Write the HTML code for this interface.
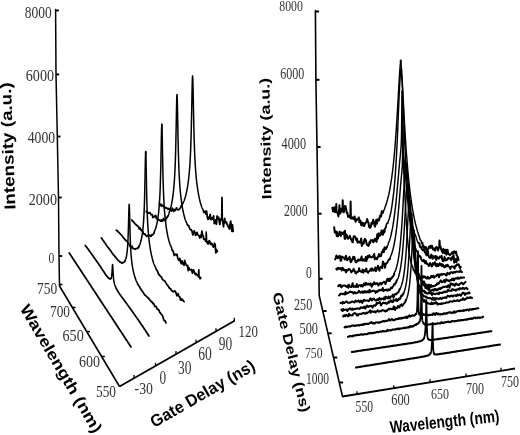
<!DOCTYPE html>
<html><head><meta charset="utf-8"><title>Gate delay spectra</title>
<style>html,body{margin:0;padding:0;background:#fff;} svg{display:block;}</style></head>
<body><svg width="520" height="435" viewBox="0 0 520 435">
<rect width="520" height="435" fill="#fff"/>
<polyline points="55.60,9.60 56.00,74.40 57.30,136.50 58.50,197.50 59.00,256.00 59.50,286.00" fill="none" stroke="#000" stroke-width="1.5" stroke-linejoin="round" stroke-linecap="round" />
<line x1="55.70" y1="10.50" x2="58.90" y2="10.50" stroke="#000" stroke-width="1.9" stroke-linecap="butt"/>
<line x1="56.00" y1="74.40" x2="59.20" y2="74.40" stroke="#000" stroke-width="1.9" stroke-linecap="butt"/>
<line x1="57.30" y1="136.50" x2="60.50" y2="136.50" stroke="#000" stroke-width="1.9" stroke-linecap="butt"/>
<line x1="58.50" y1="197.50" x2="61.70" y2="197.50" stroke="#000" stroke-width="1.9" stroke-linecap="butt"/>
<line x1="59.00" y1="256.00" x2="62.20" y2="256.00" stroke="#000" stroke-width="1.9" stroke-linecap="butt"/>
<line x1="59.50" y1="286.00" x2="119.50" y2="386.50" stroke="#000" stroke-width="1.6" stroke-linecap="butt"/>
<line x1="59.20" y1="284.50" x2="62.40" y2="284.50" stroke="#000" stroke-width="1.6" stroke-linecap="butt"/>
<line x1="72.34" y1="307.50" x2="75.54" y2="307.50" stroke="#000" stroke-width="1.6" stroke-linecap="butt"/>
<line x1="86.72" y1="331.60" x2="89.92" y2="331.60" stroke="#000" stroke-width="1.6" stroke-linecap="butt"/>
<line x1="101.59" y1="356.50" x2="104.79" y2="356.50" stroke="#000" stroke-width="1.6" stroke-linecap="butt"/>
<line x1="119.50" y1="386.50" x2="234.60" y2="320.80" stroke="#000" stroke-width="1.8" stroke-linecap="butt"/>
<line x1="134.00" y1="378.22" x2="134.00" y2="375.02" stroke="#000" stroke-width="1.3" stroke-linecap="butt"/>
<line x1="155.50" y1="365.95" x2="155.50" y2="362.75" stroke="#000" stroke-width="1.3" stroke-linecap="butt"/>
<line x1="176.00" y1="354.25" x2="176.00" y2="351.05" stroke="#000" stroke-width="1.3" stroke-linecap="butt"/>
<line x1="196.00" y1="342.83" x2="196.00" y2="339.63" stroke="#000" stroke-width="1.3" stroke-linecap="butt"/>
<line x1="216.00" y1="331.42" x2="216.00" y2="328.22" stroke="#000" stroke-width="1.3" stroke-linecap="butt"/>
<line x1="234.30" y1="320.97" x2="234.30" y2="317.77" stroke="#000" stroke-width="1.3" stroke-linecap="butt"/>
<text x="24.80" y="17.60" font-family="'Liberation Serif', serif" font-size="17.05" fill="#333" textLength="26.90" lengthAdjust="spacingAndGlyphs">8000</text>
<text x="25.80" y="80.50" font-family="'Liberation Serif', serif" font-size="17.21" fill="#333" textLength="28.30" lengthAdjust="spacingAndGlyphs">6000</text>
<text x="27.70" y="143.10" font-family="'Liberation Serif', serif" font-size="17.21" fill="#333" textLength="27.40" lengthAdjust="spacingAndGlyphs">4000</text>
<text x="28.70" y="204.90" font-family="'Liberation Serif', serif" font-size="17.52" fill="#333" textLength="28.30" lengthAdjust="spacingAndGlyphs">2000</text>
<text x="48.40" y="262.80" font-family="'Liberation Serif', serif" font-size="15.50" fill="#333" textLength="5.80" lengthAdjust="spacingAndGlyphs">0</text>
<text x="37.00" y="293.80" font-family="'Liberation Serif', serif" font-size="16.28" fill="#333" textLength="20.20" lengthAdjust="spacingAndGlyphs">750</text>
<text x="50.00" y="317.30" font-family="'Liberation Serif', serif" font-size="17.05" fill="#333" textLength="20.00" lengthAdjust="spacingAndGlyphs">700</text>
<text x="62.50" y="341.00" font-family="'Liberation Serif', serif" font-size="16.59" fill="#333" textLength="21.20" lengthAdjust="spacingAndGlyphs">650</text>
<text x="79.00" y="367.30" font-family="'Liberation Serif', serif" font-size="17.05" fill="#333" textLength="21.00" lengthAdjust="spacingAndGlyphs">600</text>
<text x="96.00" y="396.70" font-family="'Liberation Serif', serif" font-size="17.36" fill="#333" textLength="20.00" lengthAdjust="spacingAndGlyphs">550</text>
<text x="134.60" y="394.00" font-family="'Liberation Serif', serif" font-size="17.05" fill="#333" textLength="18.40" lengthAdjust="spacingAndGlyphs">-30</text>
<text x="159.60" y="383.60" font-family="'Liberation Serif', serif" font-size="17.98" fill="#333" textLength="6.60" lengthAdjust="spacingAndGlyphs">0</text>
<text x="178.00" y="374.00" font-family="'Liberation Serif', serif" font-size="17.83" fill="#333" textLength="13.50" lengthAdjust="spacingAndGlyphs">30</text>
<text x="198.20" y="360.30" font-family="'Liberation Serif', serif" font-size="18.76" fill="#333" textLength="13.60" lengthAdjust="spacingAndGlyphs">60</text>
<text x="218.80" y="350.10" font-family="'Liberation Serif', serif" font-size="18.29" fill="#333" textLength="13.40" lengthAdjust="spacingAndGlyphs">90</text>
<text x="238.60" y="337.40" font-family="'Liberation Serif', serif" font-size="16.74" fill="#333" textLength="19.40" lengthAdjust="spacingAndGlyphs">120</text>
<text x="15.40" y="209.60" font-family="'Liberation Sans', sans-serif" font-weight="bold" font-size="15.80" textLength="127.50" lengthAdjust="spacingAndGlyphs" transform="rotate(-92 15.40 209.60)">Intensity (a.u.)</text>
<text x="19.50" y="308.50" font-family="'Liberation Sans', sans-serif" font-weight="bold" font-size="15.80" textLength="146.00" lengthAdjust="spacingAndGlyphs" transform="rotate(59.5 19.50 308.50)">Wavelength (nm)</text>
<text x="154.30" y="428.00" font-family="'Liberation Sans', sans-serif" font-weight="bold" font-size="16.80" textLength="118.00" lengthAdjust="spacingAndGlyphs" transform="rotate(-30 154.30 428.00)">Gate Delay (ns)</text>
<polyline points="69.20,252.90 69.80,253.81 70.40,254.73 71.00,255.64 71.60,256.55 72.20,257.47 72.80,258.38 73.40,259.30 74.00,260.21 74.60,261.12 75.20,262.04 75.80,262.95 76.40,263.86 77.00,264.78 77.60,265.69 78.20,266.60 78.80,267.52 79.40,268.43 80.00,269.34 80.60,270.26 81.20,271.17 81.80,272.09 82.40,273.00 83.00,273.91 83.60,274.83 84.20,275.74 84.80,276.65 85.40,277.57 86.00,278.48 86.60,279.39 87.20,280.31 87.80,281.22 88.40,282.13 89.00,283.05 89.60,283.96 90.20,284.88 90.80,285.79 91.40,286.70 92.00,287.62 92.60,288.53 93.20,289.44 93.80,290.36 94.40,291.27 95.00,292.18 95.60,293.10 96.20,294.01 96.80,294.93 97.40,295.84 98.00,296.75 98.60,297.67 99.20,298.58 99.80,299.49 100.40,300.41 101.00,301.32 101.60,302.23 102.20,303.15 102.80,304.06 103.40,304.97 104.00,305.89 104.60,306.80 105.20,307.72 105.80,308.63 106.40,309.54 107.00,310.46 107.60,311.37 108.20,312.28 108.80,313.20 109.40,314.11 110.00,315.02 110.60,315.94 111.20,316.85 111.80,317.77 112.40,318.68 113.00,319.59 113.60,320.51 114.20,321.42 114.80,322.33 115.40,323.25 116.00,324.16 116.60,325.07 117.20,325.99 117.80,326.90 118.40,327.81 119.00,328.73 119.60,329.64 120.20,330.56 120.80,331.47 121.40,332.38 122.00,333.30 122.60,334.21 123.20,335.12 123.80,336.04 124.40,336.95 125.00,337.86 125.60,338.78 126.20,339.69 126.80,340.60 127.40,341.52 128.00,342.43 128.60,343.35 129.20,344.26 129.80,345.17 130.40,346.09 131.00,347.00" fill="none" stroke="#000" stroke-width="1.75" stroke-linejoin="round" stroke-linecap="round" />
<polyline points="85.30,245.50 85.90,246.28 86.50,247.07 87.10,247.86 87.60,248.53 87.70,248.66 87.72,248.69 87.84,248.85 87.96,249.01 88.08,249.17 88.20,249.33 88.30,249.47 88.32,249.49 88.44,249.66 88.56,249.82 88.68,249.98 88.80,250.14 88.90,250.28 88.92,250.30 89.04,250.47 89.16,250.63 89.28,250.79 89.40,250.96 89.50,251.09 89.52,251.12 89.64,251.28 89.76,251.45 89.88,251.61 90.00,251.78 90.10,251.91 90.12,251.94 90.24,252.10 90.36,252.27 90.48,252.43 90.60,252.60 90.70,252.74 90.72,252.76 90.84,252.93 90.96,253.10 91.08,253.26 91.20,253.43 91.30,253.57 91.32,253.59 91.44,253.76 91.56,253.93 91.68,254.09 91.80,254.26 91.90,254.40 91.92,254.43 92.04,254.60 92.16,254.76 92.28,254.93 92.40,255.10 92.50,255.24 92.52,255.27 92.64,255.43 92.76,255.60 92.88,255.77 93.00,255.94 93.10,256.08 93.12,256.11 93.24,256.28 93.36,256.45 93.48,256.62 93.60,256.79 93.70,256.93 93.72,256.96 93.84,257.13 93.96,257.30 94.08,257.47 94.20,257.64 94.30,257.78 94.32,257.81 94.44,257.98 94.56,258.15 94.68,258.32 94.80,258.49 94.90,258.63 94.92,258.66 95.04,258.83 95.16,259.00 95.28,259.17 95.40,259.35 95.50,259.49 95.52,259.52 95.64,259.69 95.76,259.86 95.88,260.03 96.00,260.21 96.10,260.35 96.12,260.38 96.24,260.55 96.36,260.72 96.48,260.90 96.60,261.07 96.70,261.21 96.72,261.24 96.84,261.41 96.96,261.59 97.08,261.76 97.20,261.93 97.30,262.08 97.32,262.11 97.44,262.28 97.56,262.45 97.68,262.63 97.80,262.80 97.90,262.95 97.92,262.98 98.04,263.15 98.16,263.32 98.28,263.50 98.40,263.67 98.50,263.82 98.52,263.85 98.64,264.02 98.76,264.19 98.88,264.37 99.00,264.54 99.10,264.69 99.12,264.72 99.24,264.89 99.36,265.07 99.48,265.24 99.60,265.42 99.70,265.56 99.72,265.59 99.84,265.77 99.96,265.94 100.08,266.12 100.20,266.29 100.30,266.44 100.32,266.47 100.44,266.65 100.56,266.82 100.68,267.00 100.80,267.18 100.90,267.33 100.92,267.36 101.04,267.54 101.16,267.72 101.28,267.90 101.40,268.09 101.50,268.24 101.52,268.27 101.64,268.45 101.76,268.63 101.88,268.82 102.00,269.00 102.10,269.15 102.12,269.18 102.24,269.37 102.36,269.55 102.48,269.74 102.60,269.92 102.70,270.08 102.72,270.11 102.84,270.29 102.96,270.47 103.08,270.66 103.20,270.84 103.30,271.00 103.32,271.03 103.44,271.21 103.56,271.40 103.68,271.58 103.80,271.76 103.90,271.91 103.92,271.94 104.04,272.13 104.16,272.31 104.28,272.49 104.40,272.67 104.50,272.82 104.52,272.85 104.64,273.03 104.76,273.21 104.88,273.39 105.00,273.56 105.10,273.71 105.12,273.74 105.24,273.92 105.36,274.09 105.48,274.26 105.60,274.44 105.70,274.58 105.72,274.61 105.84,274.78 105.96,274.95 106.08,275.11 106.20,275.28 106.30,275.41 106.32,275.44 106.44,275.60 106.56,275.76 106.68,275.92 106.80,276.08 106.90,276.21 106.92,276.23 107.04,276.38 107.16,276.53 107.28,276.68 107.40,276.82 107.50,276.94 107.52,276.97 107.64,277.10 107.76,277.24 107.88,277.37 108.00,277.50 108.10,277.60 108.12,277.63 108.24,277.75 108.36,277.86 108.48,277.98 108.60,278.09 108.70,278.18 108.72,278.19 108.84,278.30 108.96,278.39 109.08,278.48 109.20,278.57 109.30,278.63 109.32,278.64 109.44,278.71 109.56,278.78 109.68,278.83 109.80,278.88 109.90,278.91 109.92,278.91 110.04,278.93 110.16,278.94 110.28,278.94 110.40,278.91 110.50,278.88 110.52,278.87 110.64,278.80 110.76,278.71 110.88,278.57 111.00,278.40 111.10,278.21" fill="none" stroke="#000" stroke-width="1.75" stroke-linejoin="round" stroke-linecap="round" />
<polyline points="111.10,278.21 111.12,278.17 111.24,277.87 111.36,277.49 111.48,276.99 111.60,276.35 111.70,275.67 111.72,275.52 111.84,274.45 111.96,273.08 112.08,271.37 112.20,269.35 112.30,267.56 112.32,267.21 112.44,265.36 112.56,264.42 112.68,264.82 112.80,266.46 112.90,268.38 112.92,268.79 113.04,271.25 113.16,273.50 113.28,275.43 113.40,277.02 113.50,278.13 113.52,278.33 113.64,279.42 113.76,280.34 113.88,281.12 114.00,281.80 114.10,282.31 114.12,282.41 114.24,282.94 114.36,283.43 114.48,283.88 114.60,284.30 114.70,284.62 114.72,284.69 114.84,285.05 114.96,285.40 115.08,285.73 115.20,286.05 115.30,286.30 115.32,286.35 115.44,286.64 115.56,286.92 115.68,287.20 115.80,287.46 115.90,287.68 115.92,287.72 116.04,287.97 116.16,288.22 116.28,288.46" fill="none" stroke="#000" stroke-width="1.5" stroke-linejoin="round" stroke-linecap="round" />
<polyline points="116.28,288.46 116.40,288.70 116.50,288.89 116.52,288.93 116.64,289.15 116.76,289.37 116.88,289.59 117.00,289.81 117.10,289.99 117.12,290.02 117.24,290.23 117.36,290.44 117.48,290.64 117.60,290.84 117.70,291.01 117.72,291.04 117.84,291.24 117.96,291.44 118.08,291.63 118.20,291.82 118.30,291.98 118.32,292.01 118.44,292.20 118.56,292.38 118.68,292.57 118.80,292.75 118.90,292.90 118.92,292.93 119.04,293.11 119.16,293.29 119.28,293.46 119.40,293.64 119.50,293.78 119.52,293.81 119.64,293.99 119.76,294.16 119.88,294.33 120.00,294.50 120.10,294.64 120.12,294.67 120.24,294.84 120.36,295.00 120.48,295.17 120.60,295.34 120.70,295.48 120.72,295.50 120.84,295.67 120.96,295.83 121.08,296.00 121.20,296.16 121.30,296.30 121.32,296.32 121.44,296.49 121.56,296.65 121.68,296.81 121.80,296.97 121.90,297.11 121.92,297.13 122.04,297.30 122.16,297.46 122.28,297.62 122.40,297.78 122.50,297.91 122.52,297.94 122.64,298.10 122.76,298.26 122.88,298.42 123.00,298.58 123.10,298.72 123.12,298.75 123.24,298.91 123.36,299.07 123.48,299.23 123.60,299.39 123.70,299.53 123.72,299.55 123.84,299.72 123.96,299.88 124.08,300.04 124.20,300.20 124.30,300.34 124.32,300.37 124.44,300.53 124.56,300.69 124.68,300.86 124.80,301.02 124.90,301.16 124.92,301.19 125.04,301.36 125.16,301.52 125.28,301.69 125.40,301.85 125.50,301.99 125.52,302.02 125.64,302.18 125.76,302.35 125.88,302.52 126.00,302.68 126.10,302.82 126.12,302.85 126.24,303.01 126.36,303.18 126.48,303.35 126.60,303.51 126.70,303.65 126.72,303.68 126.84,303.84 126.96,304.01 127.08,304.17 127.20,304.34 127.30,304.48 127.32,304.51 127.44,304.67 127.56,304.84 127.68,305.00 127.80,305.17 127.90,305.31 127.92,305.34 128.04,305.50 128.16,305.67 128.28,305.84 128.40,306.00 128.50,306.14 128.52,306.17 128.64,306.33 128.76,306.50 128.88,306.67 129.00,306.83 129.10,306.97 129.12,307.00 129.24,307.17 129.36,307.33 129.48,307.50 129.60,307.67 129.70,307.81 129.72,307.83 129.84,308.00 129.96,308.17 130.08,308.34 130.20,308.50 130.30,308.64 130.32,308.67 130.44,308.84 130.56,309.00 130.68,309.17 130.80,309.34 130.90,309.48 130.92,309.51 131.04,309.67 131.16,309.84 131.28,310.01 131.40,310.18 131.50,310.32 131.52,310.35 131.64,310.51 131.76,310.68 131.88,310.85 132.00,311.02 132.10,311.16 132.12,311.19 132.24,311.36 132.36,311.52 132.48,311.69 132.60,311.86 132.70,312.00 132.72,312.03 132.84,312.20 132.96,312.37 133.08,312.54 133.20,312.71 133.30,312.85 133.32,312.88 133.44,313.05 133.56,313.21 133.68,313.38 133.80,313.55 133.90,313.70 133.92,313.72 134.04,313.89 134.16,314.06 134.28,314.23 134.40,314.40 134.50,314.55 134.52,314.57 134.64,314.74 134.76,314.91 134.88,315.08 135.00,315.26 135.10,315.40 135.12,315.43 135.24,315.60 135.36,315.77 135.48,315.94 135.60,316.11 135.70,316.25 135.72,316.28 135.84,316.45 135.96,316.62 136.08,316.80 136.20,316.97 136.30,317.11 136.32,317.14 136.44,317.31 136.56,317.48 136.68,317.65 136.80,317.83 136.90,317.97 136.92,318.00 137.04,318.17 137.16,318.34 137.28,318.52 137.40,318.69 137.50,318.83 137.52,318.86 138.10,319.70 138.70,320.57 139.30,321.44 139.90,322.32 140.50,323.19 141.10,324.07 141.70,324.96 142.30,325.85 142.90,326.74 143.50,327.63 144.10,328.53 144.70,329.43 145.30,330.34 145.90,331.25 146.50,332.16 147.10,333.07 147.70,333.99 148.30,334.92 148.90,335.85 149.00,336.00" fill="none" stroke="#000" stroke-width="1.75" stroke-linejoin="round" stroke-linecap="round" />
<polyline points="101.40,237.88 102.00,238.77 102.60,239.66 103.20,240.50 103.80,241.33 104.20,241.93 104.32,242.11 104.40,242.24 104.44,242.30 104.56,242.48 104.68,242.64 104.80,242.78 104.92,242.92 105.00,243.02 105.04,243.07 105.16,243.21 105.28,243.35 105.40,243.54 105.52,243.74 105.60,243.88 105.64,243.95 105.76,244.16 105.88,244.36 106.00,244.57 106.12,244.75 106.20,244.87 106.24,244.94 106.36,245.12 106.48,245.30 106.60,245.49 106.72,245.67 106.80,245.77 106.84,245.82 106.96,245.97 107.08,246.13 107.20,246.28 107.32,246.43 107.40,246.53 107.44,246.58 107.56,246.72 107.68,246.86 107.80,247.00 107.92,247.14 108.00,247.23 108.04,247.28 108.16,247.43 108.28,247.58 108.40,247.74 108.52,247.89 108.60,248.00 108.64,248.05 108.76,248.20 108.88,248.39 109.00,248.60 109.12,248.81 109.20,248.95 109.24,249.02 109.36,249.22 109.48,249.43 109.60,249.57 109.72,249.70 109.80,249.79 109.84,249.83 109.96,249.96 110.08,250.08 110.20,250.21 110.32,250.34 110.40,250.43 110.44,250.47 110.56,250.60 110.68,250.73 110.80,250.86 110.92,251.01 111.00,251.15 111.04,251.22 111.16,251.43 111.28,251.65 111.40,251.86 111.52,252.07 111.60,252.22 111.64,252.27 111.76,252.44 111.88,252.61 112.00,252.77 112.12,252.94 112.20,253.05 112.24,253.11 112.36,253.28 112.48,253.46 112.60,253.64 112.72,253.81 112.80,253.93 112.84,253.99 112.96,254.17 113.08,254.32 113.20,254.46 113.32,254.59 113.40,254.68 113.44,254.73 113.56,254.87 113.68,255.00 113.80,255.12 113.92,255.23 114.00,255.31 114.04,255.35 114.16,255.46 114.28,255.57 114.40,255.68 114.52,255.89 114.60,256.04 114.64,256.11 114.76,256.32 114.88,256.53 115.00,256.75 115.12,256.94 115.20,256.98 115.24,257.01 115.36,257.08 115.48,257.14 115.60,257.21 115.72,257.27 115.80,257.30 115.84,257.36 115.96,257.53 116.08,257.70 116.20,257.87 116.32,258.04 116.40,258.15 116.44,258.21 116.56,258.38 116.68,258.56 116.80,258.73 116.92,258.90 117.00,259.02 117.04,259.08 117.16,259.25 117.28,259.39 117.40,259.52 117.52,259.65 117.60,259.73 117.64,259.77 117.76,259.90 117.88,260.02 118.00,260.15 118.12,260.27 118.20,260.36 118.24,260.40 118.36,260.52 118.48,260.65 118.60,260.77 118.72,260.86 118.80,260.91 118.84,260.94 118.96,261.02 119.08,261.10 119.20,261.18 119.32,261.27 119.40,261.36 119.44,261.41 119.56,261.55 119.68,261.69 119.80,261.83 119.92,261.96 120.00,262.05 120.04,262.06 120.16,262.08 120.28,262.09 120.40,262.11 120.52,262.12 120.60,262.12 120.64,262.12 120.76,262.18 120.88,262.31 121.00,262.42 121.12,262.54 121.20,262.61 121.24,262.65 121.36,262.76 121.48,262.85 121.60,262.93 121.72,263.00 121.80,263.05 121.84,263.07 121.96,263.14 122.08,263.20 122.20,263.15 122.32,263.08 122.40,263.03 122.44,263.00 122.56,262.91 122.68,262.82 122.80,262.72 122.92,262.68 123.00,262.65 123.04,262.63 123.16,262.58 123.28,262.52 123.40,262.45 123.52,262.37 123.60,262.35 123.64,262.33 123.76,262.28 123.88,262.23 124.00,262.16 124.12,262.08 124.20,262.02 124.24,261.98 124.36,261.86 124.48,261.72 124.60,261.57 124.72,261.40 124.80,261.27 124.84,261.21 124.96,260.97 125.08,260.68" fill="none" stroke="#000" stroke-width="1.75" stroke-linejoin="round" stroke-linecap="round" />
<polyline points="125.08,260.68 125.20,260.39 125.32,260.08 125.40,259.88 125.44,259.77 125.56,259.46 125.68,259.15 125.80,258.79 125.92,258.40 126.00,258.12 126.04,257.97 126.16,257.51 126.28,257.01 126.40,256.44 126.52,255.82 126.60,255.38 126.64,255.15 126.76,254.41 126.88,253.60 127.00,252.70 127.12,251.71 127.20,250.99 127.24,250.60 127.36,249.37 127.48,247.98 127.60,246.40 127.72,244.61 127.80,243.28 127.84,242.57 127.96,240.22 128.08,237.51 128.20,234.40 128.32,230.84 128.40,228.21 128.44,226.81 128.56,222.37 128.68,217.68 128.80,213.02 128.92,208.87 129.00,206.67 129.04,205.80 129.16,204.35 129.28,204.83 129.40,207.17 129.52,210.96 129.60,214.02 129.64,215.64 129.76,220.64 129.88,225.58 130.00,230.20 130.12,234.38 130.20,236.92 130.24,238.11 130.36,241.40 130.48,244.30 130.60,246.85 130.72,249.11 130.80,250.48 130.84,251.12 130.96,252.93 131.08,254.56 131.20,256.05 131.32,257.41 131.40,258.26 131.44,258.67 131.56,259.83 131.68,260.92 131.80,261.94 131.92,262.90 132.00,263.51 132.04,263.80 132.16,264.67 132.28,265.48 132.40,266.26 132.52,267.01 132.60,267.48 132.64,267.71 132.76,268.38 132.88,269.02 133.00,269.64 133.12,270.23 133.20,270.61 133.24,270.80 133.36,271.35 133.48,271.89 133.60,272.41 133.72,272.91 133.80,273.24 133.84,273.40 133.96,273.87 134.08,274.32 134.20,274.75 134.32,275.17 134.40,275.44 134.44,275.58 134.56,275.97 134.68,276.35 134.80,276.74 134.92,277.12 135.00,277.37 135.04,277.48 135.16,277.83 135.28,278.18 135.40,278.52 135.52,278.88 135.60,279.12 135.64,279.23 135.76,279.59 135.88,279.95 136.00,280.30 136.12,280.64 136.20,280.79 136.24,280.87 136.36,281.09 136.48,281.29 136.60,281.48 136.72,281.66 136.80,281.78 136.84,281.88 136.96,282.20 137.08,282.52 137.20,282.83 137.32,283.15 137.40,283.36 137.44,283.47 137.56,283.74 137.68,283.98" fill="none" stroke="#000" stroke-width="1.5" stroke-linejoin="round" stroke-linecap="round" />
<polyline points="137.68,283.98 137.80,284.20 137.92,284.43 138.00,284.58 138.04,284.65 138.16,284.87 138.28,285.05 138.40,285.22 138.52,285.38 138.60,285.48 138.64,285.53 138.76,285.68 138.88,285.83 139.00,286.01 139.12,286.20 139.20,286.32 139.24,286.38 139.36,286.56 139.48,286.74 139.60,286.92 139.72,287.17 139.80,287.34 139.84,287.43 139.96,287.69 140.08,287.94 140.20,288.20 140.32,288.44 140.40,288.54 140.44,288.59 140.56,288.73 140.68,288.88 140.80,289.02 140.92,289.16 141.00,289.25 141.04,289.31 141.16,289.49 141.28,289.67 141.40,289.85 141.52,290.02 141.60,290.14 141.64,290.19 141.76,290.38 141.88,290.58 142.00,290.78 142.12,290.98 142.20,291.11 142.24,291.18 142.36,291.37 142.48,291.53 142.60,291.66 142.72,291.79 142.80,291.87 142.84,291.92 142.96,292.04 143.08,292.17 143.20,292.38 143.32,292.62 143.40,292.77 143.44,292.85 143.56,293.08 143.68,293.32 143.80,293.55 143.92,293.73 144.00,293.84 144.04,293.90 144.16,294.08 144.28,294.25 144.40,294.42 144.52,294.59 144.60,294.69 144.64,294.74 144.76,294.89 144.88,295.03 145.00,295.18 145.12,295.32 145.20,295.42 145.24,295.42 145.36,295.45 145.48,295.47 145.60,295.49 145.72,295.50 145.80,295.51 145.84,295.52 145.96,295.62 146.08,295.81 146.20,296.00 146.32,296.18 146.40,296.31 146.44,296.37 146.56,296.56 146.68,296.67 146.80,296.73 146.92,296.80 147.00,296.84 147.04,296.86 147.16,296.92 147.28,296.98 147.40,297.15 147.52,297.33 147.60,297.45 147.64,297.51 147.76,297.69 147.88,297.88 148.00,298.06 148.12,298.10 148.20,298.12 148.24,298.13 148.36,298.17 148.48,298.20 148.60,298.23 148.72,298.30 148.80,298.44 148.84,298.52 148.96,298.74 149.08,298.96 149.20,299.19 149.32,299.41 149.40,299.56 149.44,299.60 149.56,299.72 149.68,299.84 149.80,299.96 149.92,300.08 150.00,300.16 150.04,300.20 150.16,300.31 150.28,300.40 150.40,300.50 150.52,300.60 150.60,300.66 150.64,300.69 150.76,300.79 150.88,300.96 151.00,301.17 151.12,301.37 151.20,301.51 151.24,301.58 151.36,301.79 151.48,302.00 151.60,302.02 151.72,302.01 151.80,302.00 151.84,302.00 151.96,301.98 152.08,301.97 152.20,301.96 152.32,302.26 152.40,302.46 152.44,302.56 152.56,302.86 152.68,303.16 152.80,303.47 152.92,303.71 153.00,303.67 153.04,303.64 153.16,303.58 153.28,303.51 153.40,303.45 153.52,303.38 153.60,303.34 153.64,303.42 153.76,303.65 153.88,303.89 154.00,304.13 154.12,304.37 154.20,304.52 154.80,306.44 155.40,306.41 156.00,306.44 156.60,307.69 157.20,309.02 157.80,309.38 158.40,309.57 159.00,310.47 159.60,311.95 160.20,312.92 160.80,313.49 161.40,314.50 162.00,314.71 162.60,316.06 163.20,317.83 163.80,319.92 164.40,320.68 165.00,320.64 165.60,321.96 166.00,322.92" fill="none" stroke="#000" stroke-width="1.75" stroke-linejoin="round" stroke-linecap="round" />
<polyline points="116.30,230.13 116.90,230.77 117.50,230.82 118.10,231.78 118.70,232.32 119.30,232.70 119.90,233.50 120.50,234.26 120.70,234.42 120.82,234.52 120.94,234.63 121.06,234.77 121.10,234.81 121.18,234.90 121.30,235.03 121.42,235.16 121.54,235.30 121.66,235.42 121.70,235.46 121.78,235.54 121.90,235.66 122.02,235.79 122.14,235.91 122.26,236.03 122.30,236.07 122.38,236.18 122.50,236.35 122.62,236.52 122.74,236.69 122.86,236.87 122.90,236.92 122.98,237.04 123.10,237.21 123.22,237.39 123.34,237.57 123.46,237.75 123.50,237.81 123.58,237.93 123.70,238.11 123.82,238.20 123.94,238.29 124.06,238.38 124.10,238.41 124.18,238.47 124.30,238.56 124.42,238.66 124.54,238.85 124.66,239.05 124.70,239.11 124.78,239.24 124.90,239.43 125.02,239.62 125.14,239.79 125.26,239.93 125.30,239.97 125.38,240.06 125.50,240.19 125.62,240.32 125.74,240.45 125.86,240.51 125.90,240.51 125.98,240.51 126.10,240.52 126.22,240.53 126.34,240.54 126.46,240.56 126.50,240.57 126.58,240.70 126.70,240.90 126.82,241.10 126.94,241.30 127.06,241.50 127.10,241.57 127.18,241.71 127.30,241.87 127.42,242.03 127.54,242.18 127.66,242.34 127.70,242.39 127.78,242.50 127.90,242.66 128.02,242.80 128.14,242.94 128.26,243.08 128.30,243.13 128.38,243.22 128.50,243.36 128.62,243.52 128.74,243.76 128.86,244.00 128.90,244.08 128.98,244.24 129.10,244.49 129.22,244.73 129.34,244.97 129.46,245.22 129.50,245.30 129.58,245.47 129.70,245.71 129.82,245.96 129.94,246.21 130.06,246.38 130.10,246.42 130.18,246.48 130.30,246.56 130.42,246.64 130.54,246.71 130.66,246.78 130.70,246.80 130.78,246.90 130.90,247.04 131.02,247.18 131.14,247.31 131.26,247.44 131.30,247.48 131.38,247.57 131.50,247.39 131.62,247.15 131.74,246.91 131.86,246.66 131.90,246.57 131.98,246.41 132.10,246.15 132.22,246.55 132.34,246.94 132.46,247.34 132.50,247.47 132.58,247.73 132.70,248.12 132.82,248.44 132.94,248.42 133.06,248.39 133.10,248.38 133.18,248.36 133.30,248.33 133.42,248.29 133.54,248.31 133.66,248.43 133.70,248.47 133.78,248.54 133.90,248.66 134.02,248.77 134.14,248.88 134.26,248.97 134.30,248.99 134.38,249.04 134.50,249.11 134.62,249.17 134.74,249.23 134.86,249.28 134.90,249.30 134.98,249.25 135.10,249.17 135.22,249.09 135.34,249.00 135.46,248.90 135.50,248.87 135.58,248.81 135.70,248.76 135.82,248.73 135.94,248.69 136.06,248.64 136.10,248.62 136.18,248.59 136.30,248.53 136.42,248.58 136.54,248.62 136.66,248.66 136.70,248.67 136.78,248.69 136.90,248.72 137.02,248.71 137.14,248.54 137.26,248.36 137.30,248.30 137.38,248.17 137.50,247.99 137.62,247.80 137.74,247.70 137.86,247.79 137.90,247.82 137.98,247.86 138.10,247.92 138.22,247.94 138.34,247.95 138.46,247.79 138.50,247.69 138.58,247.48 138.70,247.16 138.82,246.85 138.94,246.53 139.06,246.22 139.10,246.11 139.18,245.97 139.30,245.75" fill="none" stroke="#000" stroke-width="1.75" stroke-linejoin="round" stroke-linecap="round" />
<polyline points="139.30,245.75 139.42,245.51 139.54,245.26 139.66,244.98 139.70,244.89 139.78,244.70 139.90,244.38 140.02,244.06 140.14,243.71 140.26,243.34 140.30,243.22 140.38,242.97 140.50,242.58 140.62,242.15 140.74,241.71 140.86,241.24 140.90,241.08 140.98,240.75 141.10,240.24 141.22,239.71 141.34,239.19 141.46,238.65 141.50,238.46 141.58,238.08 141.70,237.48 141.82,236.86 141.94,236.18 142.06,235.46 142.10,235.21 142.18,234.70 142.30,233.90 142.42,233.05 142.54,232.15 142.66,231.21 142.70,230.88 142.78,230.20 142.90,229.13 143.02,227.98 143.14,226.75 143.26,225.42 143.30,224.96 143.38,223.97 143.50,222.39 143.62,220.66 143.74,218.76 143.86,216.65 143.90,215.90 143.98,214.31 144.10,211.72 144.22,208.80 144.34,205.51 144.46,201.79 144.50,200.45 144.58,197.59 144.70,192.86 144.82,187.60 144.94,181.83 145.06,175.67 145.10,173.57 145.18,169.37 145.30,163.34 145.42,158.11 145.54,154.32 145.66,152.51 145.70,151.72" fill="none" stroke="#000" stroke-width="1.5" stroke-linejoin="round" stroke-linecap="round" />
<polyline points="145.70,151.72 145.78,153.00" fill="none" stroke="#000" stroke-width="1.75" stroke-linejoin="round" stroke-linecap="round" />
<polyline points="145.78,153.00 145.90,155.73 146.02,160.28 146.14,166.06 146.26,172.49 146.30,174.67 146.38,179.02 146.50,185.32 146.62,191.18 146.74,196.51 146.86,201.29 146.90,202.77 146.98,205.56 147.10,209.36 147.22,212.75 147.34,215.78 147.46,218.51 147.50,219.36 147.58,220.97 147.70,223.21 147.82,225.26 147.94,227.14 148.06,228.88 148.10,229.43 148.18,230.50 148.30,232.02 148.42,233.44 148.54,234.78 148.66,236.06 148.70,236.46 148.78,237.26 148.90,238.41 149.02,239.53 149.14,240.61 149.26,241.64 149.30,241.97 149.38,242.63 149.50,243.58 149.62,244.50 149.74,245.34 149.86,246.16 149.90,246.43 149.98,246.95 150.10,247.72 150.22,248.45 150.34,249.18 150.46,249.92 150.50,250.16 150.58,250.63 150.70,251.33 150.82,252.00 150.94,252.66 151.06,253.26 151.10,253.44 151.18,253.80 151.30,254.33 151.42,254.85 151.54,255.34 151.66,255.82 151.70,255.98 151.78,256.35 151.90,256.88 152.02,257.40 152.14,257.91 152.26,258.41 152.30,258.58 152.38,258.90 152.50,259.37 152.62,259.82 152.74,260.26 152.86,260.69 152.90,260.84 152.98,261.12 153.10,261.53 153.22,261.92 153.34,262.29 153.46,262.66 153.50,262.79 153.58,263.04 153.70,263.40 153.82,263.75 153.94,264.05 154.06,264.32 154.10,264.41 154.18,264.58 154.30,264.81 154.42,265.03 154.54,265.26 154.66,265.55 154.70,265.65 154.78,265.84 154.90,266.12 155.02,266.40 155.14,266.68 155.26,266.95 155.30,267.04 155.38,267.21 155.50,267.47 155.62,267.73 155.74,267.98 155.86,268.23 155.90,268.31 155.98,268.49 156.10,268.77 156.22,269.05" fill="none" stroke="#000" stroke-width="1.5" stroke-linejoin="round" stroke-linecap="round" />
<polyline points="156.22,269.05 156.34,269.32 156.46,269.59 156.50,269.69 156.58,269.87 156.70,270.03 156.82,270.16 156.94,270.29 157.06,270.41 157.10,270.44 157.18,270.52 157.30,270.63 157.42,270.97 157.54,271.32 157.66,271.67 157.70,271.79 157.78,272.02 157.90,272.37 158.02,272.73 158.14,273.07 158.26,273.41 158.30,273.53 158.38,273.76 158.50,274.10 158.62,274.45 158.74,274.69 158.86,274.69 158.90,274.70 158.98,274.70 159.10,274.69 159.22,274.68 159.34,274.66 159.46,274.77 159.50,274.84 159.58,275.00 159.70,275.23 159.82,275.46 159.94,275.69 160.06,275.91 160.10,275.99 160.18,276.08 160.30,276.22 160.42,276.35 160.54,276.48 160.66,276.62 160.70,276.66 160.78,276.75 160.90,276.80 161.02,276.84 161.14,276.87 161.26,276.91 161.30,276.92 161.38,276.94 161.50,276.97 161.62,277.34 161.74,277.72 161.86,278.09 161.90,278.22 161.98,278.47 162.10,278.85 162.22,279.19 162.34,279.27 162.46,279.35 162.50,279.37 162.58,279.43 162.70,279.50 162.82,279.58 162.94,279.68 163.06,279.82 163.10,279.86 163.18,279.96 163.30,280.10 163.42,280.24 163.54,280.38 163.66,280.47 163.70,280.48 163.78,280.51 163.90,280.54 164.02,280.58 164.14,280.61 164.26,280.65 164.30,280.66 164.38,280.73 164.50,280.83 164.62,280.92 164.74,281.02 164.86,281.12 164.90,281.15 164.98,281.22 165.10,281.43 165.22,281.67 165.34,281.90 165.46,282.14 165.50,282.22 165.58,282.37 165.70,282.61 165.82,282.78 165.94,282.96 166.06,283.13 166.10,283.19 166.18,283.31 166.30,283.48 166.42,283.66 166.54,283.86 166.66,284.06 166.70,284.12 166.78,284.26 166.90,284.45 167.02,284.65 167.14,284.84 167.26,285.02 167.30,285.08 167.38,285.19 167.50,285.37 167.62,285.54 167.74,285.72 167.86,285.85 167.90,285.89 167.98,285.96 168.10,286.06 168.22,286.16 168.34,286.26 168.46,286.37 168.50,286.40 168.58,286.57 168.70,286.82 168.82,287.07 168.94,287.32 169.06,287.57 169.10,287.66 169.18,287.83 169.30,287.97 169.42,288.09 169.54,288.20 169.66,288.32 169.70,288.36 169.78,288.44 169.90,288.55 170.02,288.59 170.14,288.62 170.26,288.66 170.30,288.67 170.38,288.69 170.50,288.72 170.62,288.80 170.90,289.51 171.50,290.57 172.10,290.77 172.70,291.27 173.30,291.76 173.90,291.50 174.50,290.97 175.10,291.08 175.70,292.10 176.30,293.69 176.90,295.87 177.50,294.67 178.10,293.75 178.70,295.69 179.30,296.69 179.90,297.03 180.50,300.06 181.10,298.75 181.70,300.02 182.30,299.17 182.90,300.12 183.50,301.24 184.10,301.55" fill="none" stroke="#000" stroke-width="1.75" stroke-linejoin="round" stroke-linecap="round" />
<polyline points="131.80,219.92 132.40,221.07 133.00,221.12 133.60,222.17 134.20,222.76 134.80,223.61 135.40,224.01 136.00,224.63 136.60,225.38 136.80,225.39 136.92,225.40 137.04,225.40 137.16,225.48 137.20,225.53 137.28,225.62 137.40,225.77 137.52,225.92 137.64,226.07 137.76,226.22 137.80,226.27 137.88,226.33 138.00,226.42 138.12,226.52 138.24,226.61 138.36,226.70 138.40,226.74 138.48,226.80 138.60,227.11 138.72,227.46 138.84,227.82 138.96,228.18 139.00,228.30 139.08,228.54 139.20,228.90 139.32,228.69 139.44,228.48 139.56,228.26 139.60,228.19 139.68,228.05 139.80,227.83 139.92,227.71 140.04,228.09 140.16,228.47 140.20,228.60 140.28,228.85 140.40,229.24 140.52,229.63 140.64,229.86 140.76,229.80 140.80,229.78 140.88,229.73 141.00,229.67 141.12,229.61 141.24,229.55 141.36,229.68 141.40,229.77 141.48,229.96 141.60,230.25 141.72,230.54 141.84,230.82 141.96,231.11 142.00,231.21 142.08,231.22 142.20,231.23 142.32,231.24 142.44,231.26 142.56,231.27 142.60,231.28 142.68,231.28 142.80,231.60 142.92,231.97 143.04,232.35 143.16,232.73 143.20,232.85 143.28,233.11 143.40,233.50 143.52,233.62 143.64,233.73 143.76,233.85 143.80,233.88 143.88,233.96 144.00,234.06 144.12,234.13 144.24,234.09 144.36,234.03 144.40,234.00 144.48,233.95 144.60,233.86 144.72,233.77 144.84,233.78 144.96,234.01 145.00,234.09 145.08,234.24 145.20,234.47 145.32,234.69 145.44,234.92 145.56,235.10 145.60,235.14 145.68,235.23 145.80,235.36 145.92,235.48 146.04,235.61 146.16,235.74 146.20,235.78 146.28,235.86 146.40,235.98 146.52,236.09 146.64,236.21 146.76,236.33 146.80,236.36 146.88,236.44 147.00,236.31 147.12,236.13 147.24,235.95 147.36,235.77 147.40,235.70 147.48,235.58 147.60,235.39 147.72,235.42 147.84,235.44 147.96,235.47 148.00,235.48 148.08,235.50 148.20,235.52 148.32,235.52 148.44,235.46 148.56,235.39 148.60,235.37 148.68,235.32 148.80,235.24 148.92,235.17 149.04,235.12 149.16,235.13 149.20,235.13 149.28,235.13 149.40,235.14 149.52,235.14 149.64,235.14 149.76,235.23 149.80,235.29 149.88,235.41 150.00,235.59 150.12,235.77 150.24,235.95 150.36,236.12 150.40,236.18 150.48,236.21 150.60,236.25 150.72,236.29 150.84,236.33 150.96,236.36 151.00,236.37 151.08,236.39 151.20,236.17 151.32,235.89 151.44,235.61 151.56,235.32 151.60,235.22 151.68,235.02 151.80,234.72 151.92,234.78 152.04,234.83 152.16,234.88 152.20,234.89 152.28,234.91 152.40,234.94 152.52,234.93 152.64,234.80 152.76,234.67 152.80,234.62 152.88,234.53 153.00,234.38 153.12,234.22 153.24,234.08 153.36,233.95 153.40,233.91 153.48,233.81 153.60,233.66 153.72,233.50 153.84,233.32 153.96,233.03 154.00,232.90 154.08,232.65 154.20,232.27 154.32,231.89" fill="none" stroke="#000" stroke-width="1.75" stroke-linejoin="round" stroke-linecap="round" />
<polyline points="154.32,231.89 154.44,231.53 154.56,231.16 154.60,231.04 154.68,230.85 154.80,230.56 154.92,230.26 155.04,229.96 155.16,229.65 155.20,229.55 155.28,229.34 155.40,229.03 155.52,228.72 155.64,228.34 155.76,227.95 155.80,227.82 155.88,227.54 156.00,227.12 156.12,226.71 156.24,226.29 156.36,225.85 156.40,225.70 156.48,225.39 156.60,224.92 156.72,224.41 156.84,223.87 156.96,223.31 157.00,223.12 157.08,222.73 157.20,222.12 157.32,221.48 157.44,220.82 157.56,220.11 157.60,219.86 157.68,219.37 157.80,218.60 157.92,217.79 158.04,216.95 158.16,216.07 158.20,215.77 158.28,215.16 158.40,214.20 158.52,213.19 158.64,212.12 158.76,210.99 158.80,210.60 158.88,209.77 159.00,208.46 159.12,207.05 159.24,205.55 159.36,203.93 159.40,203.36 159.48,202.18 159.60,200.31 159.72,198.28 159.84,196.04 159.96,193.58 160.00,192.70 160.08,190.84 160.20,187.80 160.32,184.35 160.44,180.50 160.56,176.21 160.60,174.67 160.68,171.43 160.80,166.16 160.92,160.42 161.04,154.31 161.16,147.96 161.20,145.83 161.28,141.63 161.40,135.73 161.52,130.75 161.64,127.20 161.76,125.50 161.80,124.49" fill="none" stroke="#000" stroke-width="1.5" stroke-linejoin="round" stroke-linecap="round" />
<polyline points="161.80,124.49 161.88,125.91" fill="none" stroke="#000" stroke-width="1.75" stroke-linejoin="round" stroke-linecap="round" />
<polyline points="161.88,125.91 162.00,128.38 162.12,132.61 162.24,138.10 162.36,144.36 162.40,146.55 162.48,150.94 162.60,157.44 162.72,163.64 162.84,169.40 162.96,174.67 163.00,176.31 163.08,179.41 163.20,183.67 163.32,187.50 163.44,190.95 163.56,194.05 163.60,195.02 163.68,196.87 163.80,199.42 163.92,201.76 164.04,203.90 164.16,205.88 164.20,206.50 164.28,207.71 164.40,209.41 164.52,211.03 164.64,212.55 164.76,213.98 164.80,214.44 164.88,215.34 165.00,216.62 165.12,217.84 165.24,218.99 165.36,220.08 165.40,220.43 165.48,221.12 165.60,222.12 165.72,223.09 165.84,224.04 165.96,225.00 166.00,225.31 166.08,225.93 166.20,226.83 166.32,227.70 166.44,228.55 166.56,229.33 166.60,229.56 166.68,230.03 166.80,230.70 166.92,231.36 167.04,231.99 167.16,232.61 167.20,232.81 167.28,233.27 167.40,233.95 167.52,234.61 167.64,235.25 167.76,235.88 167.80,236.08 167.88,236.49 168.00,237.03 168.12,237.54 168.24,238.04 168.36,238.52 168.40,238.68 168.48,238.99 168.60,239.45 168.72,239.90 168.84,240.35 168.96,240.78 169.00,240.92 169.08,241.20 169.20,241.61 169.32,242.02 169.44,242.45 169.56,242.86 169.60,243.00 169.68,243.27 169.80,243.67 169.92,244.09 170.04,244.49 170.16,244.79 170.20,244.87 170.28,245.04 170.40,245.25 170.52,245.42 170.64,245.56 170.76,245.77 170.80,245.87 170.88,246.07 171.00,246.37 171.12,246.67 171.24,246.97 171.36,247.26 171.40,247.36 171.48,247.66 171.60,248.12 171.72,248.59 171.84,249.07 171.96,249.56 172.00,249.73 172.08,250.07 172.20,250.22 172.32,250.29" fill="none" stroke="#000" stroke-width="1.5" stroke-linejoin="round" stroke-linecap="round" />
<polyline points="172.32,250.29 172.44,250.35 172.56,250.39 172.60,250.40 172.68,250.41 172.80,250.42 172.92,250.76 173.04,251.10 173.16,251.44 173.20,251.55 173.28,251.78 173.40,252.13 173.52,252.50 173.64,253.03 173.76,253.56 173.80,253.74 173.88,254.11 174.00,254.66 174.12,255.22 174.24,255.54 174.36,255.37 174.40,255.31 174.48,255.18 174.60,254.98 174.72,254.76 174.84,254.53 174.96,254.41 175.00,254.40 175.08,254.39 175.20,254.36 175.32,254.33 175.44,254.28 175.56,254.24 175.60,254.22 175.68,254.32 175.80,254.46 175.92,254.60 176.04,254.74 176.16,254.88 176.20,254.93 176.28,255.02 176.40,254.94 176.52,254.81 176.64,254.68 176.76,254.54 176.80,254.49 176.88,254.39 177.00,254.24 177.12,254.85 177.24,255.47 177.36,256.09 177.40,256.30 177.48,256.72 177.60,257.35 177.72,257.94 177.84,258.26 177.96,258.59 178.00,258.69 178.08,258.91 178.20,259.24 178.32,259.58 178.44,259.83 178.56,259.92 178.60,259.95 178.68,260.01 178.80,260.09 178.92,260.17 179.04,260.25 179.16,260.14 179.20,260.04 179.28,259.83 179.40,259.51 179.52,259.18 179.64,258.84 179.76,258.50 179.80,258.38 179.88,258.74 180.00,259.27 180.12,259.81 180.24,260.35 180.36,260.89 180.40,261.07 180.48,261.44 180.60,261.82 180.72,262.17 180.84,262.51 180.96,262.86 181.00,262.98 181.08,263.21 181.20,263.57 181.32,263.11 181.44,262.65 181.56,262.18 181.60,262.02 181.68,261.71 181.80,261.23 181.92,260.91 182.04,261.45 182.16,261.98 182.20,262.16 182.28,262.52 182.40,263.06 182.52,263.60 182.64,263.89 182.76,263.67 182.80,263.59 182.88,263.44 183.00,263.21 183.12,262.99 183.24,262.76 183.36,262.87 183.40,263.02 183.48,263.31 183.60,263.76 183.72,264.22 183.84,264.67 183.96,265.12 184.00,265.28 184.08,264.71 184.20,263.87 184.32,263.02 184.44,262.17 184.56,261.31 184.60,261.02 184.68,260.45 184.80,260.65 184.92,261.07 185.04,261.49 185.16,261.91 185.20,262.05 185.28,262.33 185.40,262.75 185.52,263.12 185.64,263.48 185.76,263.84 185.80,263.96 185.88,264.21 186.00,264.57 186.12,264.90 186.24,265.06 186.36,265.21 186.40,265.27 186.48,265.37 186.60,265.53 186.72,265.68 187.00,265.42 187.60,265.35 188.20,270.61 188.80,267.52 189.40,268.93 190.00,269.93 190.60,269.70 191.20,269.49 191.80,270.73 192.40,273.08 193.00,269.90 193.60,269.93 194.20,271.48 194.80,273.59 195.40,274.56 196.00,273.46 196.60,274.78 197.20,275.22 197.80,274.59 198.40,275.89 198.50,276.98 198.80,269.98 199.00,276.98 199.10,276.98 199.60,277.49 200.20,278.81 200.70,277.47" fill="none" stroke="#000" stroke-width="1.75" stroke-linejoin="round" stroke-linecap="round" />
<polyline points="146.20,211.21 146.80,212.17 147.40,212.02 148.00,213.00 148.60,213.15 149.20,212.91 149.80,212.54 150.40,213.36 151.00,214.70 151.60,214.63 152.00,214.66 152.12,214.67 152.20,214.68 152.24,214.84 152.36,215.32 152.48,215.80 152.60,216.29 152.72,216.77 152.80,217.10 152.84,217.26 152.96,217.47 153.08,217.39 153.20,217.31 153.32,217.23 153.40,217.18 153.44,217.15 153.56,217.07 153.68,216.96 153.80,216.82 153.92,216.68 154.00,216.59 154.04,216.54 154.16,216.40 154.28,216.26 154.40,216.31 154.52,216.39 154.60,216.45 154.64,216.48 154.76,216.57 154.88,216.65 155.00,216.74 155.12,216.48 155.20,216.31 155.24,216.23 155.36,215.98 155.48,215.73 155.60,215.48 155.72,215.38 155.80,215.75 155.84,215.93 155.96,216.49 156.08,217.03 156.20,217.58 156.32,218.13 156.40,218.49 156.44,218.51 156.56,218.57 156.68,218.63 156.80,218.69 156.92,218.75 157.00,218.79 157.04,218.81 157.16,218.87 157.28,218.93 157.40,218.99 157.52,219.05 157.60,219.09 157.64,219.11 157.76,219.16 157.88,219.25 158.00,219.36 158.12,219.46 158.20,219.53 158.24,219.56 158.36,219.66 158.48,219.76 158.60,219.80 158.72,219.83 158.80,219.84 158.84,219.85 158.96,219.86 159.08,219.87 159.20,219.88 159.32,220.04 159.40,220.14 159.44,220.19 159.56,220.33 159.68,220.48 159.80,220.61 159.92,220.73 160.00,220.79 160.04,220.81 160.16,220.89 160.28,220.97 160.40,221.04 160.52,221.12 160.60,221.17 160.64,221.08 160.76,220.83 160.88,220.57 161.00,220.30 161.12,220.04 161.20,219.86 161.24,219.77 161.36,219.78 161.48,220.06 161.60,220.35 161.72,220.63 161.80,220.82 161.84,220.91 161.96,221.19 162.08,221.22 162.20,221.13 162.32,221.03 162.40,220.97 162.44,220.93 162.56,220.83 162.68,220.72 162.80,220.40 162.92,220.03 163.00,219.78 163.04,219.65 163.16,219.27 163.28,218.89 163.40,218.50 163.52,218.82 163.60,219.02 163.64,219.13 163.76,219.44 163.88,219.74 164.00,220.05 164.12,220.29 164.20,220.25 164.24,220.23 164.36,220.16 164.48,220.09 164.60,220.01 164.72,219.93 164.80,219.87 164.84,219.94 164.96,220.12 165.08,220.30 165.20,220.47 165.32,220.62 165.40,220.72 165.44,220.76 165.56,220.53 165.68,219.94 165.80,219.36 165.92,218.79 166.00,218.41 166.04,218.22 166.16,217.67 166.28,217.55 166.40,217.64 166.52,217.72 166.60,217.76 166.64,217.78 166.76,217.83 166.88,217.87 167.00,217.61 167.12,217.30 167.20,217.09 167.24,216.99 167.36,216.68 167.48,216.36 167.60,216.05 167.72,216.05 167.80,216.03 167.84,216.02 167.96,215.97 168.08,215.90 168.20,215.81 168.32,215.63" fill="none" stroke="#000" stroke-width="1.75" stroke-linejoin="round" stroke-linecap="round" />
<polyline points="168.32,215.63 168.40,215.34 168.44,215.20 168.56,214.78 168.68,214.36 168.80,213.95 168.92,213.54 169.00,213.28 169.04,213.12 169.16,212.68 169.28,212.26 169.40,211.87 169.52,211.50 169.60,211.26 169.64,211.15 169.76,210.88 169.88,210.54 170.00,210.19 170.12,209.83 170.20,209.58 170.24,209.45 170.36,209.06 170.48,208.65 170.60,208.21 170.72,207.77 170.80,207.46 170.84,207.31 170.96,206.83 171.08,206.34 171.20,205.80 171.32,205.23 171.40,204.85 171.44,204.65 171.56,204.05 171.68,203.43 171.80,202.78 171.92,202.15 172.00,201.71 172.04,201.49 172.16,200.80 172.28,200.09 172.40,199.36 172.52,198.59 172.60,198.05 172.64,197.77 172.76,196.92 172.88,196.04 173.00,195.12 173.12,194.16 173.20,193.50 173.24,193.15 173.36,192.06 173.48,190.92 173.60,189.73 173.72,188.47 173.80,187.60 173.84,187.15 173.96,185.79 174.08,184.40 174.20,182.90 174.32,181.31 174.40,180.18 174.44,179.59 174.56,177.74 174.68,175.74 174.80,173.56 174.92,171.19 175.00,169.48 175.04,168.58 175.16,165.72 175.28,162.56 175.40,159.04 175.52,155.14 175.60,152.32 175.64,150.83 175.76,146.08 175.88,140.88 176.00,135.22 176.12,129.14 176.20,124.92 176.24,122.78 176.36,116.30 176.48,110.00 176.60,104.25 176.72,99.47 176.80,97.07 176.84,96.14 176.96,94.58 177.08,94.96 177.20,97.25 177.32,101.21 177.40,104.58 177.44,106.43 177.56,112.45 177.68,118.89 177.80,125.40 177.92,131.73 178.00,135.77 178.04,137.72 178.16,143.30 178.28,148.44 178.40,153.12 178.52,157.38 178.60,159.99 178.64,161.23 178.76,164.73 178.88,167.91 179.00,170.80 179.12,173.46 179.20,175.10 179.24,175.89 179.36,178.13 179.48,180.20 179.60,182.14 179.72,183.95 179.80,185.10 179.84,185.65 179.96,187.25 180.08,188.76 180.20,190.19 180.32,191.50 180.40,192.34 180.44,192.74 180.56,193.93 180.68,195.07 180.80,196.15 180.92,197.19 181.00,197.86 181.04,198.19 181.16,199.15 181.28,200.08 181.40,200.97 181.52,201.83 181.60,202.39 181.64,202.67 181.76,203.51 181.88,204.33 182.00,205.12 182.12,205.88 182.20,206.38 182.24,206.63 182.36,207.34 182.48,208.03 182.60,208.70 182.72,209.35 182.80,209.78 182.84,209.99 182.96,210.60 183.08,211.20 183.20,211.77 183.32,212.32 183.40,212.68 183.44,212.86 183.56,213.39 183.68,213.90 183.80,214.40 183.92,214.88 184.00,215.19 184.04,215.35 184.16,215.80 184.28,216.25 184.40,216.68 184.52,217.13 184.60,217.43 184.64,217.57 184.76,218.00 184.88,218.42 185.00,218.83 185.12,219.22 185.20,219.45 185.24,219.56 185.36,219.90 185.48,220.21 185.60,220.49 185.72,220.75 185.80,220.91 185.84,221.01 185.96,221.30 186.08,221.59 186.20,221.87 186.32,222.15 186.40,222.33 186.44,222.42 186.56,222.71 186.68,223.03 186.80,223.36 186.92,223.68 187.00,223.90 187.04,224.01 187.16,224.34 187.28,224.56 187.40,224.72 187.52,224.88" fill="none" stroke="#000" stroke-width="1.5" stroke-linejoin="round" stroke-linecap="round" />
<polyline points="187.52,224.88 187.60,224.97 187.64,225.02 187.76,225.15 187.88,225.27 188.00,225.36 188.12,225.43 188.20,225.48 188.24,225.50 188.36,225.55 188.48,225.59 188.60,225.63 188.72,225.93 188.80,226.14 188.84,226.24 188.96,226.56 189.08,226.87 189.20,227.19 189.32,227.51 189.40,227.72 189.44,227.82 189.56,228.13 189.68,228.44 189.80,228.76 189.92,229.07 190.00,229.29 190.04,229.32 190.16,229.44 190.28,229.55 190.40,229.66 190.52,229.76 190.60,229.83 190.64,229.86 190.76,229.90 190.88,229.87 191.00,229.84 191.12,229.80 191.20,229.77 191.24,229.75 191.36,229.70 191.48,229.90 191.60,230.22 191.72,230.55 191.80,230.77 191.84,230.88 191.96,231.21 192.08,231.54 192.20,232.07 192.32,232.64 192.40,233.02 192.44,233.21 192.56,233.80 192.68,234.39 192.80,234.98 192.92,234.59 193.00,234.33 193.04,234.20 193.16,233.79 193.28,233.37 193.40,232.95 193.52,232.54 193.60,232.35 193.64,232.26 193.76,231.96 193.88,231.67 194.00,231.36 194.12,231.05 194.20,230.84 194.24,230.95 194.36,231.27 194.48,231.60 194.60,231.93 194.72,232.26 194.80,232.47 194.84,232.58 194.96,232.99 195.08,233.48 195.20,233.98 195.32,234.47 195.40,234.80 195.44,234.96 195.56,235.46 195.68,235.38 195.80,235.03 195.92,234.67 196.00,234.43 196.04,234.30 196.16,233.94 196.28,233.57 196.40,233.34 196.52,233.15 196.60,233.02 196.64,232.95 196.76,232.75 196.88,232.55 197.00,232.34 197.12,232.74 197.20,233.00 197.24,233.13 197.36,233.53 197.48,233.93 197.60,234.33 197.72,234.68 197.80,234.76 197.84,234.80 197.96,234.92 198.08,235.04 198.20,235.15 198.32,235.27 198.40,235.35 198.44,235.37 198.56,235.45 198.68,235.53 198.80,235.61 198.92,235.69 199.00,235.74 199.04,235.77 199.16,236.01 199.28,236.41 199.40,236.81 199.52,237.21 199.60,237.48 199.64,237.61 199.76,238.02 199.88,237.82 200.00,237.32 200.12,236.81 200.20,236.47 200.24,236.30 200.36,235.79 200.48,235.27 200.60,235.50 200.72,235.88 200.80,236.13 200.84,236.26 200.96,236.64 201.08,237.02 201.20,237.40 201.32,236.30 201.40,235.57 201.44,235.20 201.56,234.09 201.68,232.97 201.80,231.85 201.92,231.04 202.00,231.56 202.60,235.48 203.20,235.75 203.80,239.28 204.40,238.89 205.00,239.29 205.60,241.14 205.90,240.16 206.20,240.16 206.20,232.16 206.50,240.16 206.80,242.56 207.40,241.64 208.00,244.17 208.60,242.62 209.20,240.59 209.80,241.50 210.40,244.03 211.00,244.54 211.60,243.23 212.20,244.03 212.80,246.10 213.40,247.19 214.00,245.81 214.60,243.26 215.20,245.33 215.80,252.87 216.40,249.70 217.00,250.72 217.40,251.69" fill="none" stroke="#000" stroke-width="1.75" stroke-linejoin="round" stroke-linecap="round" />
<polyline points="159.30,203.37 159.90,204.68 160.50,205.50 161.10,204.27 161.70,206.23 162.30,205.43 162.90,205.21 163.50,206.16 164.10,207.45 164.70,208.04 165.30,207.65 165.90,207.45 166.50,208.07 167.10,208.27 167.60,208.58 167.70,208.76 167.72,208.80 167.84,209.01 167.96,209.23 168.08,209.44 168.20,209.33 168.30,209.18 168.32,209.15 168.44,208.96 168.56,208.78 168.68,208.59 168.80,208.40 168.90,208.53 168.92,208.56 169.04,208.72 169.16,208.88 169.28,209.04 169.40,209.19 169.50,209.33 169.52,209.32 169.64,209.32 169.76,209.31 169.88,209.30 170.00,209.30 170.10,209.29 170.12,209.29 170.24,209.34 170.36,209.54 170.48,209.73 170.60,209.92 170.70,210.08 170.72,210.11 170.84,210.30 170.96,210.45 171.08,210.57 171.20,210.68 171.30,210.78 171.32,210.80 171.44,210.91 171.56,211.02 171.68,210.72 171.80,210.22 171.90,209.79 171.92,209.71 172.04,209.20 172.16,208.68 172.28,208.16 172.40,208.30 172.50,208.54 172.52,208.58 172.64,208.86 172.76,209.14 172.88,209.42 173.00,209.69 173.10,209.96 173.12,210.01 173.24,210.32 173.36,210.63 173.48,210.95 173.60,211.26 173.70,211.51 173.72,211.45 173.84,211.10 173.96,210.75 174.08,210.39 174.20,210.02 174.30,209.72 174.32,209.66 174.44,209.48 174.56,209.69 174.68,209.90 174.80,210.10 174.90,210.27 174.92,210.31 175.04,210.51 175.16,210.53 175.28,210.37 175.40,210.20 175.50,210.07 175.52,210.04 175.64,209.87 175.76,209.70 175.88,209.43 176.00,209.11 176.10,208.84 176.12,208.79 176.24,208.46 176.36,208.14 176.48,207.81 176.60,207.97 176.70,208.19 176.72,208.24 176.84,208.50 176.96,208.77 177.08,209.03 177.20,209.30 177.30,209.37 177.32,209.38 177.44,209.46 177.56,209.55 177.68,209.63 177.80,209.71 177.90,209.77 177.92,209.78 178.04,209.80 178.16,209.82 178.28,209.84 178.40,209.86 178.50,209.87 178.52,209.88 178.64,209.85 178.76,209.73 178.88,209.61 179.00,209.48 179.10,209.38 179.12,209.36 179.24,209.22 179.36,209.08 179.48,208.94 179.60,208.80 179.70,208.68 179.72,208.66 179.84,208.51 179.96,208.36 180.08,208.22 180.20,208.08 180.30,207.97 180.32,207.94 180.44,207.80 180.56,207.65 180.68,207.50 180.80,207.17 180.90,206.87 180.92,206.81 181.04,206.44 181.16,206.08 181.28,205.73 181.40,205.38 181.50,205.23 181.52,205.20 181.64,205.03 181.76,204.85 181.88,204.66 182.00,204.48 182.10,204.32 182.12,204.29 182.24,204.16 182.36,204.02 182.48,203.87 182.60,203.72 182.70,203.58 182.72,203.55 182.84,203.33 182.96,203.02" fill="none" stroke="#000" stroke-width="1.75" stroke-linejoin="round" stroke-linecap="round" />
<polyline points="182.96,203.02 183.08,202.71 183.20,202.40 183.30,202.14 183.32,202.09 183.44,201.79 183.56,201.56 183.68,201.41 183.80,201.23 183.90,201.07 183.92,201.04 184.04,200.82 184.16,200.58 184.28,200.23 184.40,199.84 184.50,199.53 184.52,199.47 184.64,199.11 184.76,198.75 184.88,198.34 185.00,197.98 185.10,197.68 185.12,197.62 185.24,197.25 185.36,196.87 185.48,196.47 185.60,196.07 185.70,195.67 185.72,195.59 185.84,195.10 185.96,194.60 186.08,194.08 186.20,193.55 186.30,193.10 186.32,193.01 186.44,192.49 186.56,191.96 186.68,191.41 186.80,190.84 186.90,190.35 186.92,190.25 187.04,189.63 187.16,188.99 187.28,188.33 187.40,187.65 187.50,187.06 187.52,186.94 187.64,186.21 187.76,185.45 187.88,184.65 188.00,183.82 188.10,183.11 188.12,182.97 188.24,182.08 188.36,181.15 188.48,180.19 188.60,179.19 188.70,178.32 188.72,178.14 188.84,177.04 188.96,175.90 189.08,174.70 189.20,173.42 189.30,172.30 189.32,172.07 189.44,170.65 189.56,169.14 189.68,167.54 189.80,165.83 189.90,164.38 189.92,164.07 190.04,162.18 190.16,160.14 190.28,157.93 190.40,155.53 190.50,153.37 190.52,152.91 190.64,149.97 190.76,146.76 190.88,143.25 191.00,139.40 191.10,135.91 191.12,135.18 191.24,130.57 191.36,125.56 191.48,120.15 191.60,114.36 191.70,109.30 191.72,108.27 191.84,101.99 191.96,95.77 192.08,89.87 192.20,84.58 192.30,80.90 192.32,80.27 192.44,77.29 192.56,75.92 192.68,76.28 192.80,78.34 192.90,81.24 192.92,81.93 193.04,86.74 193.16,92.41 193.28,98.57 193.40,104.86 193.50,110.06 193.52,111.09 193.64,117.08 193.76,122.74 193.88,128.02 194.00,132.88 194.10,136.65 194.12,137.37 194.24,141.47 194.36,145.22 194.48,148.64 194.60,151.76 194.70,154.16 194.72,154.62 194.84,157.19 194.96,159.56 195.08,161.75 195.20,163.77 195.30,165.35 195.32,165.65 195.44,167.46 195.56,169.26 195.68,170.95 195.80,172.56 195.90,173.84 195.92,174.09 196.04,175.54 196.16,176.88 196.28,178.12 196.40,179.29 196.50,180.24 196.52,180.42 196.64,181.50 196.76,182.54 196.88,183.53 197.00,184.46 197.10,185.22 197.12,185.37 197.24,186.24 197.36,187.08 197.48,187.89 197.60,188.70 197.70,189.37 197.72,189.50 197.84,190.26 197.96,191.01 198.08,191.73 198.20,192.44 198.30,193.03 198.32,193.15 198.44,193.84 198.56,194.51 198.68,195.16 198.80,195.80 198.90,196.32 198.92,196.42 199.04,197.00 199.16,197.56 199.28,198.11 199.40,198.64 199.50,199.08 199.52,199.16 199.64,199.68 199.76,200.22 199.88,200.74 200.00,201.25 200.10,201.67 200.12,201.75 200.24,202.23 200.36,202.67 200.48,203.07 200.60,203.45 200.70,203.76 200.72,203.82 200.84,204.19 200.96,204.54 201.08,204.91 201.20,205.29 201.30,205.60 201.32,205.66 201.44,206.02 201.56,206.38 201.68,206.74 201.80,207.05 201.90,207.29 201.92,207.34 202.04,207.62 202.16,207.88 202.28,208.13 202.40,208.36 202.50,208.56 202.52,208.59 202.64,208.81 202.76,209.02 202.88,209.22 203.00,209.41 203.10,209.56 203.12,209.63 203.24,210.09 203.36,210.55 203.48,211.03" fill="none" stroke="#000" stroke-width="1.5" stroke-linejoin="round" stroke-linecap="round" />
<polyline points="203.48,211.03 203.60,211.52 203.70,211.94 203.72,212.02 203.84,212.36 203.96,212.37 204.08,212.35 204.20,212.32 204.30,212.27 204.32,212.26 204.44,212.20 204.56,212.08 204.68,211.92 204.80,211.74 204.90,211.58 204.92,211.55 205.04,211.34 205.16,211.11 205.28,211.37 205.40,211.88 205.50,212.33 205.52,212.41 205.64,212.96 205.76,213.51 205.88,214.07 206.00,213.77 206.10,213.37 206.12,213.28 206.24,212.77 206.36,212.25 206.48,211.70 206.60,211.13 206.70,211.95 206.72,212.12 206.84,213.12 206.96,214.15 207.08,215.19 207.20,216.25 207.30,217.15 207.32,217.22 207.44,217.61 207.56,218.01 207.68,218.42 207.80,218.82 207.90,219.16 207.92,219.23 208.04,219.37 208.16,218.98 208.28,218.57 208.40,218.15 208.50,217.79 208.52,217.72 208.64,217.28 208.76,217.19 208.88,217.46 209.00,217.73 209.10,217.96 209.12,218.01 209.24,218.28 209.36,218.55 209.48,218.14 209.60,217.37 209.70,216.74 209.72,216.61 209.84,215.83 209.96,215.06 210.08,214.27 210.20,214.90 210.30,215.67 210.32,215.82 210.44,216.74 210.56,217.66 210.68,218.58 210.80,219.50 210.90,219.52 210.92,219.52 211.04,219.53 211.16,219.55 211.28,219.56 211.40,219.57 211.50,219.58 211.52,219.52 211.64,219.18 211.76,218.84 211.88,218.50 212.00,218.15 212.10,217.86 212.12,217.80 212.24,217.67 212.36,217.98 212.48,218.29 212.60,218.60 212.70,218.86 212.72,218.91 212.84,219.22 212.96,219.07 213.08,218.45 213.20,217.83 213.30,217.31 213.32,217.21 213.44,216.58 213.56,215.95 213.68,216.66 213.80,218.05 213.90,219.21 213.92,219.45 214.04,220.84 214.16,222.25 214.28,223.65 214.40,223.58 214.50,223.27 214.52,223.21 214.64,222.84 214.76,222.47 214.88,222.09 215.00,221.71 215.10,221.45 215.12,221.40 215.24,221.08 215.36,220.76 215.48,220.44 215.60,220.11 215.70,219.84 215.72,219.97 215.84,220.78 215.96,221.59 216.08,222.41 216.20,223.24 216.30,223.93 216.32,224.07 216.44,224.12 216.56,222.58 216.68,221.03 216.80,219.46 216.90,218.15 216.92,217.89 217.04,216.30 217.16,216.00 217.28,217.01 217.40,218.03 217.50,218.88 217.52,219.05 218.10,219.03 218.70,217.26 219.30,221.73 219.90,224.48 220.50,219.14 221.10,219.77 221.70,219.39 221.70,219.39 222.00,197.39 222.30,219.56 222.30,219.39 222.90,222.80 223.50,226.91 224.10,221.31 224.70,218.44 225.30,222.72 225.90,222.02 226.50,222.03 227.10,224.77 227.70,225.08 228.30,226.89 228.90,227.66 229.50,229.08 230.10,223.67 230.70,221.03 231.30,226.11 231.90,231.44 232.50,224.80 233.10,231.45 233.40,231.07" fill="none" stroke="#000" stroke-width="1.75" stroke-linejoin="round" stroke-linecap="round" />
<polyline points="315.40,10.60 315.90,79.80 317.00,147.00 318.00,213.70 319.00,278.80 319.20,295.50 342.50,396.50" fill="none" stroke="#000" stroke-width="1.6" stroke-linejoin="round" stroke-linecap="round" />
<line x1="315.50" y1="11.50" x2="319.10" y2="11.50" stroke="#000" stroke-width="2.0" stroke-linecap="butt"/>
<line x1="315.90" y1="79.80" x2="319.50" y2="79.80" stroke="#000" stroke-width="2.0" stroke-linecap="butt"/>
<line x1="317.00" y1="147.00" x2="320.60" y2="147.00" stroke="#000" stroke-width="2.0" stroke-linecap="butt"/>
<line x1="318.00" y1="213.70" x2="321.60" y2="213.70" stroke="#000" stroke-width="2.0" stroke-linecap="butt"/>
<line x1="319.00" y1="278.80" x2="322.60" y2="278.80" stroke="#000" stroke-width="2.0" stroke-linecap="butt"/>
<line x1="323.20" y1="311.00" x2="326.60" y2="311.00" stroke="#000" stroke-width="2.0" stroke-linecap="butt"/>
<line x1="328.30" y1="333.30" x2="331.70" y2="333.30" stroke="#000" stroke-width="2.0" stroke-linecap="butt"/>
<line x1="333.90" y1="357.50" x2="337.30" y2="357.50" stroke="#000" stroke-width="2.0" stroke-linecap="butt"/>
<line x1="339.70" y1="382.50" x2="343.10" y2="382.50" stroke="#000" stroke-width="2.0" stroke-linecap="butt"/>
<line x1="342.50" y1="396.50" x2="515.00" y2="368.50" stroke="#000" stroke-width="1.8" stroke-linecap="butt"/>
<line x1="357.00" y1="394.15" x2="357.00" y2="391.15" stroke="#000" stroke-width="1.3" stroke-linecap="butt"/>
<line x1="393.75" y1="388.18" x2="393.75" y2="385.18" stroke="#000" stroke-width="1.3" stroke-linecap="butt"/>
<line x1="430.00" y1="382.30" x2="430.00" y2="379.30" stroke="#000" stroke-width="1.3" stroke-linecap="butt"/>
<line x1="466.00" y1="376.45" x2="466.00" y2="373.45" stroke="#000" stroke-width="1.3" stroke-linecap="butt"/>
<line x1="501.00" y1="370.77" x2="501.00" y2="367.77" stroke="#000" stroke-width="1.3" stroke-linecap="butt"/>
<text x="279.30" y="11.00" font-family="'Liberation Serif', serif" font-size="15.50" fill="#333" textLength="23.60" lengthAdjust="spacingAndGlyphs">8000</text>
<text x="280.30" y="79.20" font-family="'Liberation Serif', serif" font-size="17.05" fill="#333" textLength="24.00" lengthAdjust="spacingAndGlyphs">6000</text>
<text x="281.50" y="148.80" font-family="'Liberation Serif', serif" font-size="17.05" fill="#333" textLength="24.50" lengthAdjust="spacingAndGlyphs">4000</text>
<text x="284.00" y="216.30" font-family="'Liberation Serif', serif" font-size="17.05" fill="#333" textLength="23.50" lengthAdjust="spacingAndGlyphs">2000</text>
<text x="305.90" y="278.20" font-family="'Liberation Serif', serif" font-size="15.81" fill="#333" textLength="5.80" lengthAdjust="spacingAndGlyphs">0</text>
<text x="294.00" y="309.80" font-family="'Liberation Serif', serif" font-size="15.97" fill="#333" textLength="18.20" lengthAdjust="spacingAndGlyphs">250</text>
<text x="299.50" y="333.70" font-family="'Liberation Serif', serif" font-size="16.12" fill="#333" textLength="18.50" lengthAdjust="spacingAndGlyphs">500</text>
<text x="305.00" y="357.50" font-family="'Liberation Serif', serif" font-size="15.50" fill="#333" textLength="17.50" lengthAdjust="spacingAndGlyphs">750</text>
<text x="306.00" y="383.60" font-family="'Liberation Serif', serif" font-size="16.74" fill="#333" textLength="23.00" lengthAdjust="spacingAndGlyphs">1000</text>
<text x="355.60" y="411.50" font-family="'Liberation Serif', serif" font-size="15.97" fill="#333" textLength="17.40" lengthAdjust="spacingAndGlyphs">550</text>
<text x="391.20" y="405.40" font-family="'Liberation Serif', serif" font-size="16.74" fill="#333" textLength="18.60" lengthAdjust="spacingAndGlyphs">600</text>
<text x="431.00" y="398.50" font-family="'Liberation Serif', serif" font-size="15.50" fill="#333" textLength="18.00" lengthAdjust="spacingAndGlyphs">650</text>
<text x="466.00" y="393.50" font-family="'Liberation Serif', serif" font-size="15.97" fill="#333" textLength="18.00" lengthAdjust="spacingAndGlyphs">700</text>
<text x="501.00" y="387.00" font-family="'Liberation Serif', serif" font-size="16.28" fill="#333" textLength="18.00" lengthAdjust="spacingAndGlyphs">750</text>
<text x="271.40" y="199.20" font-family="'Liberation Sans', sans-serif" font-weight="bold" font-size="13.70" textLength="121.50" lengthAdjust="spacingAndGlyphs" transform="rotate(-91 271.40 199.20)">Intensity (a.u.)</text>
<text x="272.50" y="293.50" font-family="'Liberation Sans', sans-serif" font-weight="bold" font-size="13.70" textLength="123.00" lengthAdjust="spacingAndGlyphs" transform="rotate(76.5 272.50 293.50)">Gate Delay (ns)</text>
<text x="390.50" y="433.00" font-family="'Liberation Sans', sans-serif" font-weight="bold" font-size="17.00" textLength="110.00" lengthAdjust="spacingAndGlyphs" transform="rotate(-6 390.50 433.00)">Wavelength (nm)</text>
<polyline points="332.40,207.76 333.00,211.46 333.60,210.57 334.20,207.32 334.80,211.96 335.40,212.14 336.00,211.98 336.00,211.98 336.30,203.98 336.60,212.13 336.60,211.98 337.20,212.56 337.80,213.76 338.40,216.40 339.00,210.11 339.20,210.34 339.50,205.34 339.60,210.34 339.80,210.34 340.20,213.43 340.80,211.95 341.40,208.66 342.00,211.46 342.40,209.31 342.60,209.31 342.70,200.31 343.00,209.31 343.20,210.95 343.80,212.30 344.40,209.33 345.00,205.96 345.60,206.10 346.20,209.84 346.80,212.94 347.40,212.63 348.00,216.80 348.60,216.09 349.20,215.85 349.80,217.45 350.30,216.46 350.40,216.46 350.60,201.46 350.90,216.46 351.00,218.45 351.60,218.42 352.20,218.67 352.80,217.31 353.40,217.98 354.00,219.05 354.60,216.49 355.20,220.67 355.80,221.74 356.40,219.40 357.00,219.29 357.60,219.63 358.20,218.47 358.80,217.46 359.40,222.23 360.00,220.15 360.60,220.98 361.20,225.02 361.80,225.54 362.40,222.64 363.00,223.01 363.60,225.43 364.20,226.11 364.80,224.06 365.40,222.71 366.00,222.76 366.60,221.92 367.20,218.93 367.80,221.68 368.40,222.41 369.00,226.45 369.60,227.57 370.20,227.82 370.80,226.94 371.40,222.97 372.00,224.08 372.60,221.89 373.20,219.74 373.80,221.66 374.40,225.17 375.00,226.69 375.60,224.56 375.75,223.41 375.87,222.49 375.99,221.57 376.11,220.67 376.20,219.99 376.23,220.17 376.35,220.88 376.47,221.58 376.59,222.26 376.71,222.94 376.80,223.44 376.83,223.60 376.95,223.63 377.07,222.79 377.19,221.95 377.31,221.12 377.40,220.51 377.43,220.30 377.55,219.49 377.67,219.28 377.79,219.50 377.91,219.71 378.00,219.87 378.03,219.92 378.15,220.12 378.27,220.31 378.39,220.39 378.51,220.43 378.60,220.45 378.63,220.46 378.75,220.49 378.87,220.51 378.99,220.53 379.11,219.97 379.20,219.52 379.23,219.37 379.35,218.77 379.47,218.18 379.59,217.59 379.71,217.03 379.80,216.79 379.83,216.71 379.95,216.39 380.07,216.07 380.19,215.75 380.31,215.44 380.40,215.20 380.43,215.28 380.55,215.60 380.67,215.90 380.79,216.19 380.91,216.47 381.00,216.66 381.03,216.72 381.15,216.42 381.27,215.36 381.39,214.32 381.51,213.30 381.60,212.55 381.63,212.30 381.75,211.33 381.87,211.12 381.99,211.42 382.11,211.69 382.20,211.89 382.23,211.95 382.35,212.19 382.47,212.42 382.59,212.52 382.71,212.57 382.80,212.60" fill="none" stroke="#000" stroke-width="2.0" stroke-linejoin="round" stroke-linecap="round" />
<polyline points="382.80,212.60 382.83,212.61 382.95,212.63 383.07,212.63 383.19,212.62 383.31,212.21 383.40,211.87 383.43,211.76 383.55,211.32 383.67,210.89 383.79,210.46 383.91,210.06 384.00,209.93 384.03,209.89 384.15,209.71 384.27,209.51 384.39,209.31 384.51,209.09 384.60,208.92 384.63,208.79 384.75,208.30 384.87,207.82 384.99,207.35 385.11,206.90 385.20,206.57 385.23,206.46 385.35,206.16 385.47,206.01 385.59,205.83 385.71,205.61 385.80,205.43 385.83,205.36 385.95,205.08 386.07,204.67 386.19,204.23 386.31,203.78 386.40,203.44 386.43,203.32 386.55,202.86 386.67,202.39 386.79,201.99 386.91,201.60 387.00,201.31 387.03,201.21 387.15,200.82 387.27,200.41 387.39,200.00 387.51,199.50 387.60,199.11 387.63,198.98 387.75,198.45 387.87,197.92 387.99,197.38 388.11,196.84 388.20,196.57 388.23,196.48 388.35,196.12 388.47,195.74 388.59,195.36 388.71,194.96 388.80,194.66 388.83,194.51 388.95,193.92 389.07,193.31 389.19,192.69 389.31,192.07 389.40,191.59 389.43,191.43 389.55,190.81 389.67,190.21 389.79,189.60 389.91,188.98 390.00,188.51 390.03,188.35 390.15,187.71 390.27,186.99 390.39,186.21 390.51,185.41 390.60,184.81 390.63,184.60 390.75,183.78 390.87,182.95 390.99,182.23 391.11,181.54 391.20,181.02 391.23,180.84 391.35,180.13 391.47,179.40 391.59,178.65 391.71,177.79 391.80,177.12 391.83,176.90 391.95,175.99 392.07,175.07 392.19,174.13 392.31,173.18 392.40,172.52 392.43,172.29 392.55,171.39 392.67,170.47 392.79,169.53 392.91,168.56 393.00,167.83 393.03,167.53 393.15,166.33 393.27,165.11 393.39,163.87 393.51,162.61 393.60,161.65 393.63,161.32 393.75,160.10 393.87,158.97 393.99,157.82 394.11,156.64 394.20,155.74 394.23,155.44 394.35,154.21 394.47,152.89 394.59,151.49 394.71,150.06 394.80,148.98 394.83,148.61 394.95,147.13 395.07,145.63 395.19,144.09 395.31,142.52 395.40,141.32 395.43,140.92 395.55,139.30 395.67,137.64 395.79,135.95 395.91,134.32 396.00,133.09 396.03,132.67 396.15,130.99 396.27,129.27 396.39,127.53 396.51,125.75 396.60,124.33 396.63,123.85 396.75,121.92 396.87,119.96 396.99,117.97 397.11,115.96 397.20,114.43 397.23,113.95 397.35,111.98 397.47,110.00 397.59,107.99 397.71,105.97 397.80,104.44 397.83,103.93 397.95,101.86 398.07,99.76 398.19,97.66 398.31,95.54 398.40,93.96 398.43,93.43 398.55,91.32 398.67,89.23 398.79,87.17 398.91,85.12 399.00,83.60 399.03,83.10 399.15,81.11 399.27,79.15 399.39,77.12 399.51,75.11 399.60,73.65 399.63,73.17 399.75,71.30 399.87,69.51 399.99,67.83 400.11,66.39 400.20,65.41 400.23,65.10 400.35,63.97 400.47,63.02 400.59,62.30 400.71,60.62" fill="none" stroke="#000" stroke-width="1.45" stroke-linejoin="round" stroke-linecap="round" />
<polyline points="400.71,60.62 400.80,62.01" fill="none" stroke="#000" stroke-width="2.0" stroke-linejoin="round" stroke-linecap="round" />
<polyline points="400.80,62.01 400.83,62.15 400.95,62.93 401.07,63.98 401.19,65.24 401.31,66.67 401.40,67.84 401.43,68.23 401.55,69.86 401.67,71.61 401.79,73.45 401.91,75.37 402.00,76.85 402.03,77.36 402.15,79.44 402.27,81.61 402.39,83.82 402.51,86.06 402.60,87.77 402.63,88.34 402.75,90.63 402.87,92.88 402.99,95.10 403.11,97.32 403.20,98.98 403.23,99.54 403.35,101.76 403.47,103.97 403.59,106.28 403.71,108.61 403.80,110.35 403.83,110.93 403.95,113.23 404.07,115.51 404.19,117.77 404.31,119.89 404.40,121.46 404.43,121.98 404.55,124.05 404.67,126.10 404.79,128.11 404.91,130.10 405.00,131.61 405.03,132.11 405.15,134.09 405.27,136.04 405.39,137.96 405.51,139.85 405.60,141.25 405.63,141.72 405.75,143.57 405.87,145.40 405.99,147.20 406.11,148.97 406.20,150.27 406.23,150.70 406.35,152.35 406.47,153.87 406.59,155.36 406.71,156.82 406.80,157.90 406.83,158.26 406.95,159.67 407.07,161.17 407.19,162.74 407.31,164.28 407.40,165.41 407.43,165.79 407.55,167.28 407.67,168.74 407.79,170.15 407.91,171.52 408.00,172.53 408.03,172.87 408.15,174.20 408.27,175.50 408.39,176.78 408.51,177.99 408.60,178.88 408.63,179.17 408.75,180.33 408.87,181.47 408.99,182.59 409.11,183.69 409.20,184.53 409.23,184.80 409.35,185.89 409.47,186.96 409.59,188.01 409.71,189.04 409.80,189.81 409.83,190.05 409.95,191.03 410.07,191.99 410.19,192.94 410.31,193.87 410.40,194.56 410.43,194.78 410.55,195.67 410.67,196.53 410.79,197.37 410.91,198.20 411.00,198.81 411.03,199.02 411.15,199.82 411.27,200.68 411.39,201.59 411.51,202.49 411.60,203.15 411.63,203.37 411.75,204.24 411.87,205.10 411.99,205.91 412.11,206.69 412.20,207.27 412.23,207.47 412.35,208.23 412.47,208.98 412.59,209.73 412.71,210.31 412.80,210.74 412.83,210.88 412.95,211.43 413.07,211.97 413.19,212.51 413.31,213.05 413.40,213.61 413.43,213.79 413.55,214.52 413.67,215.25 413.79,215.96 413.91,216.67 414.00,217.19 414.03,217.33 414.15,217.89 414.27,218.44 414.39,218.98 414.51,219.52 414.60,219.92 414.63,220.05 414.75,220.59 414.87,221.15 414.99,221.70 415.11,222.24 415.20,222.65 415.23,222.78 415.35,223.31 415.47,223.81 415.59,224.27 415.71,224.73 415.80,225.07 415.83,225.18 415.95,225.63 416.07,226.07 416.19,226.51 416.31,226.95 416.40,227.27 416.43,227.37 416.55,227.80 416.67,228.22 416.79,228.63 416.91,229.08 417.00,229.42 417.03,229.54 417.15,229.99 417.27,230.43 417.39,230.87 417.51,231.30 417.60,231.59 417.63,231.69 417.75,232.07 417.87,232.45 417.99,232.82 418.11,233.19 418.20,233.46 418.23,233.55 418.35,233.91 418.47,234.26 418.59,234.61 418.71,234.96 418.80,235.22 418.83,235.30 418.95,235.65 419.07,236.04 419.19,236.44 419.31,236.85 419.40,237.17 419.43,237.27 419.55,237.70 419.67,238.10 419.79,238.46 419.91,238.82 420.00,239.09 420.03,239.18 420.15,239.54 420.27,239.90 420.39,240.07 420.51,240.16 420.60,240.21 420.63,240.23 420.75,240.27 420.87,240.30 420.99,240.30 421.11,240.78 421.20,241.19 421.23,241.32 421.35,241.87 421.47,242.42 421.59,243.00 421.71,243.58 421.80,243.56 421.83,243.55 421.95,243.47 422.07,243.33" fill="none" stroke="#000" stroke-width="1.45" stroke-linejoin="round" stroke-linecap="round" />
<polyline points="422.07,243.33 422.19,243.14 422.31,242.89 422.40,242.67 422.43,242.85 422.55,243.58 422.67,244.38 422.79,245.22 422.91,246.11 423.00,246.81 423.03,247.05 423.15,247.55 423.27,247.37 423.39,247.15 423.51,246.90 423.60,246.70 423.63,246.62 423.75,246.31 423.87,246.27 423.99,246.43 424.11,246.59 424.20,246.70 424.23,246.74 424.35,246.88 424.47,247.02 424.59,247.28 424.71,247.58 424.80,247.80 424.83,247.87 424.95,248.15 425.07,248.43 425.19,248.71 425.31,248.34 425.40,248.01 425.43,247.90 425.55,247.46 425.67,247.01 426.00,247.10 426.60,252.77 427.20,250.29 427.80,249.77 428.40,248.39 429.00,246.59 429.60,246.30 430.20,247.85 430.80,245.81 431.40,247.68 432.00,245.73 432.60,247.96 433.20,249.64 433.80,248.57 434.40,248.56 435.00,250.84 435.60,248.19 436.20,247.18 436.80,247.03 437.40,248.90 438.00,250.51 438.60,248.32 439.20,247.39 439.20,247.39 439.50,240.39 439.80,245.08 439.80,247.39 440.40,246.26 441.00,248.69 441.60,250.43 442.20,251.69 442.80,252.90 443.40,248.96 444.00,251.42 444.60,253.28 445.20,249.76 445.80,250.96 446.40,254.68 447.00,249.76 447.60,249.98 448.20,253.90 448.80,253.92 449.40,254.74 450.00,255.10 450.60,254.36 451.20,253.84 451.80,253.18 452.40,252.12 453.00,254.07 453.60,251.95 454.20,251.33 454.80,253.23 455.40,252.50 456.00,251.53 456.60,255.15 457.20,255.98" fill="none" stroke="#000" stroke-width="2.0" stroke-linejoin="round" stroke-linecap="round" />
<polyline points="334.20,227.29 334.80,232.42 335.40,232.90 336.00,231.48 336.60,233.22 336.70,235.96 337.00,231.96 337.20,235.96 337.30,235.96 337.80,236.34 338.40,235.69 339.00,234.28 339.60,231.60 340.20,232.37 340.80,235.96 341.40,232.56 342.00,232.73 342.60,234.04 343.20,233.30 343.80,232.00 344.40,235.30 344.70,238.86 345.00,238.86 345.00,230.86 345.30,238.86 345.60,236.56 346.20,234.49 346.80,235.00 347.40,237.27 348.00,238.82 348.60,237.84 349.20,237.73 349.80,235.70 350.40,237.46 351.00,239.47 351.60,240.21 352.20,241.81 352.80,242.29 353.40,237.52 354.00,236.11 354.60,236.24 355.20,236.94 355.80,238.42 356.40,240.45 357.00,238.59 357.60,242.72 358.20,241.88 358.80,241.54 359.40,242.19 360.00,242.59 360.60,241.59 361.20,238.50 361.80,246.01 362.40,242.56 363.00,243.57 363.60,243.70 364.20,240.34 364.80,238.87 365.40,239.62 366.00,240.54 366.60,243.75 367.20,245.00 367.80,245.53 368.40,245.93 369.00,244.72 369.60,241.68 370.20,243.12 370.80,240.23 371.40,240.26 372.00,240.32 372.60,240.03 373.20,242.27 373.80,241.57 374.40,239.85 375.00,238.61 375.60,239.55 376.00,240.73 376.12,240.97 376.20,241.13 376.24,241.20 376.36,241.44 376.48,241.67 376.60,241.90 376.72,240.55 376.80,239.66 376.84,239.21 376.96,237.86 377.08,236.51 377.20,235.16 377.32,234.16 377.40,234.68 377.44,234.94 377.56,235.72 377.68,236.50 377.80,237.27 377.92,238.02 378.00,238.53 378.04,238.20 378.16,237.23 378.28,236.27 378.40,235.31 378.52,234.36 378.60,233.72 378.64,233.41 378.76,233.22 378.88,233.78 379.00,234.34 379.12,234.89 379.20,235.25 379.24,235.43 379.36,235.96 379.48,236.05 379.60,235.91 379.72,235.77 379.80,235.67 379.84,235.63 379.96,235.48 380.08,235.34 380.20,235.23 380.32,235.11 380.40,235.04 380.44,235.00 380.56,234.89 380.68,234.77 380.80,234.65 380.92,233.92 381.00,233.44 381.04,233.19 381.16,232.48 381.28,231.76 381.40,231.06 381.52,230.59 381.60,231.04 381.64,231.26 381.76,231.93 381.88,232.57 382.00,233.21 382.12,233.83 382.20,234.24 382.24,234.27 382.36,234.38 382.48,234.49 382.60,234.58 382.72,234.67 382.80,234.73 382.84,234.75 382.96,234.37 383.08,233.55 383.20,232.73 383.32,231.93 383.40,231.39 383.44,231.13 383.56,230.35 383.68,230.40 383.80,230.86 383.92,231.29 384.00,231.57 384.04,231.71 384.16,232.11 384.28,232.48 384.40,231.98 384.52,231.31 384.60,230.88 384.64,230.66 384.76,230.01 384.88,229.38 385.00,228.76 385.12,228.56 385.20,228.43 385.24,228.36 385.36,228.15 385.48,227.95 385.60,227.73 385.72,227.46 385.80,227.07 385.84,226.88" fill="none" stroke="#000" stroke-width="2.0" stroke-linejoin="round" stroke-linecap="round" />
<polyline points="385.84,226.88 385.96,226.32 386.08,225.77 386.20,225.24 386.32,224.73 386.40,224.40 386.44,224.32 386.56,224.09 386.68,223.85 386.80,223.62 386.92,223.39 387.00,223.24 387.04,223.16 387.16,223.16 387.28,223.34 387.40,223.47 387.52,223.55 387.60,223.58 387.64,223.58 387.76,223.56 387.88,223.12 388.00,222.52 388.12,221.98 388.20,221.64 388.24,221.49 388.36,221.04 388.48,220.65 388.60,220.40 388.72,220.15 388.80,219.98 388.84,219.89 388.96,219.62 389.08,219.34 389.20,219.05 389.32,218.60 389.40,218.30 389.44,218.15 389.56,217.68 389.68,217.20 389.80,216.71 389.92,216.22 390.00,215.91 390.04,215.75 390.16,215.26 390.28,214.77 390.40,214.26 390.52,213.73 390.60,213.38 390.64,213.21 390.76,212.69 390.88,212.16 391.00,211.62 391.12,211.06 391.20,210.67 391.24,210.48 391.36,209.82 391.48,209.07 391.60,208.30 391.72,207.51 391.80,206.98 391.84,206.71 391.96,205.89 392.08,205.03 392.20,204.15 392.32,203.24 392.40,202.63 392.44,202.32 392.56,201.36 392.68,200.39 392.80,199.51 392.92,198.63 393.00,198.03 393.04,197.73 393.16,196.79 393.28,195.83 393.40,194.84 393.52,193.92 393.60,193.29 393.64,192.97 393.76,191.99 393.88,190.97 394.00,189.91 394.12,188.80 394.20,187.97 394.24,187.55 394.36,186.25 394.48,184.92 394.60,183.54 394.72,182.12 394.80,181.15 394.84,180.65 394.96,179.12 395.08,177.55 395.20,175.93 395.32,174.26 395.40,173.12 395.44,172.54 395.56,170.76 395.68,168.92 395.80,167.03 395.92,165.08 396.00,163.75 396.04,163.07 396.16,161.01 396.28,158.89 396.40,156.70 396.52,154.46 396.60,152.94 396.64,152.16 396.76,149.81 396.88,147.39 397.00,145.00 397.12,142.56 397.20,140.91 397.24,140.07 397.36,137.53 397.48,134.93 397.60,132.29 397.72,129.46 397.80,127.55 397.84,126.59 397.96,123.69 398.08,120.76 398.20,117.81 398.32,114.87 398.40,112.96 398.44,112.00 398.56,109.14 398.68,106.29 398.80,103.47 398.92,100.68 399.00,98.85 399.04,97.96 399.16,95.31 399.28,92.74 399.40,90.26 399.52,87.88 399.60,86.36 399.64,85.62 399.76,83.48 399.88,81.46 400.00,79.60 400.12,77.92 400.20,76.90 400.24,76.43 400.36,75.14 400.48,74.02 400.60,73.09 400.72,72.40 400.80,72.00 400.84,71.30 400.96,69.21" fill="none" stroke="#000" stroke-width="1.45" stroke-linejoin="round" stroke-linecap="round" />
<polyline points="400.96,69.21 401.08,69.85 401.20,72.09" fill="none" stroke="#000" stroke-width="2.0" stroke-linejoin="round" stroke-linecap="round" />
<polyline points="401.20,72.09 401.32,72.71 401.40,73.24 401.44,73.55 401.56,74.62 401.68,75.90 401.80,77.40 401.92,79.00 402.00,80.17 402.04,80.79 402.16,82.75 402.28,84.87 402.40,87.13 402.52,89.53 402.60,91.21 402.64,92.07 402.76,94.72 402.88,97.45 403.00,100.25 403.12,103.10 403.20,105.04 403.24,106.02 403.36,108.97 403.48,111.95 403.60,114.94 403.72,117.94 403.80,119.93 403.84,120.92 403.96,123.86 404.08,126.76 404.20,129.63 404.32,132.46 404.40,134.33 404.44,135.26 404.56,138.01 404.68,140.74 404.80,143.45 404.92,146.10 405.00,147.83 405.04,148.69 405.16,151.23 405.28,153.71 405.40,156.17 405.52,158.57 405.60,160.14 405.64,160.92 405.76,163.21 405.88,165.44 406.00,167.61 406.12,169.58 406.20,170.86 406.24,171.49 406.36,173.35 406.48,175.16 406.60,176.91 406.72,178.63 406.80,179.79 406.84,180.36 406.96,182.04 407.08,183.67 407.20,185.26 407.32,186.80 407.40,187.81 407.44,188.30 407.56,189.74 407.68,191.15 407.80,192.51 407.92,193.84 408.00,194.70 408.04,195.12 408.16,196.39 408.28,197.64 408.40,198.85 408.52,200.03 408.60,200.79 408.64,201.17 408.76,202.29 408.88,203.35 409.00,204.36 409.12,205.34 409.20,205.98 409.24,206.30 409.36,207.23 409.48,208.14 409.60,209.04 409.72,209.92 409.80,210.50 409.84,210.78 409.96,211.62 410.08,212.44 410.20,213.24 410.32,214.07 410.40,214.62 410.44,214.89 410.56,215.68 410.68,216.46 410.80,217.22 410.92,217.95 411.00,218.36 411.04,218.57 411.16,219.17 411.28,219.76 411.40,220.34 411.52,220.90 411.60,221.27 411.64,221.49 411.76,222.13 411.88,222.77 412.00,223.39 412.12,224.00 412.20,224.40 412.24,224.60 412.36,225.12 412.48,225.58 412.60,226.02 412.72,226.45 412.80,226.74 412.84,226.88 412.96,227.29 413.08,227.75 413.20,228.22 413.32,228.68 413.40,228.99 413.44,229.14 413.56,229.59 413.68,230.03 413.80,230.49 413.92,230.95 414.00,231.25 414.04,231.40 414.16,231.85 414.28,232.29 414.40,232.73 414.52,233.01 414.60,233.20 414.64,233.29 414.76,233.57 414.88,233.82 415.00,234.02 415.12,234.20 415.20,234.42 415.24,234.52 415.36,234.84 415.48,235.17 415.60,235.50 415.72,235.83 415.80,236.06 415.84,236.19 415.96,236.59 416.08,237.00 416.20,237.43 416.32,237.86 416.40,238.15 416.44,238.30 416.56,238.69 416.68,239.03 416.80,239.37 416.92,239.71 417.00,239.93 417.04,240.05 417.16,240.38 417.28,240.70 417.40,240.99 417.52,241.28 417.60,241.47 417.64,241.57 417.76,241.86 417.88,242.14 418.00,242.32 418.12,242.46 418.20,242.56 418.24,242.60 418.36,242.74 418.48,242.86 418.60,242.98 418.72,243.06 418.80,243.11" fill="none" stroke="#000" stroke-width="1.45" stroke-linejoin="round" stroke-linecap="round" />
<polyline points="418.80,243.11 418.84,243.13 418.96,243.20 419.08,243.25 419.20,243.30 419.32,243.43 419.40,243.81 419.44,244.00 419.56,244.57 419.68,245.14 419.80,245.73 419.92,246.32 420.00,246.72 420.04,246.78 420.16,246.93 420.28,247.09 420.40,247.24 420.52,247.39 420.60,247.49 420.64,247.53 420.76,247.57 420.88,247.49 421.00,247.41 421.12,247.31 421.20,247.25 421.24,247.22 421.36,247.11 421.48,247.35 421.60,247.76 421.72,248.17 421.80,248.45 421.84,248.59 421.96,249.01 422.08,249.43 422.20,249.61 422.32,249.74 422.40,249.82 422.44,249.86 422.56,249.98 422.68,250.10 422.80,250.22 422.92,250.10 423.00,250.01 423.04,249.96 423.16,249.81 423.28,249.65 423.40,249.49 423.52,249.37 423.60,249.51 423.64,249.58 423.76,249.80 423.88,250.01 424.00,250.22 424.12,250.43 424.20,250.57 424.24,250.67 424.36,250.98 424.48,251.28 424.60,251.58 424.72,251.89 424.80,252.09 424.84,252.20 424.96,252.42 425.08,252.54 425.20,252.67 425.32,252.79 425.40,252.87 425.44,252.91 425.56,253.03 425.68,253.26 425.80,253.56 425.92,253.85 426.00,254.05 426.60,255.40 427.20,254.62 427.80,251.21 428.40,254.51 429.00,257.13 429.60,257.46 430.20,258.13 430.80,256.82 431.40,254.63 432.00,255.85 432.60,258.76 433.20,256.20 433.80,257.39 434.40,257.80 435.00,256.10 435.60,255.92 436.20,259.95 436.80,256.56 437.40,257.48 438.00,258.13 438.60,258.77 439.20,257.87 439.80,256.59 440.40,257.39 441.00,256.87 441.60,255.78 442.20,259.22 442.80,261.13 443.40,261.32 444.00,259.76 444.60,256.87 445.20,259.95 445.80,260.40 446.40,259.08 447.00,259.86 447.60,259.55 448.20,257.84 448.80,258.01 449.40,258.41 450.00,258.63 450.60,258.38 451.20,260.13 451.80,258.88 452.40,256.48 453.00,258.84 453.60,255.83 454.20,262.67 454.80,258.76 455.40,259.25 456.00,262.11 456.60,262.02 457.20,258.35 457.80,256.90 458.40,259.68 458.60,259.93" fill="none" stroke="#000" stroke-width="2.0" stroke-linejoin="round" stroke-linecap="round" />
<polyline points="335.20,259.37 335.80,257.55 336.40,255.57 337.00,256.28 337.60,258.25 338.20,257.68 338.80,256.82 339.40,255.68 340.00,256.45 340.60,260.83 341.20,260.63 341.80,256.43 342.40,257.04 343.00,257.35 343.60,257.39 344.20,258.26 344.80,259.49 345.40,257.67 346.00,255.79 346.60,258.51 347.20,260.33 347.80,259.68 348.40,258.54 349.00,259.04 349.60,256.87 350.20,260.11 350.80,262.13 351.40,261.31 352.00,259.86 352.60,258.50 353.20,256.80 353.80,259.14 354.40,256.93 355.00,259.73 355.60,261.92 356.20,262.40 356.80,261.57 357.40,260.34 358.00,260.82 358.60,259.30 359.20,260.06 359.80,260.47 360.40,260.30 361.00,258.90 361.60,256.59 362.20,260.44 362.80,260.65 363.40,259.31 364.00,259.76 364.60,260.74 365.20,259.69 365.80,257.01 366.40,260.98 367.00,259.00 367.60,256.03 368.20,257.52 368.80,257.36 369.40,255.12 370.00,256.51 370.60,257.17 371.20,257.47 371.80,256.81 372.40,256.97 373.00,256.90 373.60,255.43 374.20,254.02 374.80,259.27 375.40,257.68 376.00,257.67 376.60,258.77 377.00,259.23 377.12,258.89 377.20,258.67 377.24,258.56 377.36,258.22 377.48,257.89 377.60,257.55 377.72,257.32 377.80,257.16 377.84,257.08 377.96,256.85 378.08,256.62 378.20,256.38 378.32,256.12 378.40,255.89 378.44,255.77 378.56,255.40 378.68,255.04 378.80,254.68 378.92,254.32 379.00,254.07 379.04,254.22 379.16,254.65 379.28,255.08 379.40,255.51 379.52,255.94 379.60,256.22 379.64,256.37 379.76,256.50 379.88,256.33 380.00,256.17 380.12,256.00 380.20,255.89 380.24,255.84 380.36,255.67 380.48,255.65 380.60,255.71 380.72,255.77 380.80,255.81 380.84,255.83 380.96,255.89 381.08,255.94 381.20,255.38 381.32,254.69 381.40,254.24 381.44,254.01 381.56,253.34 381.68,252.66 381.80,252.00 381.92,252.11 382.00,252.18 382.04,252.22 382.16,252.32 382.28,252.42 382.40,252.51 382.52,252.50 382.60,252.14 382.64,251.96 382.76,251.43 382.88,250.90 383.00,250.38 383.12,249.87 383.20,249.53 383.24,249.70 383.36,250.21 383.48,250.70 383.60,251.18 383.72,251.64 383.80,251.94 383.84,252.09 383.96,251.84 384.08,250.91 384.20,250.00 384.32,249.10 384.40,248.51 384.44,248.22 384.56,247.36 384.68,247.34 384.80,247.72 384.92,248.09 385.00,248.32 385.04,248.44 385.16,248.77 385.28,249.08 385.40,249.14 385.52,249.14 385.60,249.14 385.64,249.13 385.76,249.11 385.88,249.08 386.00,249.04 386.12,248.75 386.20,248.56 386.24,248.47 386.36,248.18 386.48,247.89 386.60,247.59 386.72,247.31 386.80,247.14 386.84,247.05 386.96,246.79" fill="none" stroke="#000" stroke-width="2.0" stroke-linejoin="round" stroke-linecap="round" />
<polyline points="386.96,246.79 387.08,246.53 387.20,246.26 387.32,245.99 387.40,245.81 387.44,245.74 387.56,245.54 387.68,245.34 387.80,245.12 387.92,244.88 388.00,244.72 388.04,244.64 388.16,244.26 388.28,243.77 388.40,243.30 388.52,242.85 388.60,242.56 388.64,242.41 388.76,242.00 388.88,241.76 389.00,241.57 389.12,241.35 389.20,241.18 389.24,241.10 389.36,240.81 389.48,240.50 389.60,240.15 389.72,239.80 389.80,239.56 389.84,239.44 389.96,239.07 390.08,238.69 390.20,238.31 390.32,237.87 390.40,237.58 390.44,237.43 390.56,236.98 390.68,236.52 390.80,236.05 390.92,235.56 391.00,235.19 391.04,235.00 391.16,234.43 391.28,233.85 391.40,233.26 391.52,232.65 391.60,232.24 391.64,232.08 391.76,231.59 391.88,231.08 392.00,230.57 392.12,230.04 392.20,229.68 392.24,229.49 392.36,228.90 392.48,228.25 392.60,227.58 392.72,226.90 392.80,226.44 392.84,226.21 392.96,225.50 393.08,224.76 393.20,224.00 393.32,223.22 393.40,222.70 393.44,222.43 393.56,221.62 393.68,220.79 393.80,219.97 393.92,219.13 394.00,218.57 394.04,218.28 394.16,217.41 394.28,216.53 394.40,215.62 394.52,214.69 394.60,214.06 394.64,213.74 394.76,212.78 394.88,211.79 395.00,210.79 395.12,209.78 395.20,209.16 395.24,208.84 395.36,207.88 395.48,206.90 395.60,205.91 395.72,204.89 395.80,204.20 395.84,203.82 395.96,202.65 396.08,201.47 396.20,200.26 396.32,199.04 396.40,198.22 396.44,197.80 396.56,196.54 396.68,195.25 396.80,193.95 396.92,192.63 397.00,191.75 397.04,191.30 397.16,189.95 397.28,188.64 397.40,187.33 397.52,186.01 397.60,185.13 397.64,184.68 397.76,183.35 397.88,182.00 398.00,180.65 398.12,179.29 398.20,178.39 398.24,177.93 398.36,176.58 398.48,175.22 398.60,173.86 398.72,172.46 398.80,171.53 398.84,171.07 398.96,169.69 399.08,168.31 399.20,166.95 399.32,165.61 399.40,164.74 399.44,164.31 399.56,163.02 399.68,161.74 399.80,160.49 399.92,159.26 400.00,158.45 400.04,158.05 400.16,156.89 400.28,155.73 400.40,154.57 400.52,153.40 400.60,152.61 400.64,152.20 400.76,150.90 400.88,149.45 401.00,147.83 401.12,145.91 401.20,144.38 401.24,143.51 401.36,140.29 401.48,135.76 401.60,128.88 401.72,118.19 401.80,108.59 401.84,103.36 401.96,91.04 402.08,94.09 402.20,108.78 402.32,122.52 402.40,129.18 402.44,131.84 402.56,137.84 402.68,141.85 402.80,144.68 402.92,146.87 403.00,148.09 403.04,148.65 403.16,150.19 403.28,151.57 403.40,152.87 403.52,154.12 403.60,154.94 403.64,155.35 403.76,156.57 403.88,157.80 404.00,159.04 404.12,160.29 404.20,161.14 404.24,161.58 404.36,162.91 404.48,164.26 404.60,165.62 404.72,167.01 404.80,167.94 404.84,168.41 404.96,169.80 405.08,171.18 405.20,172.57 405.32,173.97 405.40,174.90 405.44,175.37 405.56,176.78 405.68,178.21 405.80,179.65 405.92,181.08 406.00,182.03 406.04,182.51 406.16,183.94 406.28,185.36 406.40,186.79 406.52,188.21 406.60,189.16 406.64,189.63 406.76,191.03 406.88,192.42 407.00,193.79 407.12,195.08 407.20,195.93 407.24,196.35 407.36,197.61 407.48,198.85 407.60,200.07 407.72,201.28 407.80,202.12 407.84,202.53 407.96,203.76 408.08,204.97 408.20,206.16 408.32,207.33 408.40,208.10 408.44,208.48 408.56,209.63 408.68,210.76 408.80,211.87 408.92,212.96 409.00,213.68 409.04,214.03 409.16,215.07 409.28,216.09 409.40,217.09 409.52,218.07 409.60,218.71 409.64,219.03 409.76,219.97 409.88,220.87 410.00,221.75 410.12,222.61 410.20,223.18 410.24,223.45 410.36,224.28 410.48,225.09 410.60,225.89 410.72,226.67 410.80,227.18 410.84,227.43 410.96,228.18 411.08,228.92 411.20,229.64 411.32,230.38 411.40,230.87 411.44,231.11 411.56,231.82 411.68,232.52 411.80,233.20 411.92,233.86 412.00,234.27 412.04,234.47 412.16,235.07 412.28,235.65 412.40,236.22 412.52,236.78 412.60,237.14 412.64,237.35 412.76,237.96 412.88,238.56 413.00,239.14 413.12,239.72 413.20,240.10 413.24,240.29 413.36,240.81 413.48,241.29 413.60,241.75 413.72,242.21 413.80,242.51 413.84,242.66 413.96,243.10 414.08,243.55 414.20,244.00 414.32,244.44 414.40,244.73 414.44,244.87 414.56,245.29 414.68,245.71 414.80,246.06 414.92,246.38 415.00,246.60 415.04,246.70 415.16,247.01 415.28,247.31 415.40,247.57 415.52,247.91 415.60,248.14 415.64,248.25 415.76,248.59 415.88,248.92 416.00,249.25 416.12,249.58 416.20,249.79 416.24,249.90 416.36,250.21 416.48,250.51 416.60,250.81 416.72,251.11 416.80,251.31 416.84,251.37 416.96,251.56 417.08,251.74 417.20,251.91 417.32,252.07 417.40,252.16 417.44,252.21 417.56,252.43 417.68,252.73 417.80,253.04 417.92,253.34 418.00,253.54" fill="none" stroke="#000" stroke-width="1.45" stroke-linejoin="round" stroke-linecap="round" />
<polyline points="418.00,253.54 418.04,253.65 418.16,253.95 418.28,254.32 418.40,254.72 418.52,255.12 418.60,255.39 418.64,255.53 418.76,255.94 418.88,256.36 419.00,256.39 419.12,256.33 419.20,256.28 419.24,256.26 419.36,256.17 419.48,256.08 419.60,255.97 419.72,256.05 419.80,256.10 419.84,256.12 419.96,256.19 420.08,256.25 420.20,256.31 420.32,256.41 420.40,256.64 420.44,256.76 420.56,257.11 420.68,257.46 420.80,257.82 420.92,258.18 421.00,258.42 421.04,258.51 421.16,258.78 421.28,259.05 421.40,259.33 421.52,259.60 421.60,259.78 421.64,259.87 421.76,260.10 421.88,260.27 422.00,260.45 422.12,260.62 422.20,260.74 422.24,260.80 422.36,260.97 422.48,261.05 422.60,261.08 422.72,261.11 422.80,261.13 422.84,261.14 422.96,261.17 423.08,261.19 423.20,261.01 423.32,260.79 423.40,260.64 423.44,260.57 423.56,260.34 423.68,260.10 423.80,259.86 423.92,260.21 424.00,260.45 424.04,260.57 424.16,260.93 424.28,261.29 424.40,261.65 424.52,261.99 424.60,262.14 424.64,262.22 424.76,262.45 424.88,262.67 425.00,262.90 425.12,263.12 425.20,263.27 425.24,263.14 425.36,262.74 425.48,262.35 425.60,261.94 425.72,261.54 425.80,261.27 425.84,261.13 425.96,261.18 426.08,261.67 426.20,262.17 426.32,262.66 426.40,262.99 426.44,263.15 426.56,263.64 426.68,263.76 426.80,263.70 426.92,263.64 427.00,263.60 427.60,263.70 428.20,264.67 428.80,266.04 429.40,265.07 430.00,263.04 430.60,263.68 431.20,265.50 431.80,266.55 432.40,265.46 433.00,263.10 433.60,264.83 434.20,264.41 434.80,262.18 435.40,263.40 436.00,265.92 436.60,266.28 437.20,264.06 437.80,264.60 438.40,266.04 439.00,265.12 439.60,263.29 440.20,263.77 440.80,265.18 441.40,264.08 442.00,266.22 442.60,264.37 443.20,265.34 443.80,266.44 444.40,267.36 445.00,267.15 445.60,265.23 446.20,266.37 446.80,266.43 447.40,264.67 448.00,265.20 448.60,266.33 449.20,266.72 449.80,267.30 450.40,268.87 451.00,266.93 451.60,266.49 452.20,266.45 452.80,266.50 453.40,266.76 454.00,267.43 454.60,268.62 455.20,265.87 455.80,266.38 456.40,265.09 457.00,264.21 457.60,264.76 458.20,264.72 458.80,264.25 459.40,266.87 460.00,268.18 460.60,267.02 460.70,266.65" fill="none" stroke="#000" stroke-width="2.0" stroke-linejoin="round" stroke-linecap="round" />
<polyline points="336.30,268.91 336.90,269.69 337.50,268.12 338.10,268.88 338.70,267.80 339.30,268.43 339.90,268.86 340.50,268.13 341.10,268.15 341.70,270.50 342.30,267.86 342.90,268.18 343.50,268.96 344.10,270.25 344.70,270.16 345.30,270.09 345.90,272.37 346.50,270.18 347.10,269.93 347.70,270.62 348.30,269.72 348.90,268.93 349.50,269.27 350.10,269.93 350.70,270.78 351.30,272.42 351.90,271.54 352.50,271.29 353.10,269.98 353.70,268.78 354.30,270.74 354.90,271.09 355.50,273.16 356.10,273.42 356.70,272.33 357.30,271.79 357.90,271.92 358.50,270.94 359.10,268.18 359.70,271.05 360.30,271.15 360.90,271.50 361.50,272.06 362.10,271.37 362.70,269.58 363.30,272.77 363.90,270.22 364.50,270.82 365.10,271.32 365.70,269.61 366.30,268.53 366.90,271.80 367.50,271.83 368.10,272.87 368.70,271.33 369.30,271.07 369.90,270.76 370.50,269.43 371.10,268.57 371.70,270.62 372.30,268.56 372.90,269.72 373.50,270.56 374.10,270.42 374.70,269.07 375.30,267.41 375.90,271.17 376.50,269.71 377.10,268.70 377.70,266.93 378.00,265.83 378.12,266.18 378.24,266.53 378.30,266.71 378.36,266.89 378.48,267.24 378.60,267.59 378.72,267.96 378.84,268.47 378.90,268.72 378.96,268.98 379.08,269.48 379.20,269.99 379.32,270.50 379.44,270.65 379.50,270.37 379.56,270.09 379.68,269.53 379.80,268.97 379.92,268.41 380.04,267.85 380.10,267.57 380.16,267.52 380.28,267.42 380.40,267.31 380.52,267.21 380.64,267.10 380.70,267.05 380.76,266.99 380.88,266.93 381.00,266.88 381.12,266.84 381.24,266.79 381.30,266.76 381.36,266.74 381.48,266.69 381.60,266.89 381.72,267.13 381.84,267.37 381.90,267.49 381.96,267.61 382.08,267.85 382.20,268.09 382.32,266.97 382.44,265.84 382.50,265.28 382.56,264.72 382.68,263.59 382.80,262.46 382.92,261.56 383.04,261.81 383.10,261.93 383.16,262.06 383.28,262.30 383.40,262.54 383.52,262.79 383.64,263.02 383.70,263.13 383.76,263.24 383.88,263.46 384.00,263.68 384.12,263.90 384.24,264.11 384.30,264.22 384.36,264.55 384.48,265.21 384.60,265.86 384.72,266.50 384.84,267.13 384.90,267.44 384.96,267.75 385.08,267.43 385.20,266.66 385.32,265.89 385.44,265.13 385.50,264.76 385.56,264.38 385.68,263.64 385.80,263.53 385.92,263.54 386.04,263.54 386.10,263.54 386.16,263.54 386.28,263.54 386.40,263.53 386.52,263.42 386.64,263.31 386.70,263.25 386.76,263.19 386.88,263.07 387.00,262.95 387.12,262.80 387.24,262.56 387.30,262.44 387.36,262.32 387.48,262.08 387.60,261.84 387.72,261.60 387.84,261.37 387.90,261.27 387.96,261.17 388.08,260.96 388.20,260.75 388.32,260.54 388.44,260.33 388.50,260.22 388.56,260.15 388.68,260.00 388.80,259.84 388.92,259.68 389.04,259.52 389.10,259.43 389.16,259.34 389.28,259.31 389.40,259.33 389.52,259.32 389.64,259.30 389.70,259.28" fill="none" stroke="#000" stroke-width="2.0" stroke-linejoin="round" stroke-linecap="round" />
<polyline points="389.70,259.28 389.76,259.26 389.88,259.19 390.00,258.75 390.12,258.24 390.24,257.75 390.30,257.51 390.36,257.27 390.48,256.80 390.60,256.35 390.72,256.07 390.84,255.79 390.90,255.64 390.96,255.49 391.08,255.19 391.20,254.89 391.32,254.58 391.44,254.28 391.50,254.12 391.56,253.96 391.68,253.63 391.80,253.29 391.92,252.93 392.04,252.57 392.10,252.39 392.16,252.21 392.28,251.84 392.40,251.46 392.52,251.08 392.64,250.68 392.70,250.47 392.76,250.24 392.88,249.77 393.00,249.29 393.12,248.80 393.24,248.30 393.30,248.04 393.36,247.78 393.48,247.24 393.60,246.69 393.72,246.12 393.84,245.54 393.90,245.25 393.96,244.95 394.08,244.34 394.20,243.76 394.32,243.19 394.44,242.59 394.50,242.29 394.56,241.98 394.68,241.36 394.80,240.71 394.92,240.03 395.04,239.32 395.10,238.96 395.16,238.60 395.28,237.86 395.40,237.10 395.52,236.32 395.64,235.49 395.70,235.07 395.76,234.65 395.88,233.78 396.00,232.90 396.12,231.99 396.24,231.08 396.30,230.63 396.36,230.17 396.48,229.24 396.60,228.29 396.72,227.31 396.84,226.32 396.90,225.81 396.96,225.30 397.08,224.27 397.20,223.21 397.32,222.14 397.44,221.03 397.50,220.47 397.56,219.91 397.68,218.73 397.80,217.52 397.92,216.29 398.04,215.03 398.10,214.40 398.16,213.75 398.28,212.46 398.40,211.19 398.52,209.91 398.64,208.61 398.70,207.96 398.76,207.30 398.88,205.97 399.00,204.62 399.12,203.19 399.24,201.75 399.30,201.02 399.36,200.30 399.48,198.83 399.60,197.37 399.72,195.90 399.84,194.44 399.90,193.70 399.96,192.97 400.08,191.52 400.20,190.07 400.32,188.63 400.44,187.20 400.50,186.51 400.56,185.81 400.68,184.44 400.80,183.09 400.92,181.75 401.04,180.44 401.10,179.79 401.16,179.13 401.28,177.83 401.40,176.55 401.52,175.28 401.64,174.00 401.70,173.35 401.76,172.69 401.88,171.35 402.00,169.90 402.12,168.25 402.24,166.27 402.30,165.08 402.36,163.70 402.48,160.10 402.60,154.74 402.72,146.53 402.84,135.22 402.90,129.62 402.96,125.83 403.08,129.72 403.20,144.27 403.32,155.38 403.44,162.17 403.50,164.58 403.56,166.59 403.68,169.86 403.80,172.60 403.92,175.08 404.04,177.46 404.10,178.63 404.16,179.81 404.28,182.17 404.40,184.56 404.52,186.98 404.64,189.43 404.70,190.69 404.76,191.94 404.88,194.45 405.00,196.96 405.12,199.46 405.24,201.94 405.30,203.17 405.36,204.38 405.48,206.78 405.60,209.13 405.72,211.43 405.84,213.68 405.90,214.78 405.96,215.87 406.08,218.00 406.20,220.06 406.32,222.06 406.44,224.00 406.50,224.95 406.56,225.87 406.68,227.68 406.80,229.43 406.92,231.12 407.04,232.75 407.10,233.54 407.16,234.32 407.28,235.83 407.40,237.28 407.52,238.69 407.64,240.04 407.70,240.70 407.76,241.34 407.88,242.59 408.00,243.79 408.12,244.94 408.24,246.00 408.30,246.51 408.36,247.02 408.48,247.99 408.60,248.93 408.72,249.83 408.84,250.71 408.90,251.14 408.96,251.56 409.08,252.38 409.20,253.17 409.32,253.93 409.44,254.66 409.50,255.01 409.56,255.36 409.68,256.04 409.80,256.69 409.92,257.31 410.04,257.92 410.10,258.21 410.16,258.50 410.28,259.08 410.40,259.65 410.52,260.20 410.64,260.73 410.70,260.98 410.76,261.24 410.88,261.73 411.00,262.17 411.12,262.58 411.24,262.97 411.30,263.16 411.36,263.35 411.48,263.72 411.60,264.07 411.72,264.44 411.84,264.75 411.90,264.90 411.96,265.05 412.08,265.34 412.20,265.61 412.32,265.87 412.44,266.21 412.50,266.39 412.56,266.56 412.68,266.91 412.80,267.27 412.92,267.63 413.04,268.00 413.10,268.19 413.16,268.39 413.28,268.78 413.40,269.18" fill="none" stroke="#000" stroke-width="1.45" stroke-linejoin="round" stroke-linecap="round" />
<polyline points="413.40,269.18 413.52,269.59 413.64,269.99 413.70,270.20 413.76,270.26 413.88,270.38 414.00,270.48 414.12,270.56 414.24,270.63 414.30,270.66 414.36,270.69 414.48,270.93 414.60,271.27 414.72,271.61 414.84,271.95 414.90,272.12 414.96,272.29 415.08,272.64 415.20,272.81 415.32,272.94 415.44,273.07 415.50,273.13 415.56,273.19 415.68,273.31 415.80,273.42 415.92,273.23 416.04,273.02 416.10,272.91 416.16,272.80 416.28,272.57 416.40,272.33 416.52,272.13 416.64,272.17 416.70,272.19 416.76,272.21 416.88,272.24 417.00,272.26 417.12,272.29 417.24,272.41 417.30,272.58 417.36,272.75 417.48,273.10 417.60,273.44 417.72,273.79 417.84,274.14 417.90,274.31 417.96,274.24 418.08,274.10 418.20,273.95 418.32,273.81 418.44,273.66 418.50,273.59 418.56,273.51 418.68,273.82 418.80,274.37 418.92,274.91 419.04,275.46 419.10,275.73 419.16,276.00 419.28,276.54 419.40,276.71 419.52,276.82 419.64,276.92 419.70,276.97 419.76,277.02 419.88,277.12 420.00,277.22 420.12,277.17 420.24,277.12 420.30,277.09 420.36,277.06 420.48,277.01 420.60,276.96 420.72,276.93 420.84,277.07 420.90,277.14 420.96,277.21 421.08,277.35 421.20,277.48 421.32,277.62 421.44,277.62 421.50,277.49 421.56,277.36 421.68,277.10 421.80,276.84 421.92,276.57 422.04,276.31 422.10,276.18 422.16,276.32 422.28,276.61 422.40,276.90 422.52,277.19 422.64,277.48 422.70,277.62 422.76,277.76 422.88,277.67 423.00,277.39 423.12,277.11 423.24,276.82 423.30,276.68 423.36,276.54 423.48,276.25 423.60,276.34 423.72,276.49 423.84,276.65 423.90,276.73 423.96,276.81 424.08,276.96 424.20,277.12 424.32,276.99 424.44,276.87 424.50,276.81 424.56,276.75 424.68,276.62 424.80,276.50 424.92,276.44 425.04,276.68 425.10,276.80 425.16,276.92 425.28,277.16 425.40,277.40 425.52,277.64 425.64,277.78 425.70,277.75 425.76,277.73 425.88,277.67 426.00,277.61 426.12,277.55 426.24,277.49 426.30,277.46 426.36,277.56 426.48,277.78 426.60,278.00 426.72,278.21 426.84,278.42 426.90,278.53 426.96,278.64 427.08,278.47 427.20,278.12 427.32,277.77 427.44,277.41 427.50,277.23 427.56,277.06 427.68,276.70 427.80,276.86 427.92,277.12 428.10,277.51 428.70,278.39 429.30,278.46 429.90,277.87 430.50,277.86 431.10,275.91 431.70,276.82 432.30,277.04 432.90,276.01 433.50,275.75 434.10,277.69 434.70,276.64 435.30,276.53 435.90,276.55 436.50,275.55 437.10,274.66 437.70,274.45 438.30,274.76 438.90,277.32 439.50,274.52 440.10,275.42 440.70,274.44 441.30,273.86 441.90,274.72 442.50,274.86 443.10,274.18 443.70,273.81 444.30,274.04 444.90,274.24 445.50,274.76 446.10,275.49 446.70,275.33 447.30,272.81 447.90,273.34 448.50,273.47 449.10,274.26 449.70,273.82 450.30,272.42 450.90,272.37 451.50,272.31 452.10,272.35 452.70,273.14 453.30,272.63 453.90,272.02 454.50,272.22 455.10,272.57 455.70,272.03 456.30,271.48 456.90,271.46 457.50,271.79 458.10,271.80 458.70,271.64 459.30,271.92 459.90,271.55 460.50,270.22 461.10,271.54 461.70,272.13 462.00,272.10" fill="none" stroke="#000" stroke-width="2.0" stroke-linejoin="round" stroke-linecap="round" />
<polyline points="338.20,286.16 338.80,285.26 339.40,285.05 340.00,286.07 340.60,284.91 341.20,287.38 341.80,286.89 342.40,285.71 343.00,285.65 343.60,285.55 344.20,285.83 344.80,285.57 345.40,285.77 346.00,286.47 346.60,286.86 347.20,286.22 347.80,285.28 348.40,287.90 349.00,284.82 349.60,286.17 350.20,286.51 350.80,286.86 351.40,287.06 352.00,285.12 352.60,283.30 353.20,285.80 353.80,286.97 354.40,286.38 355.00,286.13 355.60,286.90 356.20,286.93 356.80,284.10 357.40,286.71 358.00,286.94 358.60,285.81 359.20,285.22 359.80,285.34 360.40,285.19 361.00,286.38 361.60,284.98 362.20,285.71 362.80,286.54 363.40,285.36 364.00,283.53 364.60,284.13 365.20,285.09 365.80,282.72 366.40,283.74 367.00,284.61 367.60,284.13 368.20,283.47 368.80,284.24 369.40,284.72 370.00,283.97 370.60,283.31 371.20,285.46 371.80,286.70 372.40,285.30 373.00,283.66 373.60,284.34 374.20,282.19 374.80,283.17 375.40,284.15 376.00,283.98 376.60,283.23 377.20,283.18 377.80,283.97 378.40,285.56 379.00,284.32 379.60,283.53 380.20,282.94 380.80,283.01 381.00,283.68 381.12,284.09 381.24,284.49 381.36,284.57 381.40,284.49 381.48,284.32 381.60,284.08 381.72,283.83 381.84,283.59 381.96,283.34 382.00,283.26 382.08,283.19 382.20,283.10 382.32,283.00 382.44,282.90 382.56,282.81 382.60,282.77 382.68,282.71 382.80,282.63 382.92,282.55 383.04,282.47 383.16,282.39 383.20,282.37 383.28,282.32 383.40,282.24 383.52,282.16 383.64,282.07 383.76,281.99 383.80,281.96 383.88,281.91 384.00,281.82 384.12,281.77 384.24,281.89 384.36,282.01 384.40,282.05 384.48,282.13 384.60,282.25 384.72,282.37 384.84,282.55 384.96,282.86 385.00,282.96 385.08,283.17 385.20,283.47 385.32,283.78 385.44,284.08 385.56,284.03 385.60,283.89 385.68,283.61 385.80,283.19 385.92,282.77 386.04,282.35 386.16,281.92 386.20,281.78 386.28,281.58 386.40,281.27 386.52,280.96 386.64,280.64 386.76,280.33 386.80,280.23 386.88,280.02 387.00,279.79 387.12,279.57 387.24,279.35 387.36,279.14 387.40,279.06 387.48,278.92 387.60,278.70 387.72,279.10 387.84,279.50 387.96,279.90 388.00,280.03 388.08,280.30 388.20,280.70 388.32,280.96 388.44,280.56 388.56,280.15 388.60,280.02 388.68,279.75 388.80,279.34 388.92,278.93 389.04,278.81 389.16,279.27 389.20,279.43 389.28,279.73 389.40,280.19 389.52,280.65 389.64,281.10 389.76,281.10 389.80,280.94 389.88,280.62 390.00,280.15 390.12,279.68 390.24,279.21 390.36,278.74 390.40,278.59 390.48,278.64 390.60,278.72 390.72,278.79 390.84,278.86 390.96,278.91 391.00,278.93 391.08,278.96 391.20,278.81 391.32,278.61 391.44,278.41 391.56,278.21 391.60,278.14 391.68,278.01 391.80,277.80 391.92,277.64 392.04,277.47 392.16,277.30 392.20,277.25 392.28,277.13 392.40,276.95 392.52,276.79 392.64,276.69 392.76,276.59 392.80,276.55 392.88,276.48 393.00,276.36 393.12,276.23 393.24,276.07 393.36,275.86 393.40,275.79 393.48,275.64 393.60,275.42 393.72,275.19 393.84,274.96 393.96,274.60 394.00,274.44 394.08,274.12 394.20,273.66" fill="none" stroke="#000" stroke-width="2.0" stroke-linejoin="round" stroke-linecap="round" />
<polyline points="394.20,273.66 394.32,273.21 394.44,272.77 394.56,272.35 394.60,272.21 394.68,272.09 394.80,271.88 394.92,271.67 395.04,271.45 395.16,271.21 395.20,271.12 395.28,270.96 395.40,270.67 395.52,270.37 395.64,270.06 395.76,269.75 395.80,269.64 395.88,269.43 396.00,269.06 396.12,268.68 396.24,268.29 396.36,267.88 396.40,267.74 396.48,267.46 396.60,267.03 396.72,266.59 396.84,266.13 396.96,265.66 397.00,265.50 397.08,265.18 397.20,264.67 397.32,264.16 397.44,263.63 397.56,263.11 397.60,262.93 397.68,262.57 397.80,262.01 397.92,261.43 398.04,260.83 398.16,260.19 398.20,259.96 398.28,259.50 398.40,258.78 398.52,258.04 398.64,257.28 398.76,256.49 398.80,256.23 398.88,255.69 399.00,254.87 399.12,254.02 399.24,253.15 399.36,252.24 399.40,251.93 399.48,251.30 399.60,250.31 399.72,249.29 399.84,248.23 399.96,247.14 400.00,246.77 400.08,246.01 400.20,244.84 400.32,243.65 400.44,242.42 400.56,241.15 400.60,240.72 400.68,239.84 400.80,238.48 400.92,237.08 401.04,235.63 401.16,234.13 401.20,233.62 401.28,232.58 401.40,230.99 401.52,229.35 401.64,227.68 401.76,225.99 401.80,225.41 401.88,224.25 402.00,222.47 402.12,220.63 402.24,218.75 402.36,216.79 402.40,216.12 402.48,214.76 402.60,212.69 402.72,210.58 402.84,208.43 402.96,206.25 403.00,205.51 403.08,204.05 403.20,201.85 403.32,199.62 403.44,197.39 403.56,195.14 403.60,194.40 403.68,192.91 403.80,190.66 403.92,188.44 404.04,186.25 404.16,184.10 404.20,183.39 404.28,182.00 404.40,179.97 404.52,178.00 404.64,176.13 404.76,174.36 404.80,173.79 404.88,172.70 405.00,171.17 405.12,169.78 405.24,168.55 405.36,167.48 405.40,167.16 405.48,166.58 405.60,165.86 405.72,165.33 405.84,164.30" fill="none" stroke="#000" stroke-width="1.45" stroke-linejoin="round" stroke-linecap="round" />
<polyline points="405.84,164.30 405.96,163.32 406.00,163.29 406.08,163.40 406.20,164.38" fill="none" stroke="#000" stroke-width="2.0" stroke-linejoin="round" stroke-linecap="round" />
<polyline points="406.20,164.38 406.32,165.37 406.44,165.83 406.56,166.45 406.60,166.69 406.68,167.23 406.80,168.14 406.92,169.17 407.04,170.31 407.16,171.56 407.20,172.00 407.28,172.88 407.40,174.27 407.52,175.75 407.64,177.30 407.76,178.93 407.80,179.48 407.88,180.61 408.00,182.37 408.12,184.17 408.24,186.01 408.36,187.89 408.40,188.52 408.48,189.79 408.60,191.71 408.72,193.64 408.84,195.58 408.96,197.52 409.00,198.16 409.08,199.45 409.20,201.38 409.32,203.30 409.44,205.22 409.56,207.11 409.60,207.74 409.68,208.99 409.80,210.84 409.92,212.66 410.04,214.45 410.16,216.17 410.20,216.74 410.28,217.87 410.40,219.53 410.52,221.16 410.64,222.76 410.76,224.36 410.80,224.89 410.88,225.95 411.00,227.50 411.12,229.02 411.24,230.51 411.36,231.96 411.40,232.44 411.48,233.36 411.60,234.70 411.72,236.02 411.84,237.30 411.96,238.54 412.00,238.95 412.08,239.76 412.20,240.96 412.32,242.13 412.44,243.26 412.56,244.37 412.60,244.74 412.68,245.45 412.80,246.51 412.92,247.53 413.04,248.53 413.16,249.50 413.20,249.82 413.28,250.45 413.40,251.37 413.52,252.27 413.64,253.14 413.76,253.99 413.80,254.27 413.88,254.82 414.00,255.62 414.12,256.41 414.24,257.16 414.36,257.88 414.40,258.12 414.48,258.58 414.60,259.26 414.72,259.92 414.84,260.56 414.96,261.17 415.00,261.37 415.08,261.76 415.20,262.34 415.32,262.90 415.44,263.44 415.56,263.97 415.60,264.14 415.68,264.51 415.80,265.07 415.92,265.60 416.04,266.13 416.16,266.64 416.20,266.81 416.28,267.14 416.40,267.64 416.52,268.12 416.64,268.59 416.76,269.06 416.80,269.21 416.88,269.51 417.00,269.95 417.12,270.35 417.24,270.74 417.36,271.12 417.40,271.25 417.48,271.49 417.60,271.86 417.72,272.20 417.84,272.57 417.96,272.94 418.00,273.06 418.08,273.31 418.20,273.68 418.32,274.06 418.44,274.43 418.56,274.80 418.60,274.92 418.68,275.17 418.80,275.53 418.92,275.90 419.04,276.26 419.16,276.52 419.20,276.57 419.28,276.66 419.40,276.78 419.52,276.88 419.64,276.96 419.76,277.02 419.80,277.04 419.88,277.30" fill="none" stroke="#000" stroke-width="1.45" stroke-linejoin="round" stroke-linecap="round" />
<polyline points="419.88,277.30 420.00,277.69 420.12,278.09 420.24,278.50 420.36,278.91 420.40,279.04 420.48,279.32 420.60,279.57 420.72,279.79 420.84,280.00 420.96,280.20 421.00,280.27 421.08,280.40 421.20,280.60 421.32,280.57 421.44,280.54 421.56,280.49 421.60,280.47 421.68,280.43 421.80,280.36 421.92,280.32 422.04,280.54 422.16,280.75 422.20,280.82 422.28,280.96 422.40,281.17 422.52,281.38 422.64,281.62 422.76,281.90 422.80,282.00 422.88,282.19 423.00,282.48 423.12,282.77 423.24,283.06 423.36,283.06 423.40,282.97 423.48,282.78 423.60,282.48 423.72,282.18 423.84,281.86 423.96,281.54 424.00,281.42 424.08,281.63 424.20,281.93 424.32,282.24 424.44,282.55 424.56,282.85 424.60,282.96 424.68,283.16 424.80,283.51 424.92,283.87 425.04,284.22 425.16,284.58 425.20,284.70 425.28,284.94 425.40,285.29 425.52,285.18 425.64,285.07 425.76,284.95 425.80,284.91 425.88,284.83 426.00,284.70 426.12,284.61 426.24,284.67 426.36,284.73 426.40,284.75 426.48,284.79 426.60,284.84 426.72,284.89 426.84,285.01 426.96,285.25 427.00,285.33 427.08,285.50 427.20,285.74 427.32,285.98 427.44,286.21 427.56,286.31 427.60,286.30 427.68,286.27 427.80,286.23 427.92,286.19 428.04,286.14 428.16,286.09 428.20,286.08 428.28,285.91 428.40,285.65 428.52,285.39 428.64,285.12 428.76,284.86 428.80,284.77 428.88,284.59 429.00,284.96 429.12,285.46 429.24,285.96 429.36,286.45 429.40,286.62 429.48,286.95 429.60,287.44 429.72,287.42 429.84,287.41 429.96,287.39 430.00,287.39 430.08,287.37 430.20,287.35 430.32,287.26 430.44,286.82 430.56,286.37 430.60,286.22 430.68,285.92 430.80,285.47 430.92,285.02 431.20,285.34 431.80,286.76 432.40,285.96 433.00,286.05 433.60,286.22 434.20,286.08 434.80,285.86 435.40,285.46 436.00,284.73 436.60,284.88 437.20,283.18 437.80,283.93 438.40,284.00 439.00,283.10 439.60,282.09 440.20,281.54 440.80,280.40 441.40,281.46 442.00,282.29 442.60,282.05 443.20,281.39 443.80,280.62 444.40,280.00 445.00,282.32 445.60,281.06 446.20,279.23 446.80,279.85 447.40,280.44 448.00,280.24 448.60,280.96 449.20,281.13 449.80,280.48 450.40,280.04 451.00,280.55 451.60,279.80 452.20,278.74 452.80,279.98 453.40,278.55 454.00,280.49 454.60,279.18 455.20,278.29 455.80,278.20 456.40,278.46 457.00,278.62 457.60,277.44 458.20,278.62 458.80,278.27 459.40,278.54 460.00,278.19 460.60,277.25 461.20,277.39 461.80,278.02 462.40,277.65 463.00,277.47 463.60,277.50 464.10,277.51" fill="none" stroke="#000" stroke-width="2.0" stroke-linejoin="round" stroke-linecap="round" />
<polyline points="339.00,295.51 339.60,295.31 340.20,293.91 340.80,293.71 341.40,293.63 342.00,293.78 342.60,294.20 343.20,294.00 343.80,293.59 344.40,294.17 345.00,294.53 345.60,291.84 346.20,293.52 346.80,293.72 347.40,292.90 348.00,292.66 348.60,292.98 349.20,292.13 349.80,292.10 350.40,291.49 351.00,291.95 351.60,292.16 352.20,291.89 352.80,292.42 353.40,293.62 354.00,293.00 354.60,292.00 355.20,292.51 355.80,293.35 356.40,293.34 357.00,292.68 357.60,292.64 358.20,292.51 358.80,290.89 359.40,291.10 360.00,292.23 360.60,292.74 361.20,292.35 361.80,292.35 362.40,291.29 363.00,292.93 363.60,292.72 364.20,291.44 364.80,291.15 365.40,292.20 366.00,291.53 366.60,292.54 367.20,291.99 367.80,291.04 368.40,291.95 369.00,292.56 369.60,289.72 370.20,291.98 370.80,291.70 371.40,291.30 372.00,291.23 372.60,291.00 373.20,290.65 373.80,290.77 374.40,291.02 375.00,291.26 375.60,292.91 376.20,291.73 376.80,291.16 377.40,291.92 378.00,291.11 378.60,290.68 379.20,289.81 379.80,290.48 380.40,290.24 381.00,289.76 381.60,290.02 382.20,290.47 382.50,289.26 382.62,288.78 382.74,288.29 382.80,288.05 382.86,288.33 382.98,288.90 383.10,289.47 383.22,290.03 383.34,290.60 383.40,290.88 383.46,291.17 383.58,291.20 383.70,290.98 383.82,290.75 383.94,290.53 384.00,290.41 384.06,290.30 384.18,290.07 384.30,290.04 384.42,290.05 384.54,290.06 384.60,290.06 384.66,290.06 384.78,290.07 384.90,290.07 385.02,290.09 385.14,290.10 385.20,290.11 385.26,290.11 385.38,290.13 385.50,290.14 385.62,290.13 385.74,289.99 385.80,289.93 385.86,289.86 385.98,289.73 386.10,289.59 386.22,289.46 386.34,289.43 386.40,289.53 386.46,289.62 386.58,289.81 386.70,290.00 386.82,290.18 386.94,290.37 387.00,290.46 387.06,290.49 387.18,290.54 387.30,290.60 387.42,290.65 387.54,290.70 387.60,290.73 387.66,290.75 387.78,290.60 387.90,290.33 388.02,290.07 388.14,289.80 388.20,289.67 388.26,289.54 388.38,289.27 388.50,289.29 388.62,289.36 388.74,289.43 388.80,289.46 388.86,289.50 388.98,289.56 389.10,289.63 389.22,289.73 389.34,289.83 389.40,289.88 389.46,289.93 389.58,290.03 389.70,290.12 389.82,290.16 389.94,289.92 390.00,289.79 390.06,289.67 390.18,289.42 390.30,289.18 390.42,288.93 390.54,288.69 390.60,288.59 390.66,288.48 390.78,288.27 390.90,288.06 391.02,287.85 391.14,287.64 391.20,287.53 391.26,287.60 391.38,287.75 391.50,287.89 391.62,288.03 391.74,288.17 391.80,288.24 391.86,288.31 391.98,288.19 392.10,287.94 392.22,287.68 392.34,287.42 392.40,287.29 392.46,287.16 392.58,286.90 392.70,286.73 392.82,286.58 392.94,286.43 393.00,286.35 393.06,286.27 393.18,286.12 393.30,285.96 393.42,285.66 393.54,285.37 393.60,285.22 393.66,285.07 393.78,284.78 393.90,284.49 394.02,284.26 394.14,284.36 394.20,284.40 394.26,284.44 394.38,284.52 394.50,284.59 394.62,284.64 394.74,284.58 394.80,284.44 394.86,284.30 394.98,284.02 395.10,283.74 395.22,283.46 395.34,283.18 395.40,283.04 395.46,283.02 395.58,282.96 395.70,282.90 395.82,282.83 395.94,282.74 396.00,282.69 396.06,282.64 396.18,282.31 396.30,281.88 396.42,281.45 396.54,281.04 396.60,280.84 396.66,280.64" fill="none" stroke="#000" stroke-width="2.0" stroke-linejoin="round" stroke-linecap="round" />
<polyline points="396.66,280.64 396.78,280.25 396.90,280.07 397.02,279.92 397.14,279.75 397.20,279.67 397.26,279.58 397.38,279.38 397.50,279.18 397.62,279.03 397.74,278.86 397.80,278.75 397.86,278.64 397.98,278.39 398.10,278.10 398.22,277.76 398.34,277.36 398.40,277.17 398.46,276.99 398.58,276.61 398.70,276.21 398.82,275.80 398.94,275.37 399.00,275.14 399.06,274.91 399.18,274.43 399.30,273.94 399.42,273.43 399.54,272.91 399.60,272.64 399.66,272.37 399.78,271.83 399.90,271.27 400.02,270.69 400.14,270.09 400.20,269.78 400.26,269.47 400.38,268.80 400.50,268.09 400.62,267.37 400.74,266.61 400.80,266.22 400.86,265.83 400.98,265.02 401.10,264.26 401.22,263.47 401.34,262.66 401.40,262.24 401.46,261.82 401.58,260.94 401.70,260.03 401.82,259.02 401.94,257.98 402.00,257.44 402.06,256.89 402.18,255.77 402.30,254.61 402.42,253.40 402.54,252.13 402.60,251.48 402.66,250.81 402.78,249.45 402.90,248.04 403.02,246.59 403.14,245.10 403.20,244.35 403.26,243.59 403.38,242.04 403.50,240.44 403.62,238.78 403.74,237.08 403.80,236.20 403.86,235.33 403.98,233.53 404.10,231.69 404.22,229.80 404.34,227.86 404.40,226.88 404.46,225.88 404.58,223.84 404.70,221.76 404.82,219.64 404.94,217.50 405.00,216.42 405.06,215.33 405.18,213.16 405.30,211.00 405.42,208.86 405.54,206.73 405.60,205.67 405.66,204.62 405.78,202.56 405.90,200.55 406.02,198.58 406.14,196.69 406.20,195.78 406.26,194.90 406.38,193.22 406.50,191.65 406.62,190.23 406.74,188.97 406.80,188.39 406.86,187.86 406.98,186.94 407.10,186.19 407.22,185.64 407.34,185.66 407.40,185.85" fill="none" stroke="#000" stroke-width="1.45" stroke-linejoin="round" stroke-linecap="round" />
<polyline points="407.40,185.85 407.46,185.91 407.58,185.73 407.70,185.51 407.82,185.51" fill="none" stroke="#000" stroke-width="2.0" stroke-linejoin="round" stroke-linecap="round" />
<polyline points="407.82,185.51 407.94,185.79 408.00,186.01 408.06,186.26 408.18,186.84 408.30,187.52 408.42,188.30 408.54,189.17 408.60,189.64 408.66,190.13 408.78,191.15 408.90,192.24 409.02,193.40 409.14,194.63 409.20,195.26 409.26,195.91 409.38,197.25 409.50,198.69 409.62,200.17 409.74,201.70 409.80,202.47 409.86,203.25 409.98,204.83 410.10,206.43 410.22,208.00 410.34,209.58 410.40,210.38 410.46,211.17 410.58,212.76 410.70,214.36 410.82,215.94 410.94,217.52 411.00,218.30 411.06,219.09 411.18,220.64 411.30,222.18 411.42,223.70 411.54,225.22 411.60,225.99 411.66,226.75 411.78,228.26 411.90,229.75 412.02,231.22 412.14,232.65 412.20,233.36 412.26,234.05 412.38,235.40 412.50,236.73 412.62,238.03 412.74,239.30 412.80,239.92 412.86,240.54 412.98,241.75 413.10,242.94 413.22,244.10 413.34,245.23 413.40,245.79 413.46,246.34 413.58,247.41 413.70,248.48 413.82,249.53 413.94,250.55 414.00,251.06 414.06,251.55 414.18,252.52 414.30,253.47 414.42,254.38 414.54,255.27 414.60,255.70 414.66,256.13 414.78,256.98 414.90,257.80 415.02,258.59 415.14,259.32 415.20,259.68 415.26,260.04 415.38,260.74 415.50,261.41 415.62,262.07 415.74,262.74 415.80,263.08 415.86,263.43 415.98,264.10 416.10,264.76 416.22,265.40 416.34,266.02 416.40,266.33 416.46,266.62 416.58,267.20 416.70,267.76 416.82,268.31 416.94,268.84 417.00,269.10 417.06,269.36 417.18,269.86 417.30,270.35 417.42,270.82 417.54,271.28 417.60,271.50 417.66,271.73 417.78,272.17 417.90,272.61 418.02,273.04 418.14,273.46 418.20,273.66 418.26,273.87 418.38,274.27 418.50,274.66 418.62,275.05 418.74,275.43 418.80,275.61 418.86,275.80 418.98,276.18 419.10,276.55 419.22,276.91 419.34,277.23 419.40,277.38 419.46,277.53 419.58,277.82 419.70,278.10 419.82,278.37 419.94,278.64 420.00,278.77 420.06,278.91 420.18,279.17 420.30,279.42 420.42,279.67 420.54,279.91 420.60,280.02 420.66,280.12 420.78,280.31 420.90,280.48" fill="none" stroke="#000" stroke-width="1.45" stroke-linejoin="round" stroke-linecap="round" />
<polyline points="420.90,280.48 421.02,280.65 421.14,280.81 421.20,280.89 421.26,280.96 421.38,281.22 421.50,281.54 421.62,281.86 421.74,282.18 421.80,282.35 421.86,282.51 421.98,282.83 422.10,283.05 422.22,283.24 422.34,283.42 422.40,283.51 422.46,283.60 422.58,283.78 422.70,283.96 422.82,284.16 422.94,284.37 423.00,284.47 423.06,284.57 423.18,284.77 423.30,284.97 423.42,285.14 423.54,285.19 423.60,285.21 423.66,285.23 423.78,285.27 423.90,285.30 424.02,285.33 424.14,285.37 424.20,285.40 424.26,285.44 424.38,285.51 424.50,285.57 424.62,285.63 424.74,285.69 424.80,285.72 424.86,285.92 424.98,286.32 425.10,286.72 425.22,287.12 425.34,287.53 425.40,287.73 425.46,287.94 425.58,287.98 425.70,287.84 425.82,287.69 425.94,287.53 426.00,287.45 426.06,287.37 426.18,287.21 426.30,287.36 426.42,287.58 426.54,287.80 426.60,287.91 426.66,288.02 426.78,288.23 426.90,288.45 427.02,288.27 427.14,288.08 427.20,287.99 427.26,287.90 427.38,287.71 427.50,287.52 427.62,287.44 427.74,287.90 427.80,288.12 427.86,288.35 427.98,288.80 428.10,289.25 428.22,289.70 428.34,289.83 428.40,289.59 428.46,289.35 428.58,288.86 428.70,288.37 428.82,287.87 428.94,287.38 429.00,287.13 429.06,287.40 429.18,287.93 429.30,288.46 429.42,288.99 429.54,289.51 429.60,289.77 429.66,290.03 429.78,290.38 429.90,290.64 430.02,290.89 430.14,291.15 430.20,291.27 430.26,291.40 430.38,291.65 430.50,291.55 430.62,291.38 430.74,291.21 430.80,291.13 430.86,291.04 430.98,290.87 431.10,290.69 431.22,290.63 431.34,290.57 431.40,290.54 431.46,290.51 431.58,290.45 431.70,290.39 431.82,290.31 431.94,290.18 432.00,290.12 432.06,290.05 432.18,289.92 432.30,289.79 432.42,289.65 432.60,289.64 433.20,290.07 433.80,290.79 434.40,289.08 435.00,288.80 435.60,289.83 436.20,290.32 436.80,289.38 437.40,290.23 438.00,289.71 438.60,288.60 439.20,288.37 439.80,288.90 440.40,288.97 441.00,287.82 441.60,287.78 442.20,287.93 442.80,287.17 443.40,286.84 444.00,286.98 444.60,286.98 445.20,286.43 445.80,286.39 446.40,286.68 447.00,287.28 447.60,286.09 448.20,285.19 448.80,286.13 449.40,287.75 450.00,286.34 450.60,283.37 451.20,284.36 451.80,283.63 452.40,283.93 453.00,285.18 453.60,284.08 454.20,284.42 454.80,285.72 455.40,284.57 456.00,283.46 456.60,283.68 457.20,284.66 457.80,284.92 458.40,284.85 459.00,285.04 459.60,283.81 460.20,283.72 460.80,283.27 461.40,282.59 462.00,283.43 462.60,283.21 463.20,284.42 463.80,283.76 464.40,283.07 465.00,282.41 465.50,281.93" fill="none" stroke="#000" stroke-width="2.0" stroke-linejoin="round" stroke-linecap="round" />
<polyline points="340.60,302.92 341.20,302.54 341.80,302.91 342.40,303.64 343.00,301.89 343.60,303.08 344.20,302.99 344.80,302.50 345.40,302.30 346.00,301.69 346.60,301.25 347.20,302.01 347.80,302.76 348.40,302.79 349.00,302.80 349.60,302.76 350.20,302.14 350.80,302.39 351.40,302.10 352.00,301.48 352.60,301.67 353.20,301.83 353.80,301.90 354.40,302.45 355.00,301.71 355.60,300.49 356.20,301.65 356.80,301.53 357.40,301.25 358.00,301.17 358.60,300.43 359.20,301.66 359.80,302.18 360.40,301.12 361.00,300.54 361.60,301.80 362.20,302.87 362.80,301.11 363.40,301.22 364.00,299.68 364.60,300.30 365.20,300.75 365.80,300.64 366.40,300.41 367.00,300.47 367.60,300.58 368.20,300.85 368.80,301.19 369.40,300.28 370.00,298.84 370.60,298.33 371.20,299.47 371.80,300.39 372.40,299.62 373.00,299.13 373.60,298.46 374.20,298.86 374.80,300.03 375.40,300.34 376.00,300.54 376.60,300.27 377.20,299.18 377.80,299.95 378.40,300.06 379.00,298.65 379.60,297.93 380.20,299.04 380.80,299.68 381.40,298.96 382.00,298.60 382.60,298.68 383.20,299.08 383.80,299.40 384.40,297.35 384.50,297.60 384.62,297.91 384.74,298.22 384.86,298.52 384.98,298.83 385.00,298.88 385.10,299.13 385.22,298.69 385.34,298.25 385.46,297.81 385.58,297.37 385.60,297.29 385.70,296.93 385.82,296.58 385.94,296.71 386.06,296.85 386.18,296.98 386.20,297.00 386.30,297.11 386.42,297.24 386.54,297.37 386.66,297.49 386.78,297.61 386.80,297.63 386.90,297.73 387.02,297.85 387.14,297.96 387.26,298.06 387.38,298.15 387.40,298.16 387.50,298.23 387.62,298.31 387.74,298.39 387.86,298.47 387.98,298.27 388.00,298.22 388.10,297.93 388.22,297.59 388.34,297.25 388.46,296.91 388.58,296.57 388.60,296.51 388.70,296.74 388.82,297.02 388.94,297.29 389.06,297.57 389.18,297.84 389.20,297.89 389.30,298.11 389.42,298.11 389.54,298.10 389.66,298.10 389.78,298.09 389.80,298.09 389.90,298.09 390.02,298.04 390.14,297.77 390.26,297.51 390.38,297.25 390.40,297.21 390.50,296.99 390.62,296.72 390.74,296.54 390.86,296.52 390.98,296.50 391.00,296.49 391.10,296.48 391.22,296.45 391.34,296.43 391.46,296.40 391.58,296.37 391.60,296.37 391.70,296.34 391.82,296.31 391.94,296.27 392.06,296.24 392.18,296.04 392.20,295.99 392.30,295.75 392.42,295.47 392.54,295.18 392.66,294.89 392.78,294.61 392.80,294.56 392.90,295.01 393.02,295.54 393.14,296.08 393.26,296.61 393.38,297.14 393.40,297.23 393.50,297.68 393.62,297.35 393.74,297.03 393.86,296.70 393.98,296.37 394.00,296.31 394.10,296.04 394.22,295.71 394.34,295.39 394.46,295.07 394.58,294.75 394.60,294.70 394.70,294.43 394.82,294.10 394.94,293.90 395.06,293.93 395.18,293.97 395.20,293.97 395.30,294.00 395.42,294.03 395.54,294.05 395.66,294.09 395.78,294.13 395.80,294.13 395.90,294.16 396.02,294.19 396.14,294.23 396.26,294.25 396.38,294.13 396.40,294.10 396.50,293.94 396.62,293.75 396.74,293.56 396.86,293.36 396.98,293.17 397.00,293.13 397.10,293.07 397.22,292.99 397.34,292.90 397.46,292.82 397.58,292.72 397.60,292.71 397.70,292.63 397.82,292.58 397.94,292.53 398.06,292.47 398.18,292.40 398.20,292.39 398.30,292.33 398.42,292.21 398.54,291.89 398.66,291.56 398.78,291.24 398.80,291.19 398.90,290.92 399.02,290.60 399.14,290.32 399.26,290.09 399.38,289.86 399.40,289.82 399.50,289.62 399.62,289.39 399.74,289.15 399.86,288.96 399.98,288.82 400.00,288.79 400.10,288.66" fill="none" stroke="#000" stroke-width="2.0" stroke-linejoin="round" stroke-linecap="round" />
<polyline points="400.10,288.66 400.22,288.50 400.34,288.31 400.46,288.11 400.58,287.80 400.60,287.74 400.70,287.44 400.82,287.09 400.94,286.74 401.06,286.40 401.18,286.06 401.20,286.01 401.30,285.79 401.42,285.50 401.54,285.19 401.66,284.83 401.78,284.46 401.80,284.40 401.90,284.07 402.02,283.68 402.14,283.27 402.26,282.85 402.38,282.41 402.40,282.33 402.50,281.95 402.62,281.46 402.74,280.88 402.86,280.28 402.98,279.66 403.00,279.55 403.10,279.01 403.22,278.34 403.34,277.67 403.46,277.02 403.58,276.33 403.60,276.21 403.70,275.62 403.82,274.87 403.94,274.09 404.06,273.28 404.18,272.44 404.20,272.30 404.30,271.56 404.42,270.64 404.54,269.68 404.66,268.68 404.78,267.61 404.80,267.42 404.90,266.48 405.02,265.30 405.14,264.08 405.26,262.79 405.38,261.45 405.40,261.22 405.50,260.06 405.62,258.61 405.74,257.10 405.86,255.52 405.98,253.88 406.00,253.60 406.10,252.17 406.22,250.38 406.34,248.52 406.46,246.59 406.58,244.60 406.60,244.26 406.70,242.54 406.82,240.42 406.94,238.25 407.06,236.02 407.18,233.74 407.20,233.36 407.30,231.42 407.42,229.06 407.54,226.68 407.66,224.30 407.78,221.91 407.80,221.51 407.90,219.54 408.02,217.21 408.14,214.94 408.26,212.74 408.38,210.65 408.40,210.31 408.50,208.68 408.62,206.86 408.74,205.21 408.86,203.75 408.98,202.51 409.00,202.33 409.10,201.51 409.22,200.76 409.34,200.27 409.46,200.33" fill="none" stroke="#000" stroke-width="1.45" stroke-linejoin="round" stroke-linecap="round" />
<polyline points="409.46,200.33 409.58,200.44 409.60,200.44 409.70,200.39" fill="none" stroke="#000" stroke-width="2.0" stroke-linejoin="round" stroke-linecap="round" />
<polyline points="409.70,200.39 409.82,200.73 409.94,201.34 410.06,202.14 410.18,203.10 410.20,203.28 410.30,204.23 410.42,205.48 410.54,206.86 410.66,208.37 410.78,209.98 410.80,210.26 410.90,211.69 411.02,213.49 411.14,215.39 411.26,217.33 411.38,219.32 411.40,219.66 411.50,221.33 411.62,223.36 411.74,225.37 411.86,227.34 411.98,229.29 412.00,229.62 412.10,231.23 412.22,233.14 412.34,235.02 412.46,236.88 412.58,238.72 412.60,239.03 412.70,240.53 412.82,242.29 412.94,244.00 413.06,245.67 413.18,247.28 413.20,247.55 413.30,248.86 413.42,250.38 413.54,251.86 413.66,253.28 413.78,254.66 413.80,254.89 413.90,256.02 414.02,257.34 414.14,258.61 414.26,259.83 414.38,261.02 414.40,261.21 414.50,262.16 414.62,263.21 414.74,264.21 414.86,265.18 414.98,266.12 415.00,266.27 415.10,267.02 415.22,267.89 415.34,268.76 415.46,269.59 415.58,270.40 415.60,270.53 415.70,271.17 415.82,271.92 415.94,272.64 416.06,273.32 416.18,273.98 416.20,274.08 416.30,274.61 416.42,275.22 416.54,275.81 416.66,276.37 416.78,276.91 416.80,277.00 416.90,277.44 417.02,277.94 417.14,278.43 417.26,278.89 417.38,279.35 417.40,279.43 417.50,279.80 417.62,280.23 417.74,280.65 417.86,281.05 417.98,281.44 418.00,281.50 418.10,281.83 418.22,282.20 418.34,282.57 418.46,282.93 418.58,283.30 418.60,283.36 418.70,283.67 418.82,284.00 418.94,284.32 419.06,284.63 419.18,284.93 419.20,284.98 419.30,285.23 419.42,285.51 419.54,285.71 419.66,285.90 419.78,286.07" fill="none" stroke="#000" stroke-width="1.45" stroke-linejoin="round" stroke-linecap="round" />
<polyline points="419.78,286.07 419.80,286.10 419.90,286.23 420.02,286.38 420.14,286.59 420.26,286.95 420.38,287.32 420.40,287.38 420.50,287.69 420.62,288.06 420.74,288.44 420.86,288.66 420.98,288.72 421.00,288.73 421.10,288.77 421.22,288.81 421.34,288.83 421.46,288.84 421.58,289.00 421.60,289.03 421.70,289.22 421.82,289.44 421.94,289.66 422.06,289.88 422.18,290.10 422.20,290.13 422.30,290.21 422.42,290.29 422.54,290.37 422.66,290.44 422.78,290.51 422.80,290.52 422.90,290.58 423.02,290.76 423.14,290.94 423.26,291.11 423.38,291.29 423.40,291.31 423.50,291.46 423.62,291.57 423.74,291.39 423.86,291.21 423.98,291.02 424.00,290.99 424.10,290.84 424.22,290.65 424.34,290.66 424.46,291.07 424.58,291.48 424.60,291.55 424.70,291.89 424.82,292.30 424.94,292.71 425.06,292.84 425.18,292.71 425.20,292.68 425.30,292.57 425.42,292.42 425.54,292.28 425.66,292.14 425.78,292.22 425.80,292.25 425.90,292.41 426.02,292.60 426.14,292.79 426.26,292.98 426.38,293.17 426.40,293.20 426.50,293.29 426.62,293.39 426.74,293.49 426.86,293.59 426.98,293.69 427.00,293.71 427.10,293.79 427.22,293.76 427.34,293.74 427.46,293.71 427.58,293.68 427.60,293.68 427.70,293.65 427.82,293.60 427.94,293.40 428.06,293.21 428.18,293.01 428.20,292.98 428.30,292.82 428.42,292.62 428.54,292.53 428.66,292.67 428.78,292.80 428.80,292.82 428.90,292.93 429.02,293.06 429.14,293.18 429.26,293.23 429.38,293.19 429.40,293.19 429.50,293.15 429.62,293.11 429.74,293.07 429.86,293.03 429.98,293.08 430.00,293.10 430.10,293.17 430.22,293.26 430.34,293.35 430.46,293.43 430.58,293.52 430.60,293.53 430.70,293.48 430.82,293.41 430.94,293.33 431.06,293.26 431.18,293.19 431.20,293.18 431.30,293.12 431.42,293.44 431.54,293.76 431.66,294.08 431.78,294.40 431.80,294.45 431.90,294.71 432.02,294.92 432.14,294.60 432.26,294.28 432.38,293.96 432.40,293.91 432.50,293.64 432.62,293.32 432.74,293.11 432.86,293.14 432.98,293.17 433.00,293.18 433.10,293.20 433.22,293.23 433.34,293.26 433.46,293.34 433.58,293.47 433.60,293.49 433.70,293.59 433.82,293.72 433.94,293.84 434.06,293.97 434.18,294.04 434.20,294.05 434.30,294.09 434.42,294.14 434.80,294.29 435.40,294.08 436.00,293.60 436.60,293.72 437.20,293.88 437.80,293.55 438.40,293.11 439.00,294.10 439.60,292.46 440.20,292.76 440.80,292.89 441.40,292.85 442.00,292.96 442.60,292.95 443.20,291.98 443.80,292.05 444.40,291.51 445.00,292.18 445.60,292.14 446.20,291.39 446.80,291.82 447.40,291.42 448.00,289.71 448.60,290.79 449.20,290.71 449.80,290.45 450.40,290.74 451.00,290.75 451.60,290.89 452.20,289.10 452.80,289.18 453.40,289.90 454.00,290.16 454.60,289.87 455.20,289.83 455.80,290.71 456.40,289.49 457.00,289.85 457.60,289.64 458.20,288.95 458.80,288.83 459.40,289.51 460.00,288.11 460.60,288.34 461.20,288.70 461.80,288.83 462.40,288.38 463.00,287.82 463.60,288.11 464.20,289.08 464.80,288.43 465.40,288.35 466.00,287.80 466.60,287.98 467.20,288.90 467.60,289.12" fill="none" stroke="#000" stroke-width="2.0" stroke-linejoin="round" stroke-linecap="round" />
<polyline points="341.40,309.43 342.00,310.51 342.60,311.06 343.20,309.06 343.80,310.29 344.40,309.86 345.00,309.68 345.60,309.68 346.20,309.57 346.80,309.67 347.40,311.01 348.00,309.54 348.60,309.41 349.20,308.75 349.80,308.29 350.40,308.79 351.00,309.80 351.60,309.74 352.20,308.51 352.80,309.61 353.40,309.80 354.00,309.18 354.60,308.75 355.20,308.90 355.80,309.02 356.40,308.47 357.00,308.45 357.60,308.48 358.20,308.44 358.80,308.58 359.40,308.99 360.00,308.62 360.60,307.34 361.20,307.81 361.80,307.59 362.40,307.54 363.00,308.01 363.60,307.87 364.20,306.66 364.80,308.00 365.40,308.56 366.00,307.34 366.60,305.82 367.20,305.63 367.80,306.87 368.40,307.00 369.00,306.13 369.60,306.57 370.20,306.18 370.80,305.68 371.40,305.85 372.00,306.54 372.60,307.72 373.20,305.91 373.80,305.32 374.40,305.35 375.00,305.71 375.60,305.66 376.20,304.41 376.80,302.66 377.40,303.74 378.00,303.13 378.60,303.06 379.20,302.49 379.80,301.93 380.40,303.41 381.00,305.45 381.60,304.27 382.20,303.74 382.80,302.93 383.40,302.63 384.00,303.06 384.60,303.31 385.20,302.88 385.80,302.79 386.40,303.62 386.50,303.79 386.62,303.95 386.74,303.90 386.86,303.85 386.98,303.80 387.00,303.79 387.10,303.75 387.22,303.69 387.34,303.62 387.46,303.49 387.58,303.37 387.60,303.35 387.70,303.25 387.82,303.12 387.94,303.00 388.06,302.79 388.18,302.51 388.20,302.47 388.30,302.23 388.42,301.95 388.54,301.67 388.66,301.39 388.78,301.42 388.80,301.45 388.90,301.60 389.02,301.79 389.14,301.97 389.26,302.15 389.38,302.34 389.40,302.37 389.50,302.22 389.62,302.05 389.74,301.88 389.86,301.70 389.98,301.53 390.00,301.50 390.10,301.35 390.22,301.16 390.34,300.97 390.46,300.78 390.58,300.59 390.60,300.56 390.70,300.40 390.82,300.29 390.94,300.54 391.06,300.80 391.18,301.05 391.20,301.10 391.30,301.31 391.42,301.56 391.54,301.74 391.66,301.78 391.78,301.81 391.80,301.81 391.90,301.84 392.02,301.87 392.14,301.91 392.26,301.95 392.38,302.00 392.40,302.01 392.50,302.05 392.62,302.10 392.74,302.15 392.86,302.20 392.98,301.92 393.00,301.85 393.10,301.48 393.22,301.04 393.34,300.59 393.46,300.15 393.58,299.70 393.60,299.63 393.70,299.75 393.82,299.89 393.94,300.04 394.06,300.18 394.18,300.33 394.20,300.35 394.30,300.47 394.42,300.47 394.54,300.47 394.66,300.47 394.78,300.46 394.80,300.46 394.90,300.46 395.02,300.46 395.14,300.49 395.26,300.51 395.38,300.54 395.40,300.54 395.50,300.56 395.62,300.58 395.74,300.50 395.86,300.18 395.98,299.86 396.00,299.81 396.10,299.54 396.22,299.22 396.34,298.91 396.46,298.95 396.58,299.37 396.60,299.44 396.70,299.78 396.82,300.20 396.94,300.61 397.06,301.02 397.18,300.99 397.20,300.95 397.30,300.74 397.42,300.49 397.54,300.23 397.66,299.98 397.78,299.72 397.80,299.68 397.90,299.71 398.02,299.75 398.14,299.78 398.26,299.81 398.38,299.85 398.40,299.85 398.50,299.88 398.62,299.60 398.74,299.32 398.86,299.04 398.98,298.76 399.00,298.71 399.10,298.48 399.22,298.26 399.34,298.40 399.46,298.53 399.58,298.66 399.60,298.68 399.70,298.79 399.82,298.91 399.94,298.93 400.06,298.72 400.18,298.52 400.20,298.48 400.30,298.31 400.42,298.10 400.54,297.89 400.66,297.58 400.78,297.17 400.80,297.11 400.90,296.77 401.02,296.37 401.14,295.98 401.26,295.59 401.38,295.53 401.40,295.55 401.50,295.63 401.62,295.72 401.74,295.80 401.86,295.86 401.98,295.91 402.00,295.91 402.10,295.74 402.22,295.54 402.34,295.32 402.46,295.11 402.58,294.89 402.60,294.85 402.70,294.66 402.82,294.45 402.94,294.23 403.06,294.01 403.18,293.78 403.20,293.74 403.30,293.54" fill="none" stroke="#000" stroke-width="2.0" stroke-linejoin="round" stroke-linecap="round" />
<polyline points="403.30,293.54 403.42,293.32 403.54,293.20 403.66,293.05 403.78,292.87 403.80,292.84 403.90,292.66 404.02,292.41 404.14,292.10 404.26,291.71 404.38,291.31 404.40,291.24 404.50,290.91 404.62,290.52 404.74,290.12 404.86,289.71 404.98,289.28 405.00,289.21 405.10,288.83 405.22,288.36 405.34,287.88 405.46,287.37 405.58,286.83 405.60,286.74 405.70,286.27 405.82,285.68 405.94,285.06 406.06,284.42 406.18,283.74 406.20,283.63 406.30,283.07 406.42,282.37 406.54,281.64 406.66,280.87 406.78,280.05 406.80,279.91 406.90,279.20 407.02,278.23 407.14,277.21 407.26,276.15 407.38,275.03 407.40,274.84 407.50,273.85 407.62,272.63 407.74,271.39 407.86,270.09 407.98,268.72 408.00,268.48 408.10,267.28 408.22,265.77 408.34,264.17 408.46,262.48 408.58,260.71 408.60,260.41 408.70,258.86 408.82,256.93 408.94,254.92 409.06,252.85 409.18,250.72 409.20,250.36 409.30,248.52 409.42,246.25 409.54,243.93 409.66,241.57 409.78,239.15 409.80,238.74 409.90,236.70 410.02,234.26 410.14,231.84 410.26,229.48 410.38,227.19 410.40,226.82 410.50,224.98 410.62,222.90 410.74,221.00 410.86,219.29 410.98,217.82 411.00,217.60 411.10,216.61 411.22,215.73 411.34,215.15 411.46,213.82" fill="none" stroke="#000" stroke-width="1.45" stroke-linejoin="round" stroke-linecap="round" />
<polyline points="411.46,213.82 411.58,214.04 411.60,214.24 411.70,215.20" fill="none" stroke="#000" stroke-width="2.0" stroke-linejoin="round" stroke-linecap="round" />
<polyline points="411.70,215.20 411.82,215.71 411.94,216.43 412.06,217.37 412.18,218.50 412.20,218.71 412.30,219.82 412.42,221.29 412.54,222.89 412.66,224.59 412.78,226.39 412.80,226.70 412.90,228.28 413.02,230.22 413.14,232.21 413.26,234.25 413.38,236.33 413.40,236.67 413.50,238.40 413.62,240.46 413.74,242.50 413.86,244.52 413.98,246.47 414.00,246.79 414.10,248.37 414.22,250.21 414.34,252.01 414.46,253.76 414.58,255.45 414.60,255.73 414.70,257.10 414.82,258.71 414.94,260.25 415.06,261.74 415.18,263.17 415.20,263.40 415.30,264.54 415.42,265.87 415.54,267.14 415.66,268.35 415.78,269.52 415.80,269.71 415.90,270.64 416.02,271.72 416.14,272.73 416.26,273.70 416.38,274.63 416.40,274.78 416.50,275.53 416.62,276.38 416.74,277.21 416.86,278.01 416.98,278.79 417.00,278.92 417.10,279.54 417.22,280.25 417.34,280.94 417.46,281.58 417.58,282.18 417.60,282.28 417.70,282.76 417.82,283.31 417.94,283.84 418.06,284.35 418.18,284.85 418.20,284.93 418.30,285.33 418.42,285.80 418.54,286.25 418.66,286.68 418.78,287.09 418.80,287.16 418.90,287.49 419.02,287.86 419.14,288.21 419.26,288.52 419.38,288.81 419.40,288.85 419.50,289.08 419.62,289.42 419.74,289.78 419.86,290.15 419.98,290.52 420.00,290.58 420.10,290.90 420.22,291.27 420.34,291.55 420.46,291.81 420.58,292.07" fill="none" stroke="#000" stroke-width="1.45" stroke-linejoin="round" stroke-linecap="round" />
<polyline points="420.58,292.07 420.60,292.11 420.70,292.32 420.82,292.57 420.94,292.81 421.06,293.05 421.18,293.29 421.20,293.33 421.30,293.53 421.42,293.76 421.54,293.98 421.66,294.12 421.78,294.18 421.80,294.19 421.90,294.22 422.02,294.26 422.14,294.28 422.26,294.29 422.38,294.37 422.40,294.39 422.50,294.48 422.62,294.59 422.74,294.69 422.86,294.79 422.98,294.88 423.00,294.90 423.10,295.13 423.22,295.41 423.34,295.68 423.46,295.96 423.58,296.24 423.60,296.29 423.70,296.52 423.82,296.47 423.94,296.41 424.06,296.35 424.18,296.29 424.20,296.27 424.30,296.22 424.42,296.16 424.54,296.20 424.66,296.24 424.78,296.27 424.80,296.28 424.90,296.31 425.02,296.34 425.14,296.41 425.26,296.58 425.38,296.75 425.40,296.78 425.50,296.92 425.62,297.09 425.74,297.25 425.86,297.29 425.98,297.19 426.00,297.17 426.10,297.08 426.22,296.98 426.34,296.88 426.46,296.77 426.58,296.88 426.60,296.91 426.70,297.09 426.82,297.30 426.94,297.50 427.06,297.71 427.18,297.91 427.20,297.95 427.30,297.97 427.42,297.98 427.54,298.00 427.66,298.02 427.78,298.03 427.80,298.04 427.90,298.05 428.02,298.07 428.14,298.09 428.26,298.12 428.38,298.14 428.40,298.14 428.50,298.16 428.62,298.18 428.74,298.20 428.86,298.22 428.98,298.23 429.00,298.24 429.10,298.25 429.22,298.27 429.34,298.26 429.46,298.20 429.58,298.14 429.60,298.13 429.70,298.07 429.82,298.01 429.94,297.95 430.06,297.96 430.18,298.06 430.20,298.08 430.30,298.16 430.42,298.26 430.54,298.35 430.66,298.45 430.78,298.50 430.80,298.50 430.90,298.52 431.02,298.54 431.14,298.57 431.26,298.59 431.38,298.61 431.40,298.62 431.50,298.76 431.62,298.93 431.74,299.10 431.86,299.27 431.98,299.44 432.00,299.47 432.10,299.61 432.22,299.27 432.34,298.93 432.46,298.59 432.58,298.25 432.60,298.19 432.70,297.90 432.82,297.67 432.94,297.95 433.06,298.23 433.18,298.50 433.20,298.55 433.30,298.78 433.42,299.06 433.54,299.30 433.66,299.45 433.78,299.60 433.80,299.63 433.90,299.75 434.02,299.91 434.14,300.06 434.26,299.95 434.38,299.57 434.40,299.51 434.50,299.20 434.62,298.83 434.74,298.45 434.86,298.08 434.98,298.15 435.00,298.20 435.10,298.46 435.22,298.76 435.34,299.06 435.46,299.37 435.58,299.67 435.60,299.72 435.70,299.52 435.82,299.27 435.94,299.03 436.06,298.79 436.18,298.54 436.20,298.50 436.30,298.30 436.42,298.37 436.80,298.60 437.40,298.38 438.00,298.69 438.60,299.29 439.20,298.82 439.80,298.35 440.40,297.86 441.00,298.62 441.60,299.06 442.20,298.43 442.80,297.59 443.40,297.87 444.00,297.95 444.60,297.48 445.20,297.25 445.80,297.94 446.40,297.90 447.00,296.68 447.60,295.77 448.20,296.29 448.80,296.00 449.40,296.64 450.00,296.60 450.60,296.09 451.20,295.64 451.80,295.61 452.40,296.53 453.00,296.51 453.60,295.54 454.20,295.45 454.80,295.43 455.40,295.34 456.00,295.95 456.60,295.99 457.20,294.54 457.80,294.68 458.40,295.43 459.00,295.19 459.60,294.45 460.20,295.01 460.80,295.77 461.40,294.64 462.00,293.77 462.60,293.11 463.20,292.68 463.80,292.88 464.40,293.99 465.00,294.94 465.60,293.23 466.20,293.75 466.80,293.74 467.40,293.05 468.00,292.76 468.60,293.36 469.20,292.38 469.70,293.07" fill="none" stroke="#000" stroke-width="2.0" stroke-linejoin="round" stroke-linecap="round" />
<polyline points="343.00,316.34 343.60,316.40 344.20,315.12 344.80,316.02 345.40,316.16 346.00,314.85 346.60,314.84 347.20,315.44 347.80,316.01 348.40,316.30 349.00,313.71 349.60,315.35 350.20,314.92 350.80,315.14 351.40,315.48 352.00,315.50 352.60,315.39 353.20,313.74 353.80,313.85 354.40,313.08 355.00,313.21 355.60,313.51 356.20,314.07 356.80,315.37 357.40,314.32 358.00,315.39 358.60,314.48 359.20,314.05 359.80,313.94 360.40,313.85 361.00,313.99 361.60,313.99 362.20,313.30 362.80,313.16 363.40,312.90 364.00,313.02 364.60,313.55 365.20,313.78 365.80,313.52 366.40,312.55 367.00,313.24 367.60,313.02 368.20,312.20 368.80,311.78 369.40,311.78 370.00,310.40 370.60,312.82 371.20,311.78 371.80,311.06 372.40,311.31 373.00,311.85 373.60,311.94 374.20,311.60 374.80,311.34 375.40,312.44 376.00,311.99 376.60,311.22 377.20,310.84 377.80,310.36 378.40,311.61 379.00,311.44 379.60,311.45 380.20,310.86 380.80,311.00 381.40,311.32 382.00,310.12 382.60,309.99 383.20,310.41 383.80,310.38 384.40,310.60 385.00,311.26 385.60,311.42 386.20,310.41 386.80,311.00 387.40,310.50 388.00,309.73 388.50,309.12 388.60,309.02 388.62,308.99 388.74,308.86 388.86,308.73 388.98,308.77 389.10,308.90 389.20,309.01 389.22,309.03 389.34,309.16 389.46,309.29 389.58,309.41 389.70,309.33 389.80,309.22 389.82,309.19 389.94,309.06 390.06,308.93 390.18,308.80 390.30,308.67 390.40,308.68 390.42,308.68 390.54,308.70 390.66,308.72 390.78,308.73 390.90,308.75 391.00,308.76 391.02,308.77 391.14,308.86 391.26,308.95 391.38,309.04 391.50,309.13 391.60,309.20 391.62,309.22 391.74,309.24 391.86,309.14 391.98,309.04 392.10,308.94 392.20,308.86 392.22,308.84 392.34,308.74 392.46,308.75 392.58,308.87 392.70,308.98 392.80,309.08 392.82,309.10 392.94,309.22 393.06,309.33 393.18,309.03 393.30,308.51 393.40,308.08 393.42,307.99 393.54,307.48 393.66,306.96 393.78,306.44 393.90,306.56 394.00,306.75 394.02,306.79 394.14,307.03 394.26,307.26 394.38,307.50 394.50,307.73 394.60,308.05 394.62,308.11 394.74,308.49 394.86,308.87 394.98,309.25 395.10,309.63 395.20,309.94 395.22,309.88 395.34,309.47 395.46,309.07 395.58,308.66 395.70,308.25 395.80,307.91 395.82,307.85 395.94,307.61 396.06,307.70 396.18,307.79 396.30,307.88 396.40,307.96 396.42,307.97 396.54,308.06 396.66,308.11 396.78,308.12 396.90,308.12 397.00,308.12 397.02,308.12 397.14,308.13 397.26,308.13 397.38,307.89 397.50,307.52 397.60,307.22 397.62,307.16 397.74,306.80 397.86,306.43 397.98,306.06 398.10,306.07 398.20,306.13 398.22,306.14 398.34,306.22 398.46,306.29 398.58,306.36 398.70,306.43 398.80,306.57 398.82,306.60 398.94,306.77 399.06,306.93 399.18,307.10 399.30,307.26 399.40,307.40 399.42,307.34 399.54,306.97 399.66,306.59 399.78,306.22 399.90,305.85 400.00,305.54 400.02,305.47 400.14,305.24 400.26,305.30 400.38,305.35 400.50,305.40 400.60,305.44 400.62,305.45 400.74,305.50 400.86,305.43 400.98,305.22 401.10,305.02 401.20,304.85 401.22,304.81 401.34,304.61 401.46,304.40 401.58,304.52 401.70,304.81 401.80,305.05 401.82,305.10 401.94,305.39 402.06,305.67 402.18,305.96 402.30,305.85 402.40,305.70 402.42,305.67 402.54,305.48 402.66,305.29 402.78,305.10 402.90,304.91 403.00,304.76 403.02,304.72 403.14,304.54 403.26,304.35 403.38,304.16 403.50,303.97 403.60,303.81 403.62,303.80 403.74,303.72 403.86,303.64 403.98,303.55 404.10,303.46 404.20,303.38 404.22,303.36 404.34,303.23 404.46,303.06 404.58,302.88 404.70,302.70 404.80,302.54 404.82,302.51 404.94,302.32 405.06,302.08 405.18,301.80 405.30,301.51 405.40,301.27 405.42,301.23 405.54,300.94 405.66,300.66 405.78,300.40 405.90,300.15" fill="none" stroke="#000" stroke-width="2.0" stroke-linejoin="round" stroke-linecap="round" />
<polyline points="405.90,300.15 406.00,299.94 406.02,299.90 406.14,299.64 406.26,299.38 406.38,299.11 406.50,298.88 406.60,298.67 406.62,298.63 406.74,298.36 406.86,298.07 406.98,297.75 407.10,297.40 407.20,297.09 407.22,297.03 407.34,296.64 407.46,296.22 407.58,295.79 407.70,295.34 407.80,294.95 407.82,294.86 407.94,294.34 408.06,293.80 408.18,293.23 408.30,292.63 408.40,292.10 408.42,292.00 408.54,291.35 408.66,290.68 408.78,289.98 408.90,289.24 409.00,288.59 409.02,288.46 409.14,287.64 409.26,286.77 409.38,285.84 409.50,284.87 409.60,284.02 409.62,283.84 409.74,282.76 409.86,281.61 409.98,280.41 410.10,279.14 410.20,278.03 410.22,277.80 410.34,276.39 410.46,274.90 410.58,273.34 410.70,271.71 410.80,270.28 410.82,269.99 410.94,268.19 411.06,266.32 411.18,264.36 411.30,262.33 411.40,260.56 411.42,260.21 411.54,258.02 411.66,255.77 411.78,253.49 411.90,251.16 412.00,249.22 412.02,248.84 412.14,246.56 412.26,244.30 412.38,242.11 412.50,240.01 412.60,238.35 412.62,238.03 412.74,236.19 412.86,234.50 412.98,233.04 413.10,231.84 413.20,231.05 413.22,230.92 413.34,230.30 413.46,229.90" fill="none" stroke="#000" stroke-width="1.45" stroke-linejoin="round" stroke-linecap="round" />
<polyline points="413.46,229.90 413.58,229.91 413.70,230.29" fill="none" stroke="#000" stroke-width="2.0" stroke-linejoin="round" stroke-linecap="round" />
<polyline points="413.70,230.29 413.80,230.67 413.82,230.77 413.94,231.47 414.06,232.38 414.18,233.47 414.30,234.74 414.40,235.91 414.42,236.16 414.54,237.71 414.66,239.37 414.78,241.12 414.90,242.98 415.00,244.56 415.02,244.89 415.14,246.83 415.26,248.79 415.38,250.75 415.50,252.71 415.60,254.30 415.62,254.61 415.74,256.48 415.86,258.32 415.98,260.11 416.10,261.86 416.20,263.27 416.22,263.55 416.34,265.20 416.46,266.80 416.58,268.34 416.70,269.82 416.80,271.01 416.82,271.24 416.94,272.61 417.06,273.91 417.18,275.15 417.30,276.34 417.40,277.30 417.42,277.48 417.54,278.57 417.66,279.61 417.78,280.60 417.90,281.55 418.00,282.31 418.02,282.46 418.14,283.32 418.26,284.15 418.38,284.95 418.50,285.72 418.60,286.34 418.62,286.46 418.74,287.17 418.86,287.85 418.98,288.50 419.10,289.10 419.20,289.59 419.22,289.68 419.34,290.24 419.46,290.77 419.58,291.28 419.70,291.77 419.80,292.14 419.82,292.22 419.94,292.65 420.06,293.07 420.18,293.46 420.30,293.84 420.40,294.15 420.42,294.21 420.54,294.55 420.66,294.87 420.78,295.18 420.90,295.48 421.00,295.72 421.02,295.77 421.14,296.05 421.26,296.34 421.38,296.63 421.50,296.91 421.60,297.14 421.62,297.19 421.74,297.46" fill="none" stroke="#000" stroke-width="1.45" stroke-linejoin="round" stroke-linecap="round" />
<polyline points="421.74,297.46 421.86,297.70 421.98,297.90 422.10,298.09 422.20,298.24 422.22,298.27 422.34,298.45 422.46,298.61 422.58,298.88 422.70,299.19 422.80,299.45 422.82,299.50 422.94,299.82 423.06,300.13 423.18,300.45 423.30,300.68 423.40,300.87 423.42,300.90 423.54,301.11 423.66,301.32 423.78,301.53 423.90,301.73 424.00,301.51 424.02,301.47 424.14,301.19 424.26,300.89 424.38,300.58 424.50,300.25 424.60,299.97 424.62,300.01 424.74,300.25 424.86,300.49 424.98,300.74 425.10,300.98 425.20,301.18 425.22,301.22 425.34,301.47 425.46,301.72 425.58,301.96 425.70,302.21 425.80,302.41 425.82,302.45 425.94,302.69 426.06,302.82 426.18,302.83 426.30,302.83 426.40,302.84 426.42,302.84 426.54,302.84 426.66,302.84 426.78,302.86 426.90,302.88 427.00,302.90 427.02,302.91 427.14,302.93 427.26,302.95 427.38,302.97 427.50,303.00 427.60,303.02 427.62,303.02 427.74,303.05 427.86,303.08 427.98,303.10 428.10,303.12 428.20,303.23 428.22,303.25 428.34,303.38 428.46,303.50 428.58,303.63 428.70,303.75 428.80,303.85 428.82,303.84 428.94,303.82 429.06,303.79 429.18,303.77 429.30,303.74 429.40,303.71 429.42,303.71 429.54,303.70 429.66,303.73 429.78,303.75 429.90,303.78 430.00,303.80 430.02,303.80 430.14,303.82 430.26,303.86 430.38,303.92 430.50,303.97 430.60,304.02 430.62,304.03 430.74,304.08 430.86,304.13 430.98,303.95 431.10,303.65 431.20,303.40 431.22,303.35 431.34,303.06 431.46,302.76 431.58,302.46 431.70,302.64 431.80,302.87 431.82,302.92 431.94,303.20 432.06,303.47 432.18,303.75 432.30,304.03 432.40,304.03 432.42,304.04 432.54,304.04 432.66,304.05 432.78,304.05 432.90,304.06 433.00,304.06 433.02,304.03 433.14,303.83 433.26,303.63 433.38,303.42 433.50,303.22 433.60,303.05 433.62,303.02 433.74,302.93 433.86,303.06 433.98,303.18 434.10,303.31 434.20,303.42 434.22,303.44 434.34,303.57 434.46,303.58 434.58,303.48 434.70,303.38 434.80,303.29 434.82,303.28 434.94,303.17 435.06,303.07 435.18,302.91 435.30,302.71 435.40,302.55 435.42,302.52 435.54,302.32 435.66,302.13 435.78,301.93 435.90,302.16 436.00,302.43 436.02,302.48 436.14,302.80 436.26,303.12 436.38,303.43 436.50,303.75 436.60,303.64 436.62,303.62 436.74,303.49 436.86,303.36 436.98,303.22 437.10,303.09 437.20,302.98 437.22,303.03 437.34,303.32 437.46,303.60 437.58,303.89 437.70,304.17 437.80,304.41 437.82,304.46 437.94,304.62 438.06,304.52 438.18,304.43 438.30,304.33 438.40,304.25 438.42,304.23 439.00,303.80 439.60,303.86 440.20,304.08 440.80,303.65 441.40,303.27 442.00,304.02 442.60,303.60 443.20,303.26 443.80,303.22 444.40,303.24 445.00,303.11 445.60,303.08 446.20,302.46 446.80,302.34 447.40,302.52 448.00,302.51 448.60,302.31 449.20,302.16 449.80,301.20 450.40,301.55 451.00,301.37 451.60,301.44 452.20,301.64 452.80,301.54 453.40,300.93 454.00,300.40 454.60,300.97 455.20,301.16 455.80,300.98 456.40,300.70 457.00,300.47 457.60,300.29 458.20,300.32 458.80,300.97 459.40,301.07 460.00,300.62 460.60,299.96 461.20,299.62 461.80,299.87 462.40,300.06 463.00,298.19 463.60,298.79 464.20,299.78 464.80,299.80 465.40,298.96 466.00,298.42 466.60,298.62 467.20,297.32 467.80,298.06 468.40,297.92 469.00,297.82 469.60,297.85 470.20,297.09 470.80,298.00 471.40,297.55 472.00,297.89" fill="none" stroke="#000" stroke-width="2.0" stroke-linejoin="round" stroke-linecap="round" />
<polyline points="344.60,327.36 345.20,326.87 345.80,326.54 346.40,327.15 347.00,326.94 347.60,326.66 348.20,326.55 348.80,326.47 349.40,326.41 350.00,326.47 350.60,326.36 351.20,325.90 351.80,325.60 352.40,325.63 353.00,325.57 353.60,325.49 354.20,325.79 354.80,326.05 355.40,325.77 356.00,325.38 356.60,325.35 357.20,325.47 357.80,325.45 358.40,325.21 359.00,325.04 359.60,325.50 360.20,324.98 360.80,324.69 361.40,324.81 362.00,325.01 362.60,324.87 363.20,324.12 363.80,324.61 364.40,324.41 365.00,323.85 365.60,323.73 366.20,324.01 366.80,323.98 367.40,323.81 368.00,324.02 368.60,323.64 369.20,323.48 369.80,323.09 370.40,322.60 371.00,322.60 371.60,322.22 372.20,323.32 372.80,323.38 373.40,322.93 374.00,323.13 374.60,323.60 375.20,323.05 375.80,322.44 376.40,322.57 377.00,322.54 377.60,322.36 378.20,322.51 378.80,322.84 379.40,322.71 380.00,322.05 380.60,322.12 381.20,322.03 381.80,321.78 382.40,321.42 383.00,321.12 383.60,321.08 384.20,321.51 384.80,321.36 385.40,320.71 386.00,320.82 386.60,321.06 387.20,320.92 387.80,320.57 388.40,320.01 389.00,319.15 389.60,320.32 390.20,320.55 390.80,320.05 391.40,319.51 392.00,319.15 392.60,319.43 393.00,319.97 393.12,320.14 393.20,320.25 393.24,320.30 393.36,320.36 393.48,320.32 393.60,320.27 393.72,320.23 393.80,320.20 393.84,320.18 393.96,320.14 394.08,320.08 394.20,320.01 394.32,319.93 394.40,319.89 394.44,319.86 394.56,319.79 394.68,319.72 394.80,319.69 394.92,319.66 395.00,319.64 395.04,319.64 395.16,319.61 395.28,319.59 395.40,319.56 395.52,319.44 395.60,319.36 395.64,319.32 395.76,319.20 395.88,319.08 396.00,318.96 396.12,318.87 396.20,318.92 396.24,318.94 396.36,319.00 396.48,319.07 396.60,319.13 396.72,319.19 396.80,319.24 396.84,319.21 396.96,319.14 397.08,319.06 397.20,318.99 397.32,318.91 397.40,318.86 397.44,318.84 397.56,318.81 397.68,318.83 397.80,318.85 397.92,318.87 398.00,318.88 398.04,318.89 398.16,318.91 398.28,318.83 398.40,318.69 398.52,318.55 398.60,318.46 398.64,318.42 398.76,318.28 398.88,318.14 399.00,318.22 399.12,318.33 399.20,318.40 399.24,318.44 399.36,318.55 399.48,318.67 399.60,318.78 399.72,318.69 399.80,318.64 399.84,318.61 399.96,318.52 400.08,318.43 400.20,318.35 400.32,318.28 400.40,318.33 400.44,318.35 400.56,318.42 400.68,318.48 400.80,318.55 400.92,318.61 401.00,318.66 401.04,318.60 401.16,318.41 401.28,318.23 401.40,318.05 401.52,317.87 401.60,317.75 401.64,317.69 401.76,317.66 401.88,317.77 402.00,317.89 402.12,318.01 402.20,318.09 402.24,318.13 402.36,318.25 402.48,318.25 402.60,318.20 402.72,318.14 402.80,318.11 402.84,318.09 402.96,318.03 403.08,317.98 403.20,317.90 403.32,317.82 403.40,317.77 403.44,317.75 403.56,317.67 403.68,317.59 403.80,317.51 403.92,317.55 404.00,317.58 404.04,317.59 404.16,317.63 404.28,317.67 404.40,317.71 404.52,317.73 404.60,317.66 404.64,317.63 404.76,317.54 404.88,317.44 405.00,317.34 405.12,317.25 405.20,317.18 405.24,317.22 405.36,317.33 405.48,317.44 405.60,317.54 405.72,317.65 405.80,317.73 405.84,317.76 405.96,317.71 406.08,317.50 406.20,317.28 406.32,317.07 406.40,316.93 406.44,316.86 406.56,316.64 406.68,316.74 406.80,317.00 406.92,317.25 407.00,317.42 407.04,317.50 407.16,317.76 407.28,318.01 407.40,317.84 407.52,317.58 407.60,317.41 407.64,317.32 407.76,317.06 407.88,316.80 408.00,316.54 408.12,316.48 408.20,316.44 408.24,316.42 408.36,316.36 408.48,316.29 408.60,316.23 408.72,316.16 408.80,316.06 408.84,316.01 408.96,315.86 409.08,315.72 409.20,315.57 409.32,315.42 409.40,315.33 409.44,315.40 409.56,315.63 409.68,315.85 409.80,316.08 409.92,316.31 410.00,316.46 410.04,316.53 410.16,316.60 410.28,316.53 410.40,316.45 410.52,316.37 410.60,316.31 410.64,316.29 410.76,316.21 410.88,316.13 411.00,316.06 411.12,315.99 411.20,315.94 411.24,315.92 411.36,315.85 411.48,315.78 411.60,315.74 411.72,315.71 411.80,315.69 411.84,315.68 411.96,315.66 412.08,315.63 412.20,315.60 412.32,315.54 412.40,315.50 412.44,315.48 412.56,315.42 412.68,315.37 412.80,315.31 412.92,315.27 413.00,315.34 413.04,315.37 413.16,315.47 413.28,315.57 413.40,315.67 413.52,315.76 413.60,315.82 413.64,315.81 413.76,315.76 413.88,315.71 414.00,315.66 414.12,315.61 414.20,315.57 414.24,315.55 414.36,315.50 414.48,315.45 414.60,315.40 414.72,315.34 414.80,315.30 414.84,315.28 414.96,315.21 415.08,315.06 415.20,314.85 415.32,314.64 415.40,314.50 415.44,314.43 415.56,314.22 415.68,314.02 415.80,313.99 415.92,313.97 416.00,313.94 416.04,313.91 416.16,313.81 416.28,313.63" fill="none" stroke="#000" stroke-width="2.1" stroke-linejoin="round" stroke-linecap="round" />
<polyline points="416.28,313.63 416.40,313.36 416.52,312.97 416.60,312.67 416.64,312.50 416.76,311.89 416.88,311.10 417.00,310.06 417.12,308.63 417.20,307.36 417.24,306.61 417.36,303.63 417.48,299.07 417.60,291.85 417.72,280.44 417.80,270.12 417.84,264.48 417.96,251.13 418.08,260.74 418.20,286.04 418.32,299.55 418.40,304.23 418.44,305.86 418.56,309.10 418.68,310.93 418.80,312.05 418.92,312.79 419.00,313.14 419.04,313.29 419.16,313.66 419.28,313.97" fill="none" stroke="#000" stroke-width="1.8" stroke-linejoin="round" stroke-linecap="round" />
<polyline points="419.28,313.97 419.40,314.22 419.52,314.43 419.60,314.56 419.64,314.61 419.76,314.76 419.88,314.88 420.00,314.88 420.12,314.84 420.20,314.81 420.24,314.79 420.36,314.74 420.48,314.69 420.60,314.62 420.72,314.67 420.80,314.70 420.84,314.72 420.96,314.76 421.08,314.80 421.20,314.83 421.32,314.86 421.40,314.85 421.44,314.84 421.56,314.83 421.68,314.81 421.80,314.79 421.92,314.76 422.00,314.75 422.04,314.69 422.16,314.49 422.28,314.30 422.40,314.10 422.52,313.91 422.60,313.78 422.64,313.72 422.76,313.73 422.88,313.95 423.00,314.17 423.12,314.39 423.20,314.54 423.24,314.61 423.36,314.83 423.48,314.86 423.60,314.78 423.72,314.70 423.80,314.65 423.84,314.63 423.96,314.55 424.08,314.47 424.20,314.52 424.32,314.58 424.40,314.63 424.44,314.65 424.56,314.72 424.68,314.78 424.80,314.85 424.92,314.89 425.00,314.92 425.04,314.93 425.16,314.97 425.28,315.01 425.40,315.05 425.52,315.09 425.60,315.13 425.64,315.14 425.76,315.19 425.88,315.24 426.00,315.29 426.12,315.34 426.20,315.37 426.24,315.32 426.36,315.17 426.48,315.02 426.60,314.87 426.72,314.72 426.80,314.62 426.84,314.57 426.96,314.55 427.08,314.67 427.20,314.79 427.32,314.91 427.40,314.99 427.44,315.03 427.56,315.15 427.68,315.22 427.80,315.27 427.92,315.32 428.00,315.35 428.04,315.36 428.16,315.41 428.28,315.45 428.40,315.38 428.52,315.28 428.60,315.22 428.64,315.18 428.76,315.08 428.88,314.98 429.00,314.89 429.12,314.89 429.20,314.89 429.24,314.89 429.36,314.90 429.48,314.90 429.60,314.91 429.72,314.91 429.80,314.92 429.84,314.92 429.96,314.94 430.08,314.95 430.20,314.97 430.32,314.98 430.40,314.99 430.44,314.99 430.56,314.98 430.68,314.98 430.80,314.97 430.92,314.96 431.00,314.96 431.04,314.96 431.16,314.93 431.28,314.87 431.40,314.82 431.52,314.76 431.60,314.72 431.64,314.71 431.76,314.65 431.88,314.66 432.00,314.70 432.12,314.75 432.20,314.78 432.24,314.79 432.36,314.83 432.48,314.88 432.60,314.69 432.72,314.47 432.80,314.32 432.84,314.24 432.96,314.01 433.08,313.79 433.20,313.56 433.32,313.52 433.40,313.49 433.44,313.47 433.56,313.43 433.68,313.39 433.80,313.35 433.92,313.34 434.00,313.47 434.04,313.54 434.16,313.74 434.28,313.93 434.40,314.13 434.52,314.32 434.60,314.45 434.64,314.48 434.76,314.55 434.88,314.62 435.00,314.68 435.12,314.75 435.20,314.80 435.24,314.82 435.36,314.72 435.48,314.45 435.60,314.17 435.72,313.90 435.80,313.72 435.84,313.62 435.96,313.35 436.08,313.23 436.20,313.20 436.32,313.16 436.40,313.13 436.44,313.12 436.56,313.08 436.68,313.04 436.80,313.17 436.92,313.32 437.00,313.42 437.04,313.47 437.16,313.62 437.28,313.78 437.40,313.93 437.52,314.02 437.60,314.07 437.64,314.10 437.76,314.19 437.88,314.27 438.00,314.36 438.12,314.41 438.20,314.33 438.24,314.29 438.36,314.17 438.48,314.04 438.60,313.92 438.72,313.80 438.80,313.71 438.84,313.75 438.96,313.85 439.08,313.94 439.20,314.04 439.32,314.14 439.40,314.21 439.44,314.24 439.56,314.32 439.68,314.38 439.80,314.45 439.92,314.51 440.00,314.55 440.04,314.57 440.16,314.64 440.28,314.58 440.40,314.47 440.52,314.36 440.60,314.28 440.64,314.25 440.76,314.13 440.88,314.02 441.00,314.05 441.12,314.11 441.20,314.16 441.24,314.18 441.36,314.24 441.48,314.30 441.60,314.36 441.72,314.32 441.80,314.29 441.84,314.27 441.96,314.23 442.08,314.18 442.20,314.14 442.32,314.10 442.40,314.13 442.44,314.14 442.56,314.18 442.68,314.22 442.80,314.25 442.92,314.29 443.00,314.31 443.60,313.52 444.20,313.22 444.80,313.51 445.40,313.86 446.00,313.70 446.60,313.06 447.20,313.41 447.80,312.78 448.40,312.76 449.00,312.44 449.60,312.34 450.20,312.47 450.80,312.36 451.40,313.04 452.00,312.49 452.60,312.66 453.20,312.86 453.80,311.97 454.40,311.26 455.00,312.61 455.60,311.97 456.20,311.94 456.80,311.63 457.40,311.15 458.00,310.95 458.60,311.09 459.20,311.14 459.80,310.67 460.40,310.73 461.00,311.15 461.60,310.88 462.20,310.57 462.80,310.72 463.40,310.90 464.00,310.00 464.60,310.61 465.20,309.99 465.80,310.25 466.40,310.15 467.00,309.55 467.60,309.77 468.20,309.82 468.80,310.41 469.40,309.53 470.00,309.09 470.60,309.37 471.20,309.77 471.80,309.59 472.40,309.09 473.00,309.34 473.60,309.06 474.20,309.03 474.80,308.94 475.40,308.71 476.00,308.68 476.60,308.57 477.20,308.23 477.80,308.23 478.30,308.28" fill="none" stroke="#000" stroke-width="2.1" stroke-linejoin="round" stroke-linecap="round" />
<polyline points="347.90,336.74 348.50,336.63 349.10,336.46 349.70,336.09 350.30,336.28 350.90,336.03 351.50,336.19 352.10,336.42 352.70,336.20 353.30,335.55 353.90,335.63 354.50,335.63 355.10,335.37 355.70,335.35 356.30,335.19 356.90,334.98 357.50,335.13 358.10,334.82 358.70,334.86 359.30,334.97 359.90,334.88 360.50,334.60 361.10,334.30 361.70,334.24 362.30,334.80 362.90,334.72 363.50,334.37 364.10,334.16 364.70,334.17 365.30,334.23 365.90,334.17 366.50,334.17 367.10,334.17 367.70,333.83 368.30,333.29 368.90,333.25 369.50,333.48 370.10,333.16 370.70,332.77 371.30,333.20 371.90,333.38 372.50,333.04 373.10,332.82 373.70,332.92 374.30,332.88 374.90,332.65 375.50,332.62 376.10,332.38 376.70,331.93 377.30,331.86 377.90,332.13 378.50,332.12 379.10,331.96 379.70,331.63 380.30,331.55 380.90,331.62 381.50,331.61 382.10,331.34 382.70,330.91 383.30,331.40 383.90,331.12 384.50,331.38 385.10,331.20 385.70,331.23 386.30,331.38 386.90,330.77 387.50,329.94 388.10,330.66 388.70,330.47 389.30,330.28 389.90,330.22 390.50,330.30 391.10,330.49 391.70,330.02 392.30,329.72 392.90,329.48 393.50,329.45 394.10,329.50 394.70,329.47 395.30,329.34 395.90,329.37 396.50,329.14 396.62,329.10 396.74,329.04 396.86,328.98 396.98,328.93 397.10,328.87 397.22,328.81 397.34,328.75 397.46,328.69 397.58,328.63 397.70,328.56 397.82,328.50 397.94,328.44 398.06,328.48 398.18,328.64 398.30,328.80 398.42,328.95 398.54,329.11 398.66,329.26 398.78,329.22 398.90,329.07 399.02,328.92 399.14,328.77 399.26,328.62 399.38,328.47 399.50,328.47 399.62,328.51 399.74,328.54 399.86,328.57 399.98,328.61 400.10,328.64 400.22,328.62 400.34,328.60 400.46,328.58 400.58,328.56 400.70,328.55 400.82,328.53 400.94,328.52 401.06,328.52 401.18,328.51 401.30,328.51 401.42,328.50 401.54,328.48 401.66,328.43 401.78,328.38 401.90,328.33 402.02,328.28 402.14,328.23 402.26,328.21 402.38,328.22 402.50,328.22 402.62,328.23 402.74,328.24 402.86,328.25 402.98,328.22 403.10,328.18 403.22,328.13 403.34,328.09 403.46,328.04 403.58,328.00 403.70,327.94 403.82,327.88 403.94,327.82 404.06,327.75 404.18,327.69 404.30,327.63 404.42,327.73 404.54,327.83 404.66,327.94 404.78,328.04 404.90,328.14 405.02,328.21 405.14,328.12 405.26,328.03 405.38,327.94 405.50,327.85 405.62,327.76 405.74,327.69 405.86,327.67 405.98,327.64 406.10,327.62 406.22,327.60 406.34,327.58 406.46,327.57 406.58,327.57 406.70,327.57 406.82,327.58 406.94,327.58 407.06,327.58 407.18,327.58 407.30,327.57 407.42,327.57 407.54,327.56 407.66,327.55 407.78,327.55 407.90,327.47 408.02,327.39 408.14,327.30 408.26,327.22 408.38,327.13 408.50,327.05 408.62,327.12 408.74,327.20 408.86,327.28 408.98,327.35 409.10,327.42 409.22,327.45 409.34,327.22 409.46,326.99 409.58,326.76 409.70,326.53 409.82,326.29 409.94,326.17 410.06,326.27 410.18,326.37 410.30,326.47 410.42,326.57 410.54,326.67 410.66,326.72 410.78,326.73 410.90,326.74 411.02,326.74 411.14,326.75 411.26,326.75 411.38,326.68 411.50,326.56 411.62,326.45 411.74,326.33 411.86,326.21 411.98,326.09 412.10,326.16 412.22,326.26 412.34,326.36 412.46,326.46 412.58,326.56 412.70,326.66 412.82,326.50 412.94,326.33 413.06,326.17 413.18,326.01 413.30,325.85 413.42,325.71 413.54,325.70 413.66,325.68 413.78,325.67 413.90,325.66 414.02,325.64 414.14,325.61 414.26,325.55 414.38,325.48 414.50,325.42 414.62,325.35 414.74,325.29 414.86,325.20 414.98,325.08 415.10,324.97 415.22,324.85 415.34,324.73 415.46,324.61 415.58,324.61 415.70,324.68 415.82,324.74 415.94,324.81 416.06,324.87 416.18,324.93 416.30,324.78 416.42,324.59 416.54,324.39 416.66,324.20 416.78,324.00 416.90,323.80 417.02,323.79 417.14,323.79 417.26,323.78 417.38,323.77 417.50,323.75 417.62,323.73 417.74,323.69 417.86,323.65 417.98,323.60 418.10,323.55 418.22,323.49 418.34,323.37 418.46,323.17 418.58,322.95 418.70,322.74 418.82,322.52 418.94,322.31 419.06,322.15 419.18,322.03 419.30,321.90 419.42,321.75 419.54,321.57 419.66,321.34" fill="none" stroke="#000" stroke-width="2.1" stroke-linejoin="round" stroke-linecap="round" />
<polyline points="419.66,321.34 419.78,321.04 419.90,320.68 420.02,320.29 420.14,319.83 420.26,319.25 420.38,318.53 420.50,317.58 420.62,316.30 420.74,314.51 420.86,311.88 420.98,307.88 421.10,301.56 421.22,291.57 421.34,277.63 421.46,265.97 421.58,274.35 421.70,296.45 421.82,308.29 421.94,313.90 422.06,316.83 422.18,318.56 422.30,319.68 422.42,320.46 422.54,321.05 422.66,321.51 422.78,321.87 422.90,322.15 423.02,322.38 423.14,322.59" fill="none" stroke="#000" stroke-width="1.8" stroke-linejoin="round" stroke-linecap="round" />
<polyline points="423.14,322.59 423.26,322.78 423.38,322.94 423.50,323.09 423.62,323.22 423.74,323.34 423.86,323.45 423.98,323.60 424.10,323.76 424.22,323.92 424.34,324.08 424.46,324.22 424.58,324.36 424.70,324.37 424.82,324.36 424.94,324.35 425.06,324.33 425.18,324.31 425.30,324.28 425.42,324.30 425.54,324.31 425.66,324.32 425.78,324.33 425.90,324.33 426.02,324.34 426.14,324.35 426.26,324.35 426.38,324.36 426.50,324.36 426.62,324.36 426.74,324.39 426.86,324.48 426.98,324.56 427.10,324.64 427.22,324.72 427.34,324.80 427.46,324.81 427.58,324.75 427.70,324.69 427.82,324.63 427.94,324.57 428.06,324.51 428.18,324.50 428.30,324.51 428.42,324.52 428.54,324.53 428.66,324.53 428.78,324.54 428.90,324.54 429.02,324.52 429.14,324.51 429.26,324.50 429.38,324.49 429.50,324.48 429.62,324.45 429.74,324.42 429.86,324.39 429.98,324.36 430.10,324.33 430.22,324.29 430.34,324.23 430.46,324.17 430.58,324.10 430.70,324.04 430.82,323.98 430.94,323.96 431.06,324.03 431.18,324.09 431.30,324.16 431.42,324.23 431.54,324.30 431.66,324.30 431.78,324.24 431.90,324.17 432.02,324.10 432.14,324.04 432.26,323.97 432.38,323.89 432.50,323.81 432.62,323.72 432.74,323.64 432.86,323.55 432.98,323.47 433.10,323.50 433.22,323.55 433.34,323.60 433.46,323.65 433.58,323.70 433.70,323.75 433.82,323.77 433.94,323.79 434.06,323.81 434.18,323.83 434.30,323.85 434.42,323.87 434.54,323.95 434.66,324.02 434.78,324.09 434.90,324.16 435.02,324.24 435.14,324.25 435.26,324.13 435.38,324.01 435.50,323.90 435.62,323.78 435.74,323.66 435.86,323.63 435.98,323.67 436.10,323.71 436.22,323.75 436.34,323.79 436.46,323.83 436.58,323.78 436.70,323.67 436.82,323.56 436.94,323.45 437.06,323.35 437.18,323.24 437.30,323.25 437.42,323.29 437.54,323.33 437.66,323.37 437.78,323.41 437.90,323.45 438.02,323.46 438.14,323.48 438.26,323.49 438.38,323.50 438.50,323.52 438.62,323.52 438.74,323.47 438.86,323.42 438.98,323.36 439.10,323.31 439.22,323.26 439.34,323.22 439.46,323.21 439.58,323.20 439.70,323.19 439.82,323.18 439.94,323.17 440.06,323.19 440.18,323.23 440.30,323.27 440.42,323.31 440.54,323.35 440.66,323.39 440.78,323.26 440.90,323.04 441.02,322.82 441.14,322.60 441.26,322.38 441.38,322.16 441.50,322.19 441.62,322.27 441.74,322.35 441.86,322.44 441.98,322.52 442.10,322.60 442.22,322.67 442.34,322.75 442.46,322.83 442.58,322.90 442.70,322.98 442.82,323.04 442.94,323.03 443.06,323.02 443.18,323.01 443.30,323.00 443.42,322.98 443.54,322.94 443.66,322.85 443.78,322.75 443.90,322.65 444.02,322.55 444.14,322.46 444.26,322.39 444.38,322.35 444.50,322.31 444.62,322.28 444.74,322.24 444.86,322.20 444.98,322.21 445.10,322.24 445.22,322.27 445.34,322.30 445.46,322.33 445.58,322.36 445.70,322.33 445.82,322.28 445.94,322.24 446.06,322.19 446.18,322.15 446.30,322.10 446.42,322.08 446.90,322.00 447.50,321.88 448.10,321.63 448.70,321.76 449.30,322.13 449.90,322.09 450.50,322.03 451.10,321.71 451.70,321.07 452.30,321.04 452.90,321.28 453.50,321.32 454.10,321.18 454.70,321.43 455.30,320.99 455.90,320.93 456.50,321.09 457.10,320.92 457.70,320.47 458.30,320.26 458.90,320.27 459.50,320.65 460.10,320.56 460.70,320.15 461.30,320.04 461.90,320.16 462.50,319.98 463.10,320.26 463.70,319.89 464.30,319.71 464.90,319.61 465.50,319.59 466.10,319.71 466.70,319.79 467.30,319.13 467.90,319.47 468.50,319.07 469.10,318.98 469.70,318.72 470.30,318.47 470.90,318.83 471.50,318.30 472.10,318.86 472.70,318.70 473.30,318.04 473.90,317.70 474.50,317.68 475.10,317.54 475.70,318.26 476.30,317.91 476.90,318.02 477.50,317.65 478.10,317.55 478.70,317.74 479.30,317.56 479.90,317.91 480.50,317.51 481.10,317.45 481.70,317.48 482.30,317.23 482.90,316.83 483.10,316.80" fill="none" stroke="#000" stroke-width="2.1" stroke-linejoin="round" stroke-linecap="round" />
<polyline points="351.80,351.97 352.40,351.90 353.00,351.78 353.60,351.74 354.20,351.81 354.80,351.63 355.40,351.51 356.00,351.38 356.60,351.22 357.20,351.12 357.80,351.05 358.40,350.94 359.00,350.85 359.60,350.82 360.20,350.75 360.80,350.65 361.40,350.60 362.00,350.41 362.60,350.34 363.20,350.16 363.80,350.09 364.40,350.03 365.00,349.96 365.60,349.94 366.20,349.73 366.80,349.81 367.40,349.64 368.00,349.59 368.60,349.54 369.20,349.43 369.80,349.37 370.40,349.14 371.00,349.08 371.60,349.04 372.20,349.00 372.80,348.91 373.40,348.79 374.00,348.72 374.60,348.70 375.20,348.50 375.80,348.31 376.40,348.26 377.00,348.28 377.60,348.22 378.20,348.03 378.80,347.93 379.40,347.85 380.00,347.82 380.60,347.79 381.20,347.61 381.80,347.40 382.40,347.39 383.00,347.30 383.60,347.14 384.20,347.18 384.80,347.09 385.40,346.95 386.00,346.86 386.60,346.79 387.20,346.64 387.80,346.66 388.40,346.51 389.00,346.45 389.60,346.41 390.20,346.29 390.80,346.14 391.40,346.07 392.00,345.92 392.60,345.91 393.20,345.86 393.80,345.69 394.40,345.53 395.00,345.56 395.60,345.51 396.20,345.43 396.80,345.27 397.40,345.14 398.00,345.06 398.60,345.02 399.20,344.95 399.80,344.77 400.40,344.74 401.00,344.63 401.40,344.54 401.52,344.52 401.60,344.50 401.64,344.49 401.76,344.46 401.88,344.44 402.00,344.41 402.12,344.38 402.20,344.37 402.24,344.36 402.36,344.33 402.48,344.30 402.60,344.27 402.72,344.27 402.80,344.26 402.84,344.26 402.96,344.25 403.08,344.24 403.20,344.23 403.32,344.22 403.40,344.21 403.44,344.21 403.56,344.19 403.68,344.18 403.80,344.16 403.92,344.15 404.00,344.14 404.04,344.14 404.16,344.13 404.28,344.12 404.40,344.11 404.52,344.11 404.60,344.10 404.64,344.10 404.76,344.10 404.88,344.11 405.00,344.13 405.12,344.14 405.20,344.15 405.24,344.15 405.36,344.16 405.48,344.12 405.60,344.05 405.72,343.97 405.80,343.93 405.84,343.90 405.96,343.83 406.08,343.76 406.20,343.76 406.32,343.78 406.40,343.79 406.44,343.80 406.56,343.81 406.68,343.83 406.80,343.85 406.92,343.80 407.00,343.77 407.04,343.75 407.16,343.70 407.28,343.66 407.40,343.61 407.52,343.57 407.60,343.56 407.64,343.55 407.76,343.54 407.88,343.53 408.00,343.52 408.12,343.51 408.20,343.51 408.24,343.50 408.36,343.47 408.48,343.45 408.60,343.43 408.72,343.40 408.80,343.39 408.84,343.38 408.96,343.36 409.08,343.36 409.20,343.35 409.32,343.34 409.40,343.33 409.44,343.33 409.56,343.32 409.68,343.31 409.80,343.29 409.92,343.28 410.00,343.27 410.04,343.27 410.16,343.26 410.28,343.24 410.40,343.22 410.52,343.20 410.60,343.19 410.64,343.18 410.76,343.16 410.88,343.14 411.00,343.11 411.12,343.11 411.20,343.11 411.24,343.12 411.36,343.12 411.48,343.12 411.60,343.12 411.72,343.11 411.80,343.07 411.84,343.06 411.96,343.01 412.08,342.96 412.20,342.91 412.32,342.86 412.40,342.82 412.44,342.82 412.56,342.82 412.68,342.82 412.80,342.82 412.92,342.82 413.00,342.82 413.04,342.82 413.16,342.80 413.28,342.76 413.40,342.73 413.52,342.69 413.60,342.66 413.64,342.65 413.76,342.61 413.88,342.58 414.00,342.55 414.12,342.52 414.20,342.50 414.24,342.49 414.36,342.47 414.48,342.44 414.60,342.43 414.72,342.42 414.80,342.41 414.84,342.41 414.96,342.40 415.08,342.39 415.20,342.38 415.32,342.33 415.40,342.31 415.44,342.29 415.56,342.25 415.68,342.21 415.80,342.17 415.92,342.13 416.00,342.14 416.04,342.15 416.16,342.16 416.28,342.17 416.40,342.19 416.52,342.20 416.60,342.21 416.64,342.20 416.76,342.18 416.88,342.16 417.00,342.14 417.12,342.12 417.20,342.10 417.24,342.09 417.36,342.06 417.48,342.01 417.60,341.96 417.72,341.91 417.80,341.87 417.84,341.85 417.96,341.80 418.08,341.76 418.20,341.72 418.32,341.68 418.40,341.65 418.44,341.63 418.56,341.59 418.68,341.55 418.80,341.54 418.92,341.53 419.00,341.53 419.04,341.53 419.16,341.52 419.28,341.52 419.40,341.51 419.52,341.47 419.60,341.44 419.64,341.43 419.76,341.39 419.88,341.34 420.00,341.30 420.12,341.26 420.20,341.23 420.24,341.22 420.36,341.19 420.48,341.16 420.60,341.12 420.72,341.08 420.80,341.06 420.84,341.03 420.96,340.96 421.08,340.89 421.20,340.82 421.32,340.74 421.40,340.69 421.44,340.66 421.56,340.60 421.68,340.55 421.80,340.49 421.92,340.44 422.00,340.40 422.04,340.38 422.16,340.31 422.28,340.24 422.40,340.15 422.52,340.06 422.60,339.99 422.64,339.96 422.76,339.85 422.88,339.74 423.00,339.62 423.12,339.50 423.20,339.41 423.24,339.36 423.36,339.20 423.48,339.03 423.60,338.84 423.72,338.59 423.80,338.41" fill="none" stroke="#000" stroke-width="2.1" stroke-linejoin="round" stroke-linecap="round" />
<polyline points="423.80,338.41 423.84,338.32 423.96,338.03 424.08,337.72 424.20,337.38 424.32,337.01 424.40,336.74 424.44,336.60 424.56,336.13 424.68,335.59 424.80,334.96 424.92,334.24 425.00,333.69 425.04,333.39 425.16,332.38 425.28,331.16 425.40,329.67 425.52,327.83 425.60,326.34 425.64,325.50 425.76,322.52 425.88,318.72 426.00,313.98 426.12,308.52 426.20,304.92 426.24,303.31 426.36,300.23 426.48,302.39 426.60,311.22 426.72,319.68 426.80,323.92 426.84,325.64 426.96,329.59 427.08,332.26 427.20,334.10 427.32,335.41 427.40,336.09 427.44,336.38 427.56,337.10 427.68,337.65 427.80,338.07 427.92,338.38 428.00,338.54 428.04,338.62 428.16,338.83" fill="none" stroke="#000" stroke-width="1.8" stroke-linejoin="round" stroke-linecap="round" />
<polyline points="428.16,338.83 428.28,339.00 428.40,339.15 428.52,339.29 428.60,339.36 428.64,339.40 428.76,339.50 428.88,339.59 429.00,339.67 429.12,339.74 429.20,339.78 429.24,339.79 429.36,339.82 429.48,339.85 429.60,339.87 429.72,339.88 429.80,339.89 429.84,339.90 429.96,339.92 430.08,339.97 430.20,340.00 430.32,340.04 430.40,340.06 430.44,340.08 430.56,340.11 430.68,340.09 430.80,340.05 430.92,340.01 431.00,339.98 431.04,339.96 431.16,339.92 431.28,339.87 431.40,339.89 431.52,339.92 431.60,339.95 431.64,339.96 431.76,339.99 431.88,340.02 432.00,340.05 432.12,339.98 432.20,339.94 432.24,339.92 432.36,339.86 432.48,339.79 432.60,339.73 432.72,339.68 432.80,339.70 432.84,339.71 432.96,339.73 433.08,339.75 433.20,339.78 433.32,339.80 433.40,339.82 433.44,339.80 433.56,339.77 433.68,339.73 433.80,339.70 433.92,339.66 434.00,339.64 434.04,339.63 434.16,339.60 434.28,339.57 434.40,339.54 434.52,339.51 434.60,339.49 434.64,339.48 434.76,339.45 434.88,339.44 435.00,339.45 435.12,339.45 435.20,339.45 435.24,339.45 435.36,339.45 435.48,339.45 435.60,339.45 435.72,339.45 435.80,339.45 435.84,339.45 435.96,339.45 436.08,339.45 436.20,339.45 436.32,339.41 436.40,339.39 436.44,339.38 436.56,339.34 436.68,339.30 436.80,339.27 436.92,339.23 437.00,339.22 437.04,339.21 437.16,339.19 437.28,339.17 437.40,339.14 437.52,339.12 437.60,339.11 437.64,339.11 437.76,339.12 437.88,339.13 438.00,339.14 438.12,339.14 438.20,339.15 438.24,339.15 438.36,339.12 438.48,339.05 438.60,338.98 438.72,338.91 438.80,338.86 438.84,338.84 438.96,338.77 439.08,338.76 439.20,338.78 439.32,338.80 439.40,338.81 439.44,338.82 439.56,338.84 439.68,338.86 439.80,338.86 439.92,338.85 440.00,338.84 440.04,338.84 440.16,338.83 440.28,338.82 440.40,338.81 440.52,338.77 440.60,338.75 440.64,338.74 440.76,338.70 440.88,338.66 441.00,338.62 441.12,338.59 441.20,338.58 441.24,338.58 441.36,338.57 441.48,338.56 441.60,338.55 441.72,338.54 441.80,338.53 441.84,338.53 441.96,338.53 442.08,338.53 442.20,338.53 442.32,338.53 442.40,338.53 442.44,338.53 442.56,338.52 442.68,338.49 442.80,338.46 442.92,338.43 443.00,338.41 443.04,338.40 443.16,338.37 443.28,338.34 443.40,338.30 443.52,338.26 443.60,338.24 443.64,338.23 443.76,338.19 443.88,338.15 444.00,338.15 444.12,338.15 444.20,338.15 444.24,338.15 444.36,338.16 444.48,338.16 444.60,338.16 444.72,338.12 444.80,338.10 444.84,338.09 444.96,338.05 445.08,338.01 445.20,337.97 445.32,337.94 445.40,337.95 445.44,337.96 445.56,337.97 445.68,337.98 445.80,338.00 445.92,338.01 446.00,338.02 446.04,338.01 446.16,337.98 446.28,337.95 446.40,337.92 446.52,337.89 446.60,337.87 446.64,337.86 446.76,337.84 446.88,337.83 447.00,337.83 447.12,337.82 447.20,337.81 447.24,337.81 447.36,337.80 447.48,337.79 447.60,337.78 447.72,337.76 447.80,337.75 447.84,337.75 447.96,337.74 448.08,337.72 448.20,337.70 448.32,337.67 448.40,337.65 448.44,337.64 448.56,337.61 448.68,337.58 448.80,337.55 448.92,337.51 449.00,337.48 449.04,337.47 449.16,337.43 449.28,337.38 449.40,337.34 449.52,337.30 449.60,337.30 449.64,337.30 449.76,337.29 449.88,337.29 450.00,337.28 450.12,337.28 450.20,337.28 450.24,337.27 450.36,337.27 450.48,337.26 450.60,337.25 450.72,337.25 450.80,337.24 450.84,337.24 450.96,337.24 451.08,337.23 451.20,337.23 451.32,337.23 451.40,337.22 452.00,337.11 452.60,337.03 453.20,336.95 453.80,336.75 454.40,336.79 455.00,336.46 455.60,336.51 456.20,336.42 456.80,336.28 457.40,336.21 458.00,336.13 458.60,335.92 459.20,336.00 459.80,335.98 460.40,335.88 461.00,335.83 461.60,335.71 462.20,335.40 462.80,335.47 463.40,335.33 464.00,335.16 464.60,335.17 465.20,335.15 465.80,335.03 466.40,334.91 467.00,334.71 467.60,334.69 468.20,334.65 468.80,334.59 469.40,334.52 470.00,334.48 470.60,334.39 471.20,334.17 471.80,334.04 472.40,333.91 473.00,333.89 473.60,333.92 474.20,333.87 474.80,333.69 475.40,333.69 476.00,333.44 476.60,333.35 477.20,333.29 477.80,333.19 478.40,333.08 479.00,333.02 479.60,332.99 480.20,332.87 480.80,332.82 481.40,332.73 482.00,332.63 482.60,332.52 483.20,332.35 483.80,332.30 484.40,332.22 485.00,332.22 485.60,332.10 486.20,331.95 486.80,331.81 487.40,331.66 488.00,331.79 488.60,331.61 489.20,331.47 489.80,331.27 490.40,331.18 491.00,331.22 491.40,331.26" fill="none" stroke="#000" stroke-width="2.1" stroke-linejoin="round" stroke-linecap="round" />
<polyline points="356.00,367.51 356.60,367.39 357.20,367.31 357.80,367.17 358.40,367.20 359.00,367.02 359.60,366.85 360.20,366.72 360.80,366.67 361.40,366.73 362.00,366.56 362.60,366.40 363.20,366.32 363.80,366.22 364.40,366.11 365.00,366.00 365.60,365.86 366.20,365.80 366.80,365.80 367.40,365.56 368.00,365.51 368.60,365.51 369.20,365.43 369.80,365.33 370.40,365.29 371.00,365.13 371.60,365.00 372.20,364.89 372.80,364.84 373.40,364.75 374.00,364.52 374.60,364.54 375.20,364.40 375.80,364.36 376.40,364.23 377.00,364.11 377.60,364.05 378.20,363.97 378.80,363.81 379.40,363.76 380.00,363.69 380.60,363.57 381.20,363.45 381.80,363.36 382.40,363.29 383.00,363.28 383.60,363.07 384.20,363.02 384.80,362.86 385.40,362.72 386.00,362.67 386.60,362.62 387.20,362.55 387.80,362.37 388.40,362.31 389.00,362.19 389.60,362.07 390.20,362.01 390.80,361.97 391.40,361.85 392.00,361.74 392.60,361.59 393.20,361.57 393.80,361.54 394.40,361.41 395.00,361.26 395.60,361.19 396.20,361.03 396.80,360.99 397.40,360.90 398.00,360.78 398.60,360.65 399.20,360.50 399.80,360.45 400.40,360.33 401.00,360.31 401.60,360.21 402.20,360.13 402.80,360.08 403.40,359.92 404.00,359.72 404.60,359.77 405.20,359.69 405.80,359.56 406.40,359.40 407.00,359.28 407.60,359.28 407.72,359.26 407.84,359.24 407.96,359.22 408.08,359.20 408.20,359.18 408.32,359.16 408.44,359.14 408.56,359.12 408.68,359.10 408.80,359.08 408.92,359.05 409.04,359.00 409.16,358.95 409.28,358.90 409.40,358.85 409.52,358.80 409.64,358.77 409.76,358.76 409.88,358.76 410.00,358.75 410.12,358.75 410.24,358.74 410.36,358.73 410.48,358.70 410.60,358.68 410.72,358.66 410.84,358.64 410.96,358.62 411.08,358.60 411.20,358.58 411.32,358.55 411.44,358.53 411.56,358.51 411.68,358.49 411.80,358.48 411.92,358.47 412.04,358.45 412.16,358.44 412.28,358.43 412.40,358.42 412.52,358.42 412.64,358.41 412.76,358.41 412.88,358.41 413.00,358.40 413.12,358.40 413.24,358.38 413.36,358.36 413.48,358.35 413.60,358.33 413.72,358.31 413.84,358.29 413.96,358.26 414.08,358.22 414.20,358.19 414.32,358.15 414.44,358.12 414.56,358.09 414.68,358.07 414.80,358.05 414.92,358.03 415.04,358.00 415.16,357.98 415.28,357.97 415.40,357.96 415.52,357.95 415.64,357.95 415.76,357.94 415.88,357.93 416.00,357.90 416.12,357.87 416.24,357.83 416.36,357.79 416.48,357.76 416.60,357.72 416.72,357.72 416.84,357.71 416.96,357.71 417.08,357.71 417.20,357.70 417.32,357.70 417.44,357.67 417.56,357.64 417.68,357.61 417.80,357.58 417.92,357.55 418.04,357.52 418.16,357.49 418.28,357.46 418.40,357.42 418.52,357.39 418.64,357.36 418.76,357.34 418.88,357.35 419.00,357.35 419.12,357.36 419.24,357.36 419.36,357.36 419.48,357.34 419.60,357.30 419.72,357.26 419.84,357.22 419.96,357.18 420.08,357.14 420.20,357.13 420.32,357.12 420.44,357.12 420.56,357.11 420.68,357.10 420.80,357.10 420.92,357.06 421.04,357.03 421.16,356.99 421.28,356.96 421.40,356.92 421.52,356.89 421.64,356.88 421.76,356.86 421.88,356.85 422.00,356.84 422.12,356.83 422.24,356.81 422.36,356.78 422.48,356.75 422.60,356.73 422.72,356.70 422.84,356.67 422.96,356.65 423.08,356.63 423.20,356.61 423.32,356.59 423.44,356.57 423.56,356.55 423.68,356.52 423.80,356.49 423.92,356.47 424.04,356.44 424.16,356.41 424.28,356.38 424.40,356.37 424.52,356.36 424.64,356.35 424.76,356.35 424.88,356.34 425.00,356.33 425.12,356.28 425.24,356.23 425.36,356.18 425.48,356.13 425.60,356.07 425.72,356.03 425.84,356.01 425.96,355.99 426.08,355.96 426.20,355.94 426.32,355.92 426.44,355.89 426.56,355.86 426.68,355.83 426.80,355.79 426.92,355.76 427.04,355.72 427.16,355.70 427.28,355.67 427.40,355.65 427.52,355.63 427.64,355.60 427.76,355.58 427.88,355.52 428.00,355.46 428.12,355.39 428.24,355.32 428.36,355.25 428.48,355.17 428.60,355.10 428.72,355.04 428.84,354.96 428.96,354.88 429.08,354.80 429.20,354.71 429.32,354.62 429.44,354.52 429.56,354.41 429.68,354.30 429.80,354.17 429.92,354.04 430.04,353.90 430.16,353.74 430.28,353.56 430.40,353.36 430.52,353.12" fill="none" stroke="#000" stroke-width="2.1" stroke-linejoin="round" stroke-linecap="round" />
<polyline points="430.52,353.12 430.64,352.85 430.76,352.54 430.88,352.18 431.00,351.76 431.12,351.27 431.24,350.69 431.36,349.99 431.48,349.13 431.60,348.07 431.72,346.74 431.84,345.02 431.96,342.76 432.08,339.78 432.20,335.88 432.32,331.11 432.44,326.25 432.56,323.22 432.68,325.35 432.80,333.46 432.92,340.49 433.04,345.04 433.16,347.89 433.28,349.73 433.40,350.97 433.52,351.83 433.64,352.44 433.76,352.90 433.88,353.25 434.00,353.51" fill="none" stroke="#000" stroke-width="1.8" stroke-linejoin="round" stroke-linecap="round" />
<polyline points="434.00,353.51 434.12,353.71 434.24,353.88 434.36,354.01 434.48,354.12 434.60,354.20 434.72,354.27 434.84,354.32 434.96,354.35 435.08,354.37 435.20,354.38 435.32,354.39 435.44,354.39 435.56,354.40 435.68,354.42 435.80,354.44 435.92,354.45 436.04,354.47 436.16,354.48 436.28,354.48 436.40,354.48 436.52,354.47 436.64,354.46 436.76,354.46 436.88,354.45 437.00,354.43 437.12,354.42 437.24,354.41 437.36,354.39 437.48,354.38 437.60,354.36 437.72,354.35 437.84,354.34 437.96,354.33 438.08,354.31 438.20,354.30 438.32,354.28 438.44,354.25 438.56,354.22 438.68,354.19 438.80,354.16 438.92,354.13 439.04,354.11 439.16,354.11 439.28,354.12 439.40,354.12 439.52,354.13 439.64,354.13 439.76,354.12 439.88,354.09 440.00,354.06 440.12,354.03 440.24,354.00 440.36,353.97 440.48,353.94 440.60,353.92 440.72,353.89 440.84,353.87 440.96,353.85 441.08,353.82 441.20,353.81 441.32,353.80 441.44,353.79 441.56,353.78 441.68,353.77 441.80,353.76 441.92,353.75 442.04,353.73 442.16,353.71 442.28,353.70 442.40,353.68 442.52,353.66 442.64,353.64 442.76,353.62 442.88,353.60 443.00,353.57 443.12,353.55 443.24,353.53 443.36,353.52 443.48,353.50 443.60,353.49 443.72,353.48 443.84,353.47 443.96,353.44 444.08,353.41 444.20,353.38 444.32,353.34 444.44,353.31 444.56,353.28 444.68,353.26 444.80,353.25 444.92,353.23 445.04,353.22 445.16,353.21 445.28,353.20 445.40,353.18 445.52,353.16 445.64,353.14 445.76,353.12 445.88,353.10 446.00,353.08 446.12,353.06 446.24,353.04 446.36,353.03 446.48,353.01 446.60,353.00 446.72,352.98 446.84,352.96 446.96,352.94 447.08,352.92 447.20,352.90 447.32,352.88 447.44,352.86 447.56,352.84 447.68,352.82 447.80,352.80 447.92,352.78 448.04,352.76 448.16,352.75 448.28,352.75 448.40,352.74 448.52,352.74 448.64,352.74 448.76,352.73 448.88,352.72 449.00,352.71 449.12,352.70 449.24,352.69 449.36,352.68 449.48,352.67 449.60,352.62 449.72,352.57 449.84,352.52 449.96,352.47 450.08,352.42 450.20,352.37 450.32,352.37 450.44,352.36 450.56,352.36 450.68,352.36 450.80,352.35 450.92,352.35 451.04,352.32 451.16,352.29 451.28,352.26 451.40,352.23 451.52,352.20 451.64,352.17 451.76,352.13 451.88,352.09 452.00,352.05 452.12,352.01 452.24,351.97 452.36,351.96 452.48,351.97 452.60,351.98 452.72,351.99 452.84,352.00 452.96,352.00 453.08,351.99 453.20,351.96 453.32,351.93 453.44,351.91 453.56,351.88 453.68,351.85 453.80,351.83 453.92,351.80 454.04,351.78 454.16,351.76 454.28,351.74 454.40,351.72 454.52,351.70 454.64,351.68 454.76,351.66 454.88,351.65 455.00,351.63 455.12,351.61 455.24,351.60 455.36,351.60 455.48,351.59 455.60,351.58 455.72,351.57 455.84,351.55 455.96,351.52 456.08,351.49 456.20,351.46 456.32,351.43 456.44,351.40 456.56,351.38 456.68,351.38 456.80,351.38 456.92,351.37 457.04,351.37 457.16,351.36 457.28,351.33 457.40,351.29 457.52,351.25 458.00,351.12 458.60,351.07 459.20,350.97 459.80,350.91 460.40,350.82 461.00,350.76 461.60,350.70 462.20,350.53 462.80,350.41 463.40,350.39 464.00,350.24 464.60,350.14 465.20,350.04 465.80,349.95 466.40,349.87 467.00,349.76 467.60,349.77 468.20,349.60 468.80,349.48 469.40,349.41 470.00,349.35 470.60,349.28 471.20,349.07 471.80,348.97 472.40,348.94 473.00,348.82 473.60,348.68 474.20,348.59 474.80,348.50 475.40,348.45 476.00,348.34 476.60,348.13 477.20,348.09 477.80,348.03 478.40,347.91 479.00,347.85 479.60,347.71 480.20,347.68 480.80,347.48 481.40,347.47 482.00,347.41 482.60,347.25 483.20,347.16 483.80,347.11 484.40,347.08 485.00,346.90 485.60,346.79 486.20,346.69 486.80,346.57 487.40,346.50 488.00,346.46 488.60,346.41 489.20,346.25 489.80,346.12 490.40,345.98 491.00,345.86 491.60,345.84 492.20,345.72 492.80,345.62 493.40,345.50 494.00,345.37 494.60,345.30 495.20,345.28 495.80,345.26 496.40,345.03 497.00,345.04 497.60,344.89 498.20,344.76 498.80,344.69 499.40,344.63 500.00,344.54" fill="none" stroke="#000" stroke-width="2.1" stroke-linejoin="round" stroke-linecap="round" />
</svg></body></html>
